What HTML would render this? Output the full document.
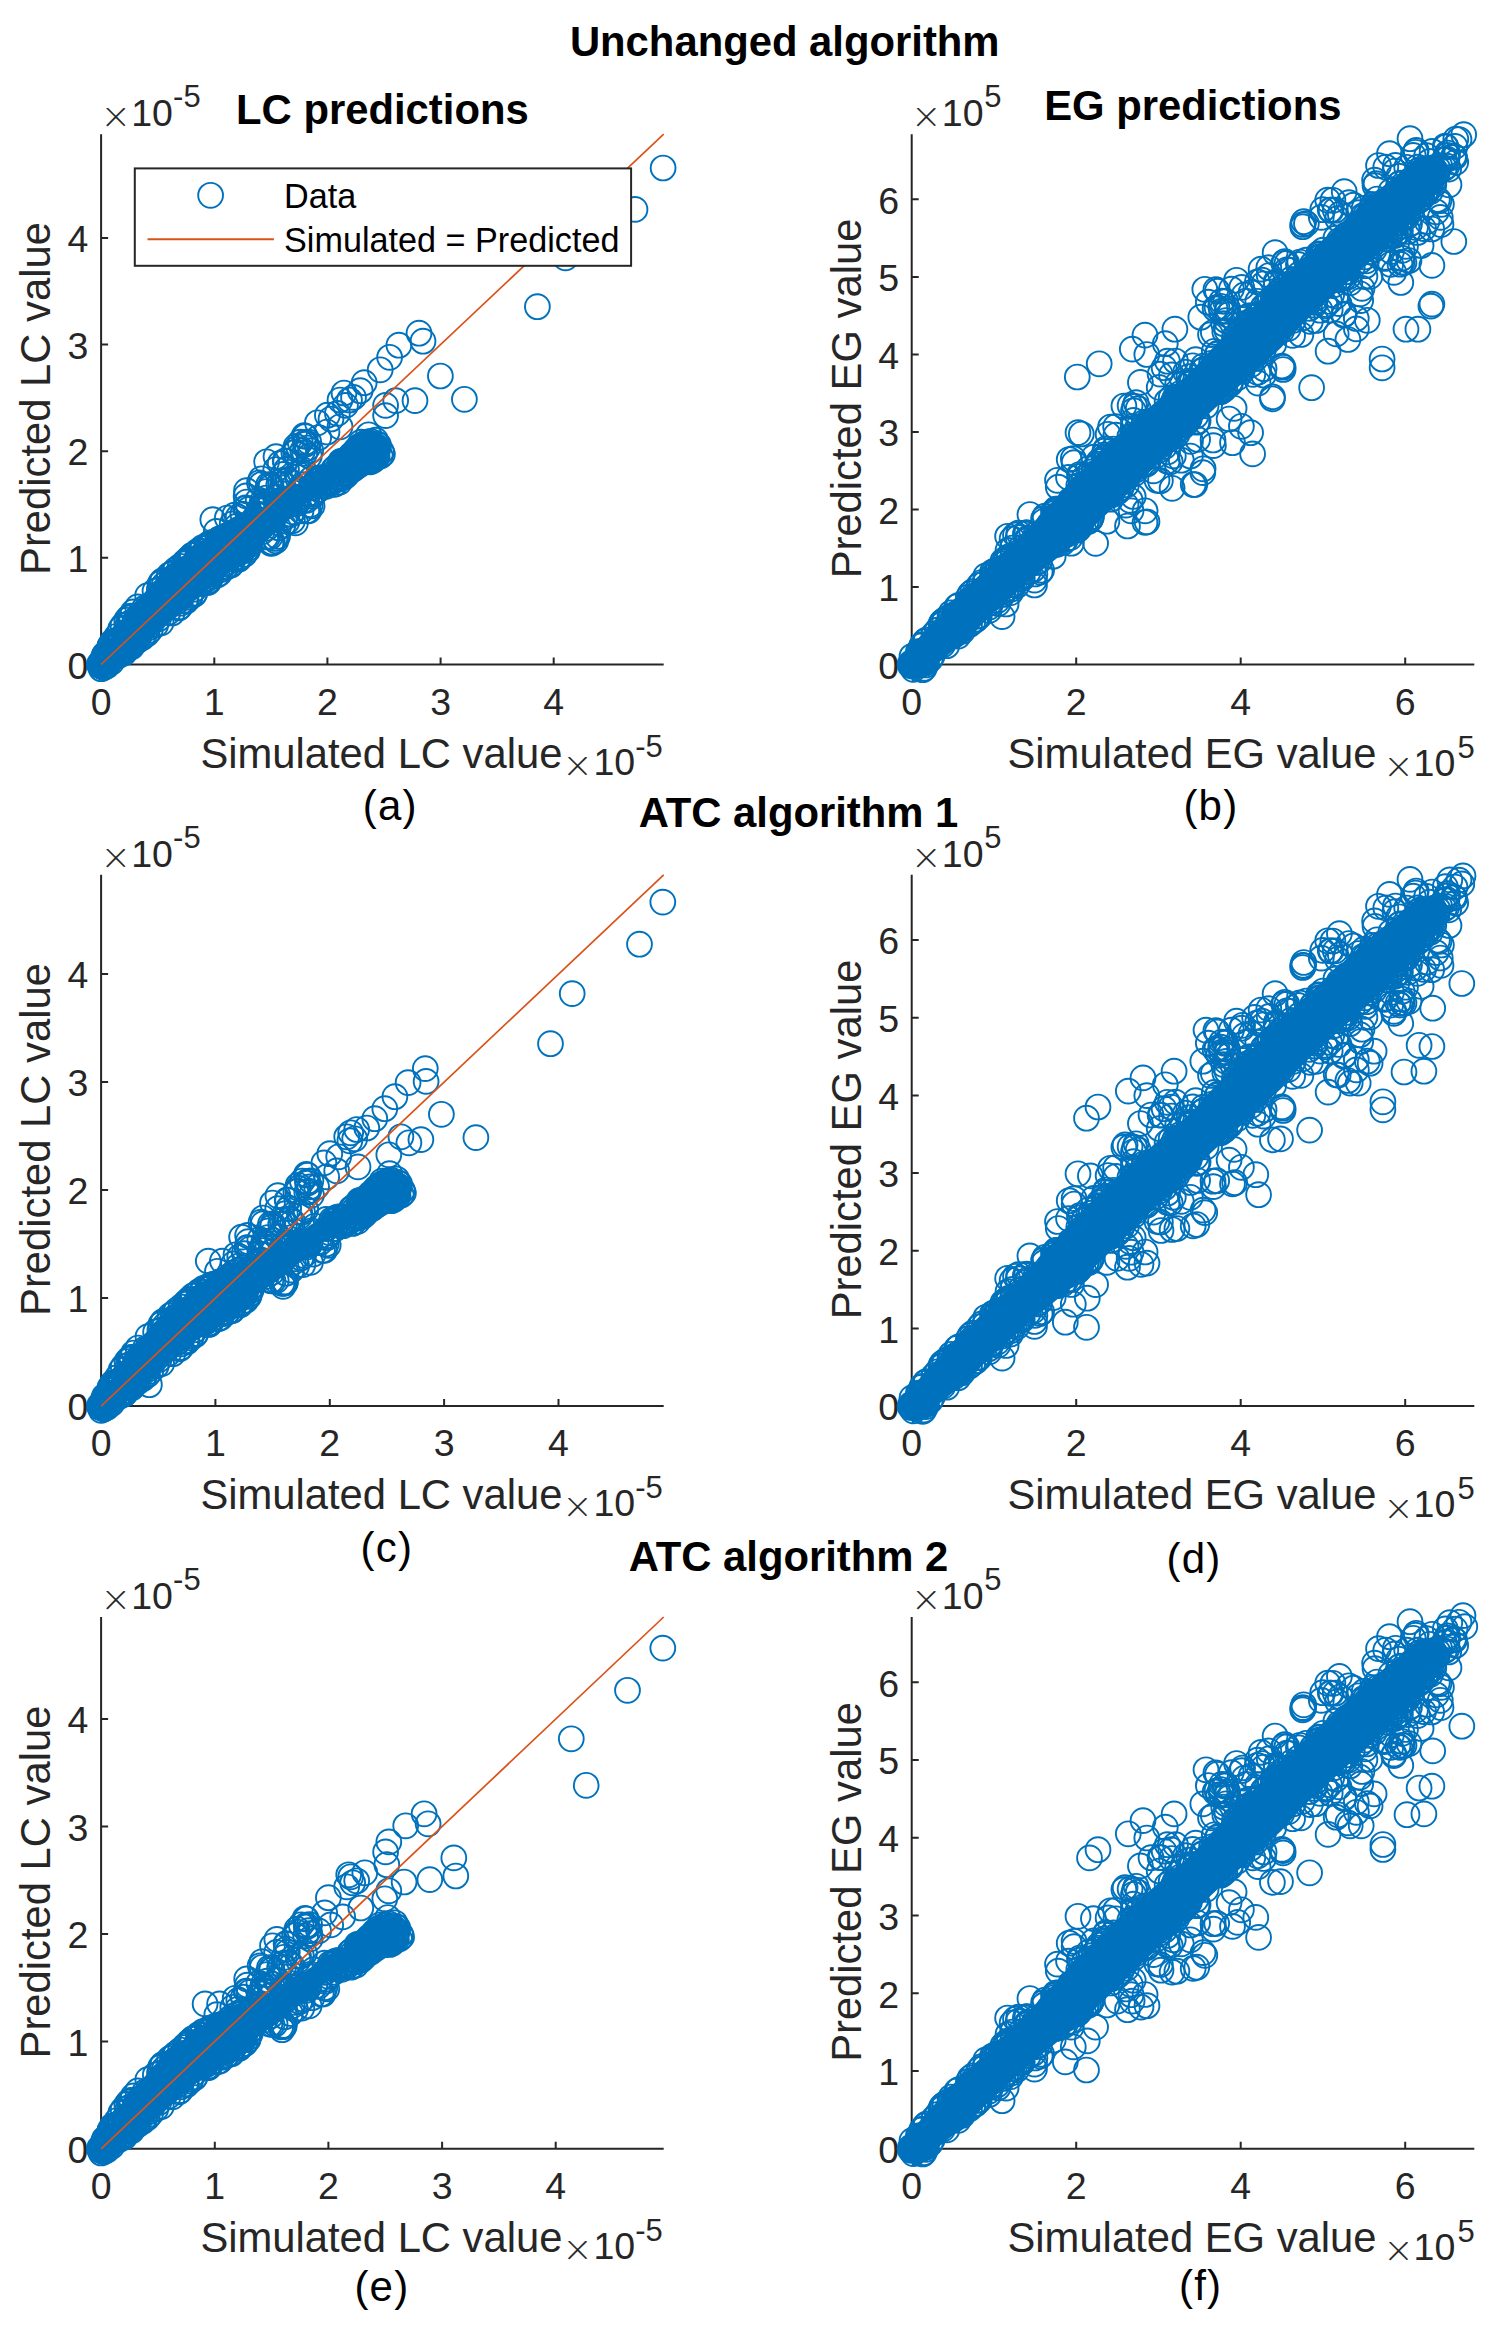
<!DOCTYPE html>
<html><head><meta charset="utf-8"><title>Figure</title>
<style>html,body{margin:0;padding:0;background:#fff}svg{display:block}text{font-family:"Liberation Sans",sans-serif;fill:#262626}.tk{font-size:37.5px}.lb{font-size:41.75px}.sp{font-size:31px}.xx{font-size:48px;stroke:#fff;stroke-width:1.5px}.tt{font-size:41.8px;font-weight:bold;fill:#000}.pl{font-size:42px;fill:#000;letter-spacing:1.2px}.lg{font-size:34.2px;fill:#000}</style></head><body>
<svg width="1496" height="2334" viewBox="0 0 1496 2334">
<rect width="1496" height="2334" fill="#fff"/>
<g><path d="M101.1 134.2V664.5H663.7" fill="none" stroke="#262626" stroke-width="2"/>
<text x="101.1" y="714.6" text-anchor="middle" class="tk">0</text>
<text x="214.3" y="714.6" text-anchor="middle" class="tk">1</text>
<text x="327.4" y="714.6" text-anchor="middle" class="tk">2</text>
<text x="440.6" y="714.6" text-anchor="middle" class="tk">3</text>
<text x="553.7" y="714.6" text-anchor="middle" class="tk">4</text>
<text x="88.4" y="678.7" text-anchor="end" class="tk">0</text>
<text x="88.4" y="572" text-anchor="end" class="tk">1</text>
<text x="88.4" y="465.4" text-anchor="end" class="tk">2</text>
<text x="88.4" y="358.7" text-anchor="end" class="tk">3</text>
<text x="88.4" y="252.1" text-anchor="end" class="tk">4</text>
<path d="M101.1 664.5v-7M214.3 664.5v-7M327.4 664.5v-7M440.6 664.5v-7M553.7 664.5v-7M101.1 664.5h7M101.1 557.8h7M101.1 451.2h7M101.1 344.5h7M101.1 237.9h7" stroke="#262626" stroke-width="2" fill="none"/>
<polygon fill="#0072BD" points="101.1,653.5 107.5,643.1 113.9,632.8 120.3,622.7 126.7,612.8 133.2,605.6 139.6,598.3 146,591 152.4,583.7 158.8,577.2 165.2,571.8 171.6,566.5 178,561.1 184.5,555.7 190.9,549.9 197.3,544.1 203.7,539.9 210.1,536.9 216.5,533.9 222.9,530.9 229.3,527.9 235.8,524.9 242.2,522 248.6,518.9 255,515 255,556 248.6,559.9 242.2,564.2 235.8,568.5 229.3,572.8 222.9,577.2 216.5,582.4 210.1,587.5 203.7,592.6 197.3,598.1 190.9,603.9 184.5,609.7 178,615.1 171.6,620.5 165.2,625.8 158.8,631.2 152.4,636.4 146,641.6 139.6,646.8 133.2,651.9 126.7,657.1 120.3,662.5 113.9,668 107.5,671.9 101.1,675.5"/><polygon fill="#0072BD" points="338.7,464.8 340.3,457.2 341.9,455.7 343.5,454.1 345.1,452.6 346.7,451.2 348.3,449.7 349.9,448.3 351.5,446.9 353.1,445.4 354.8,444 356.4,442.6 358,441.1 359.6,439.7 361.2,438.6 362.8,437.8 364.4,437 366,436.2 367.6,435.4 369.2,434.6 370.8,433.7 372.4,432.9 374,433.1 375.6,433.6 377.2,434 377.2,462 375.6,463.7 374,465.4 372.4,466.9 370.8,467.3 369.2,467.8 367.6,468.2 366,468.6 364.4,469.1 362.8,469.5 361.2,470 359.6,470.9 358,472.3 356.4,473.8 354.8,475.2 353.1,476.6 351.5,478.1 349.9,479.5 348.3,480.9 346.7,482.4 345.1,483.8 343.5,484.8 341.9,485.4 340.3,485.9 338.7,480.4"/><polygon fill="#0072BD" points="248.2,519.7 272.1,503.6 296.2,484.9 320.3,471.6 341,458.4 341,482.4 320.3,493.6 296.2,510.9 272.1,535.6 248.2,559.7"/><circle cx="101.1" cy="664.5" r="15" fill="#0072BD"/>
<g fill="none" stroke="#0072BD" stroke-width="1.9"><circle cx="168.7" cy="586.4" r="12.4"/><circle cx="188.8" cy="558.9" r="12.4"/><circle cx="219.5" cy="573.3" r="12.4"/><circle cx="222" cy="545.1" r="12.4"/><circle cx="245.2" cy="543.6" r="12.4"/><circle cx="180" cy="606.9" r="12.4"/><circle cx="105.6" cy="654.1" r="12.4"/><circle cx="178.6" cy="574.7" r="12.4"/><circle cx="169.4" cy="574.9" r="12.4"/><circle cx="206.8" cy="581.9" r="12.4"/><circle cx="111.6" cy="648.4" r="12.4"/><circle cx="158.8" cy="604.2" r="12.4"/><circle cx="237.1" cy="552" r="12.4"/><circle cx="195.1" cy="582.4" r="12.4"/><circle cx="150.8" cy="614" r="12.4"/><circle cx="116.2" cy="645.5" r="12.4"/><circle cx="167.9" cy="593.9" r="12.4"/><circle cx="118.5" cy="655.5" r="12.4"/><circle cx="246.1" cy="534.9" r="12.4"/><circle cx="132.6" cy="640" r="12.4"/><circle cx="248.9" cy="525.8" r="12.4"/><circle cx="150.2" cy="630.1" r="12.4"/><circle cx="188.1" cy="587" r="12.4"/><circle cx="244.4" cy="554.3" r="12.4"/><circle cx="124.1" cy="641.7" r="12.4"/><circle cx="211.5" cy="557.5" r="12.4"/><circle cx="232.9" cy="558.8" r="12.4"/><circle cx="106.9" cy="657" r="12.4"/><circle cx="139.5" cy="627.8" r="12.4"/><circle cx="208.7" cy="544.1" r="12.4"/><circle cx="228.4" cy="540.3" r="12.4"/><circle cx="131.6" cy="646.7" r="12.4"/><circle cx="110.1" cy="645.7" r="12.4"/><circle cx="120.8" cy="628.8" r="12.4"/><circle cx="204.3" cy="579.5" r="12.4"/><circle cx="103.8" cy="667.3" r="12.4"/><circle cx="196.1" cy="565.6" r="12.4"/><circle cx="112.3" cy="642.9" r="12.4"/><circle cx="206.2" cy="557.8" r="12.4"/><circle cx="235.7" cy="541.9" r="12.4"/><circle cx="230.1" cy="543.8" r="12.4"/><circle cx="192" cy="555.5" r="12.4"/><circle cx="209.9" cy="573.3" r="12.4"/><circle cx="226.3" cy="551.6" r="12.4"/><circle cx="172.9" cy="582.2" r="12.4"/><circle cx="238.6" cy="559.2" r="12.4"/><circle cx="202.4" cy="547.7" r="12.4"/><circle cx="199.7" cy="562.2" r="12.4"/><circle cx="130.7" cy="616.2" r="12.4"/><circle cx="158.5" cy="618.7" r="12.4"/><circle cx="175.3" cy="575.9" r="12.4"/><circle cx="142.4" cy="637.5" r="12.4"/><circle cx="133.1" cy="637.1" r="12.4"/><circle cx="226.4" cy="554.1" r="12.4"/><circle cx="105.8" cy="657.2" r="12.4"/><circle cx="186.3" cy="581.4" r="12.4"/><circle cx="169" cy="600.5" r="12.4"/><circle cx="108.1" cy="651.6" r="12.4"/><circle cx="198.9" cy="583.6" r="12.4"/><circle cx="172.1" cy="613" r="12.4"/><circle cx="207.8" cy="582.3" r="12.4"/><circle cx="205.3" cy="580.1" r="12.4"/><circle cx="219.4" cy="551.8" r="12.4"/><circle cx="209" cy="544.2" r="12.4"/><circle cx="237" cy="532.7" r="12.4"/><circle cx="242.1" cy="540.1" r="12.4"/><circle cx="223.3" cy="550.2" r="12.4"/><circle cx="247.5" cy="538" r="12.4"/><circle cx="149" cy="620.1" r="12.4"/><circle cx="167" cy="607.4" r="12.4"/><circle cx="222" cy="557.6" r="12.4"/><circle cx="218.8" cy="539.6" r="12.4"/><circle cx="209.2" cy="580.7" r="12.4"/><circle cx="242.9" cy="528.2" r="12.4"/><circle cx="144.4" cy="608.1" r="12.4"/><circle cx="184.7" cy="563.8" r="12.4"/><circle cx="235.6" cy="532" r="12.4"/><circle cx="186.7" cy="561" r="12.4"/><circle cx="191.5" cy="586.9" r="12.4"/><circle cx="220.7" cy="543.2" r="12.4"/><circle cx="110.9" cy="646.6" r="12.4"/><circle cx="239" cy="558.8" r="12.4"/><circle cx="165.9" cy="608.1" r="12.4"/><circle cx="129.7" cy="630" r="12.4"/><circle cx="104.5" cy="654.7" r="12.4"/><circle cx="149.2" cy="611.1" r="12.4"/><circle cx="119.4" cy="653.7" r="12.4"/><circle cx="180.3" cy="603.2" r="12.4"/><circle cx="180.2" cy="566.3" r="12.4"/><circle cx="196.5" cy="559.3" r="12.4"/><circle cx="135.9" cy="641.6" r="12.4"/><circle cx="148.1" cy="609.7" r="12.4"/><circle cx="233.7" cy="532.6" r="12.4"/><circle cx="139.9" cy="614.7" r="12.4"/><circle cx="119.9" cy="643.3" r="12.4"/><circle cx="203" cy="564.4" r="12.4"/><circle cx="214.3" cy="562.9" r="12.4"/><circle cx="117" cy="640.4" r="12.4"/><circle cx="123" cy="625.4" r="12.4"/><circle cx="249" cy="542.3" r="12.4"/><circle cx="243.2" cy="547.2" r="12.4"/><circle cx="178.1" cy="587.8" r="12.4"/><circle cx="227.2" cy="535.9" r="12.4"/><circle cx="161.6" cy="582" r="12.4"/><circle cx="103.4" cy="658" r="12.4"/><circle cx="195.1" cy="562.7" r="12.4"/><circle cx="221.3" cy="542.4" r="12.4"/><circle cx="222.8" cy="539.4" r="12.4"/><circle cx="215.7" cy="550.2" r="12.4"/><circle cx="111.6" cy="662.1" r="12.4"/><circle cx="154.2" cy="603.6" r="12.4"/><circle cx="200.6" cy="556.6" r="12.4"/><circle cx="159.3" cy="589.4" r="12.4"/><circle cx="247.5" cy="550.4" r="12.4"/><circle cx="161.1" cy="622.8" r="12.4"/><circle cx="115.8" cy="641.6" r="12.4"/><circle cx="245.6" cy="532" r="12.4"/><circle cx="112.5" cy="651.7" r="12.4"/><circle cx="125" cy="649" r="12.4"/><circle cx="192.4" cy="566.9" r="12.4"/><circle cx="190.4" cy="559.3" r="12.4"/><circle cx="184.8" cy="588.5" r="12.4"/><circle cx="137.7" cy="606.9" r="12.4"/><circle cx="159.3" cy="602.7" r="12.4"/><circle cx="242.2" cy="549.3" r="12.4"/><circle cx="246.5" cy="527.2" r="12.4"/><circle cx="209.1" cy="547.3" r="12.4"/><circle cx="118.3" cy="653.3" r="12.4"/><circle cx="108.9" cy="662.5" r="12.4"/><circle cx="200.9" cy="551.5" r="12.4"/><circle cx="163.8" cy="590.7" r="12.4"/><circle cx="243.4" cy="549.8" r="12.4"/><circle cx="234.4" cy="553" r="12.4"/><circle cx="203.4" cy="553.8" r="12.4"/><circle cx="129.5" cy="617.6" r="12.4"/><circle cx="107" cy="665.7" r="12.4"/><circle cx="194.2" cy="594.2" r="12.4"/><circle cx="114" cy="657.3" r="12.4"/><circle cx="172.6" cy="573" r="12.4"/><circle cx="226.3" cy="535.9" r="12.4"/><circle cx="194.3" cy="583.4" r="12.4"/><circle cx="139.6" cy="615.2" r="12.4"/><circle cx="248.8" cy="526.6" r="12.4"/><circle cx="238.6" cy="557.6" r="12.4"/><circle cx="231.8" cy="533.3" r="12.4"/><circle cx="173.5" cy="580.1" r="12.4"/><circle cx="112.5" cy="653" r="12.4"/><circle cx="209.4" cy="573.4" r="12.4"/><circle cx="154.5" cy="618.6" r="12.4"/><circle cx="207" cy="546" r="12.4"/><circle cx="166.5" cy="606.3" r="12.4"/><circle cx="160.8" cy="607.6" r="12.4"/><circle cx="155.7" cy="624.9" r="12.4"/><circle cx="130.2" cy="622.8" r="12.4"/><circle cx="185.2" cy="600.2" r="12.4"/><circle cx="104.4" cy="656.1" r="12.4"/><circle cx="245.4" cy="540.3" r="12.4"/><circle cx="218.8" cy="539.4" r="12.4"/><circle cx="235.4" cy="544.7" r="12.4"/><circle cx="198" cy="551" r="12.4"/><circle cx="179" cy="597" r="12.4"/><circle cx="245.7" cy="532.6" r="12.4"/><circle cx="208.8" cy="555.2" r="12.4"/><circle cx="200.7" cy="551.2" r="12.4"/><circle cx="244.2" cy="532.8" r="12.4"/><circle cx="220.9" cy="569.6" r="12.4"/><circle cx="211.8" cy="563.3" r="12.4"/><circle cx="131.6" cy="616.5" r="12.4"/><circle cx="109.9" cy="646.5" r="12.4"/><circle cx="217" cy="575" r="12.4"/><circle cx="188.3" cy="584.5" r="12.4"/><circle cx="128.7" cy="617.8" r="12.4"/><circle cx="189.9" cy="597.3" r="12.4"/><circle cx="126.9" cy="627.3" r="12.4"/><circle cx="223.1" cy="540.7" r="12.4"/><circle cx="237.7" cy="532.1" r="12.4"/><circle cx="173.2" cy="572.6" r="12.4"/><circle cx="220.8" cy="540.6" r="12.4"/><circle cx="142.1" cy="624.4" r="12.4"/><circle cx="171.7" cy="578.8" r="12.4"/><circle cx="124.6" cy="652.1" r="12.4"/><circle cx="230.9" cy="565.1" r="12.4"/><circle cx="180.9" cy="585.7" r="12.4"/><circle cx="227.5" cy="557.7" r="12.4"/><circle cx="208.1" cy="582.4" r="12.4"/><circle cx="243.8" cy="537.7" r="12.4"/><circle cx="163.4" cy="595.4" r="12.4"/><circle cx="132.2" cy="641.8" r="12.4"/><circle cx="225.4" cy="567.5" r="12.4"/><circle cx="146.8" cy="608.7" r="12.4"/><circle cx="116.9" cy="636.3" r="12.4"/><circle cx="225" cy="562.9" r="12.4"/><circle cx="207.1" cy="572.9" r="12.4"/><circle cx="249.2" cy="533.1" r="12.4"/><circle cx="144.5" cy="634" r="12.4"/><circle cx="151.5" cy="616" r="12.4"/><circle cx="210.4" cy="551.5" r="12.4"/><circle cx="150.6" cy="619.3" r="12.4"/><circle cx="115.2" cy="650.9" r="12.4"/><circle cx="226.1" cy="563.3" r="12.4"/><circle cx="124.6" cy="652.2" r="12.4"/><circle cx="238.6" cy="532.6" r="12.4"/><circle cx="215.6" cy="565.7" r="12.4"/><circle cx="162.7" cy="580.5" r="12.4"/><circle cx="247.8" cy="548.4" r="12.4"/><circle cx="150.5" cy="614" r="12.4"/><circle cx="177.2" cy="601.4" r="12.4"/><circle cx="215.6" cy="563.5" r="12.4"/><circle cx="175.8" cy="569.7" r="12.4"/><circle cx="208" cy="556.4" r="12.4"/><circle cx="194.8" cy="593.1" r="12.4"/><circle cx="187.2" cy="568.7" r="12.4"/><circle cx="155" cy="591.1" r="12.4"/><circle cx="121.4" cy="637.7" r="12.4"/><circle cx="184.8" cy="562.1" r="12.4"/><circle cx="190.9" cy="570.9" r="12.4"/><circle cx="137.1" cy="621.7" r="12.4"/><circle cx="112.5" cy="641.6" r="12.4"/><circle cx="241.4" cy="534.5" r="12.4"/><circle cx="211.3" cy="576.4" r="12.4"/><circle cx="130.9" cy="644" r="12.4"/><circle cx="186.2" cy="601.1" r="12.4"/><circle cx="185.9" cy="580.6" r="12.4"/><circle cx="122.7" cy="646.4" r="12.4"/><circle cx="194.3" cy="589.2" r="12.4"/><circle cx="249.7" cy="544.5" r="12.4"/><circle cx="185.6" cy="576.3" r="12.4"/><circle cx="165.7" cy="603.9" r="12.4"/><circle cx="209.5" cy="551.3" r="12.4"/><circle cx="146.6" cy="628.6" r="12.4"/><circle cx="167.9" cy="612.5" r="12.4"/><circle cx="204.9" cy="580.3" r="12.4"/><circle cx="160.2" cy="583.6" r="12.4"/><circle cx="245.5" cy="535.2" r="12.4"/><circle cx="134.2" cy="642.9" r="12.4"/><circle cx="219.4" cy="539.2" r="12.4"/><circle cx="101.2" cy="668.7" r="12.4"/><circle cx="110.5" cy="658.1" r="12.4"/><circle cx="188.6" cy="558.6" r="12.4"/><circle cx="147.1" cy="633.8" r="12.4"/><circle cx="131.9" cy="644.7" r="12.4"/><circle cx="226.3" cy="566.5" r="12.4"/><circle cx="232.5" cy="546.9" r="12.4"/><circle cx="129.7" cy="637" r="12.4"/><circle cx="209.5" cy="546.1" r="12.4"/><circle cx="121.2" cy="647.6" r="12.4"/><circle cx="134.4" cy="630.8" r="12.4"/><circle cx="136.3" cy="619.3" r="12.4"/><circle cx="233.2" cy="558.8" r="12.4"/><circle cx="239.5" cy="535.6" r="12.4"/><circle cx="114.5" cy="648.2" r="12.4"/><circle cx="180.4" cy="592" r="12.4"/><circle cx="221.1" cy="538.3" r="12.4"/><circle cx="137.8" cy="640.4" r="12.4"/><circle cx="235.1" cy="548.9" r="12.4"/><circle cx="213.2" cy="569.4" r="12.4"/><circle cx="184.1" cy="570.2" r="12.4"/><circle cx="218.1" cy="543.8" r="12.4"/><circle cx="203.3" cy="563" r="12.4"/><circle cx="125.8" cy="646.3" r="12.4"/><circle cx="216.6" cy="562.3" r="12.4"/><circle cx="134.1" cy="639.5" r="12.4"/><circle cx="190.2" cy="595.4" r="12.4"/><circle cx="123.8" cy="653.1" r="12.4"/><circle cx="167.1" cy="595.8" r="12.4"/><circle cx="186.1" cy="586.1" r="12.4"/><circle cx="147.6" cy="595.7" r="12.4"/><circle cx="179.6" cy="585" r="12.4"/><circle cx="126.7" cy="620.3" r="12.4"/><circle cx="225.2" cy="559.9" r="12.4"/><circle cx="155.5" cy="607.9" r="12.4"/><circle cx="214.8" cy="561.4" r="12.4"/><circle cx="212.4" cy="542.3" r="12.4"/><circle cx="122.2" cy="652.4" r="12.4"/><circle cx="112.5" cy="644.1" r="12.4"/><circle cx="135.4" cy="630.7" r="12.4"/><circle cx="240.4" cy="531" r="12.4"/><circle cx="192.3" cy="555.1" r="12.4"/><circle cx="109.8" cy="647.1" r="12.4"/><circle cx="233.5" cy="535.5" r="12.4"/><circle cx="158" cy="614.1" r="12.4"/><circle cx="128.5" cy="644.8" r="12.4"/><circle cx="133.1" cy="642.2" r="12.4"/><circle cx="249.5" cy="541.7" r="12.4"/><circle cx="112" cy="658.6" r="12.4"/><circle cx="103.9" cy="667.3" r="12.4"/><circle cx="239" cy="552.9" r="12.4"/><circle cx="124" cy="635" r="12.4"/><circle cx="209.2" cy="567.7" r="12.4"/><circle cx="158.5" cy="597.8" r="12.4"/><circle cx="178.7" cy="608" r="12.4"/><circle cx="107.2" cy="658.1" r="12.4"/><circle cx="164.4" cy="584.4" r="12.4"/><circle cx="140" cy="624.7" r="12.4"/><circle cx="143" cy="629.2" r="12.4"/><circle cx="230.4" cy="564.8" r="12.4"/><circle cx="133.3" cy="611.9" r="12.4"/><circle cx="185.6" cy="575.6" r="12.4"/><circle cx="238.4" cy="535.2" r="12.4"/><circle cx="230.8" cy="550.9" r="12.4"/><circle cx="278.4" cy="501.7" r="12.4"/><circle cx="277.7" cy="512.9" r="12.4"/><circle cx="286.4" cy="503.3" r="12.4"/><circle cx="260.4" cy="528.2" r="12.4"/><circle cx="284.8" cy="500.5" r="12.4"/><circle cx="299.4" cy="490.7" r="12.4"/><circle cx="255.4" cy="528.7" r="12.4"/><circle cx="280.7" cy="503.3" r="12.4"/><circle cx="293" cy="511.9" r="12.4"/><circle cx="290.8" cy="514.2" r="12.4"/><circle cx="250" cy="534" r="12.4"/><circle cx="276.2" cy="503.5" r="12.4"/><circle cx="279.3" cy="500.7" r="12.4"/><circle cx="286.3" cy="514.6" r="12.4"/><circle cx="284.3" cy="506.9" r="12.4"/><circle cx="267.7" cy="507.8" r="12.4"/><circle cx="274.9" cy="538.5" r="12.4"/><circle cx="291.7" cy="498" r="12.4"/><circle cx="299.6" cy="488.9" r="12.4"/><circle cx="284.3" cy="517.7" r="12.4"/><circle cx="321.7" cy="479.1" r="12.4"/><circle cx="292.5" cy="520.7" r="12.4"/><circle cx="307.6" cy="493.8" r="12.4"/><circle cx="296" cy="499.2" r="12.4"/><circle cx="280.2" cy="508.7" r="12.4"/><circle cx="312" cy="494.5" r="12.4"/><circle cx="277.6" cy="536.3" r="12.4"/><circle cx="251.1" cy="522.6" r="12.4"/><circle cx="287.2" cy="503.6" r="12.4"/><circle cx="275.9" cy="540.8" r="12.4"/><circle cx="259.7" cy="519.8" r="12.4"/><circle cx="265.8" cy="536.6" r="12.4"/><circle cx="266.2" cy="507.8" r="12.4"/><circle cx="290" cy="504.1" r="12.4"/><circle cx="266.6" cy="528.2" r="12.4"/><circle cx="298.2" cy="501.4" r="12.4"/><circle cx="296.2" cy="503.9" r="12.4"/><circle cx="312.1" cy="496.3" r="12.4"/><circle cx="273.9" cy="517.1" r="12.4"/><circle cx="316.4" cy="480.1" r="12.4"/><circle cx="303.3" cy="500.3" r="12.4"/><circle cx="301" cy="510.9" r="12.4"/><circle cx="311.6" cy="478.8" r="12.4"/><circle cx="296" cy="501.8" r="12.4"/><circle cx="291.6" cy="501.9" r="12.4"/><circle cx="270.2" cy="536.8" r="12.4"/><circle cx="289.3" cy="499.2" r="12.4"/><circle cx="267.4" cy="520.7" r="12.4"/><circle cx="261.9" cy="531.9" r="12.4"/><circle cx="257.9" cy="515.4" r="12.4"/><circle cx="253.5" cy="519.7" r="12.4"/><circle cx="302.4" cy="484.6" r="12.4"/><circle cx="282.9" cy="525" r="12.4"/><circle cx="285.2" cy="500" r="12.4"/><circle cx="314.9" cy="492.9" r="12.4"/><circle cx="252.3" cy="526.8" r="12.4"/><circle cx="287.2" cy="521.3" r="12.4"/><circle cx="278.4" cy="527.7" r="12.4"/><circle cx="267.6" cy="537" r="12.4"/><circle cx="273.3" cy="517.1" r="12.4"/><circle cx="306.6" cy="500.3" r="12.4"/><circle cx="312" cy="487.6" r="12.4"/><circle cx="326.6" cy="483" r="12.4"/><circle cx="331.6" cy="482.6" r="12.4"/><circle cx="336" cy="467.2" r="12.4"/><circle cx="325.5" cy="482.9" r="12.4"/><circle cx="321.8" cy="477.6" r="12.4"/><circle cx="316.4" cy="485.4" r="12.4"/><circle cx="339.5" cy="482.1" r="12.4"/><circle cx="319.4" cy="485.6" r="12.4"/><circle cx="326.5" cy="482" r="12.4"/><circle cx="326" cy="486.4" r="12.4"/><circle cx="340.7" cy="461.4" r="12.4"/><circle cx="333.8" cy="469.1" r="12.4"/><circle cx="317.1" cy="480.9" r="12.4"/><circle cx="334.3" cy="484.3" r="12.4"/><circle cx="319.1" cy="480.7" r="12.4"/><circle cx="316.8" cy="484.6" r="12.4"/><circle cx="328.1" cy="477.7" r="12.4"/><circle cx="323.8" cy="485.4" r="12.4"/><circle cx="337" cy="469.5" r="12.4"/><circle cx="325.8" cy="482" r="12.4"/><circle cx="335.1" cy="483.8" r="12.4"/><circle cx="325.8" cy="483.1" r="12.4"/><circle cx="329.7" cy="483" r="12.4"/><circle cx="319.7" cy="478.3" r="12.4"/><circle cx="318.8" cy="489.3" r="12.4"/><circle cx="322.3" cy="481.6" r="12.4"/><circle cx="319.1" cy="480.6" r="12.4"/><circle cx="316.6" cy="485" r="12.4"/><circle cx="319.7" cy="484.6" r="12.4"/><circle cx="322.9" cy="477.8" r="12.4"/><circle cx="357.3" cy="465.3" r="12.4"/><circle cx="341.2" cy="473.3" r="12.4"/><circle cx="345.7" cy="465.8" r="12.4"/><circle cx="357.4" cy="460.9" r="12.4"/><circle cx="359.9" cy="452.5" r="12.4"/><circle cx="372" cy="448.9" r="12.4"/><circle cx="366.6" cy="461.7" r="12.4"/><circle cx="343.3" cy="460.9" r="12.4"/><circle cx="350.6" cy="470.2" r="12.4"/><circle cx="375.6" cy="440.1" r="12.4"/><circle cx="369.2" cy="446" r="12.4"/><circle cx="370.6" cy="449.6" r="12.4"/><circle cx="354.2" cy="455.1" r="12.4"/><circle cx="339.6" cy="477.4" r="12.4"/><circle cx="352.9" cy="457.9" r="12.4"/><circle cx="352.3" cy="464.7" r="12.4"/><circle cx="351.6" cy="457.8" r="12.4"/><circle cx="359.7" cy="460.4" r="12.4"/><circle cx="344.2" cy="477.1" r="12.4"/><circle cx="358.1" cy="448.9" r="12.4"/><circle cx="375.4" cy="445.9" r="12.4"/><circle cx="342.9" cy="468.8" r="12.4"/><circle cx="347.2" cy="468" r="12.4"/><circle cx="364.8" cy="454.7" r="12.4"/><circle cx="352.5" cy="460.6" r="12.4"/><circle cx="353.3" cy="455.2" r="12.4"/><circle cx="372.9" cy="444.5" r="12.4"/><circle cx="343.1" cy="465.8" r="12.4"/><circle cx="354.9" cy="451.6" r="12.4"/><circle cx="360.8" cy="447.5" r="12.4"/><circle cx="355.9" cy="467" r="12.4"/><circle cx="356.8" cy="455" r="12.4"/><circle cx="376.8" cy="447.2" r="12.4"/><circle cx="357.6" cy="451.1" r="12.4"/><circle cx="370.6" cy="446.2" r="12.4"/><circle cx="341.2" cy="468.9" r="12.4"/><circle cx="356.2" cy="460.1" r="12.4"/><circle cx="363.5" cy="460.8" r="12.4"/><circle cx="348" cy="458.6" r="12.4"/><circle cx="373.6" cy="453.7" r="12.4"/><circle cx="342.6" cy="461.5" r="12.4"/><circle cx="370.8" cy="460.7" r="12.4"/><circle cx="371.4" cy="449.6" r="12.4"/><circle cx="346.7" cy="473.5" r="12.4"/><circle cx="364.4" cy="461" r="12.4"/><circle cx="350.9" cy="457.2" r="12.4"/><circle cx="365.5" cy="443.2" r="12.4"/><circle cx="356.7" cy="448.9" r="12.4"/><circle cx="362.2" cy="445.6" r="12.4"/><circle cx="365.3" cy="457.6" r="12.4"/><circle cx="354.4" cy="456" r="12.4"/><circle cx="354.5" cy="452.5" r="12.4"/><circle cx="352" cy="457" r="12.4"/><circle cx="349.7" cy="461.3" r="12.4"/><circle cx="364.8" cy="449.2" r="12.4"/><circle cx="361.9" cy="461.6" r="12.4"/><circle cx="349.5" cy="461.6" r="12.4"/><circle cx="364.6" cy="462" r="12.4"/><circle cx="373.2" cy="459.2" r="12.4"/><circle cx="370.3" cy="456.3" r="12.4"/><circle cx="373.2" cy="459.6" r="12.4"/><circle cx="366.5" cy="446.3" r="12.4"/><circle cx="375.3" cy="452.9" r="12.4"/><circle cx="356.6" cy="452.4" r="12.4"/><circle cx="376.3" cy="447.4" r="12.4"/><circle cx="363.7" cy="453.9" r="12.4"/><circle cx="354.2" cy="454.6" r="12.4"/><circle cx="346.8" cy="474.7" r="12.4"/><circle cx="367.3" cy="442.1" r="12.4"/><circle cx="362.7" cy="449" r="12.4"/><circle cx="366.8" cy="456.6" r="12.4"/><circle cx="339.3" cy="479" r="12.4"/><circle cx="352.2" cy="468.6" r="12.4"/><circle cx="369.1" cy="460.5" r="12.4"/><circle cx="360.6" cy="445.5" r="12.4"/><circle cx="350" cy="468" r="12.4"/><circle cx="340.8" cy="463.6" r="12.4"/><circle cx="356.4" cy="455" r="12.4"/><circle cx="344.7" cy="470" r="12.4"/><circle cx="362.3" cy="457.7" r="12.4"/><circle cx="344.6" cy="475.1" r="12.4"/><circle cx="359.2" cy="464.7" r="12.4"/><circle cx="375.9" cy="448.9" r="12.4"/><circle cx="341.7" cy="462.9" r="12.4"/><circle cx="351.4" cy="454.6" r="12.4"/><circle cx="360.6" cy="458.1" r="12.4"/><circle cx="367.2" cy="461.2" r="12.4"/><circle cx="357.1" cy="465.6" r="12.4"/><circle cx="340.6" cy="468.4" r="12.4"/><circle cx="359.8" cy="462.9" r="12.4"/><circle cx="353" cy="469.4" r="12.4"/><circle cx="367.6" cy="459.6" r="12.4"/><circle cx="375.9" cy="456.5" r="12.4"/><circle cx="361.7" cy="445.9" r="12.4"/><circle cx="361.4" cy="445.8" r="12.4"/><circle cx="367.7" cy="461.6" r="12.4"/><circle cx="349.1" cy="460.7" r="12.4"/><circle cx="354.2" cy="459.3" r="12.4"/><circle cx="370.7" cy="441.3" r="12.4"/><circle cx="369.1" cy="444.9" r="12.4"/><circle cx="340.6" cy="464.1" r="12.4"/><circle cx="339.6" cy="476.5" r="12.4"/><circle cx="367.1" cy="442.3" r="12.4"/><circle cx="341.6" cy="467" r="12.4"/><circle cx="353.3" cy="468.4" r="12.4"/><circle cx="351" cy="467.6" r="12.4"/><circle cx="370.8" cy="456.7" r="12.4"/><circle cx="343.3" cy="464.7" r="12.4"/><circle cx="346.8" cy="459" r="12.4"/><circle cx="343.5" cy="472.3" r="12.4"/><circle cx="369.4" cy="451.9" r="12.4"/><circle cx="368.6" cy="434.8" r="12.4"/><circle cx="366.2" cy="449.5" r="12.4"/><circle cx="367.2" cy="456.9" r="12.4"/><circle cx="380.3" cy="456.1" r="12.4"/><circle cx="377.1" cy="457.1" r="12.4"/><circle cx="375.2" cy="455.2" r="12.4"/><circle cx="376.2" cy="454.6" r="12.4"/><circle cx="368.7" cy="444.4" r="12.4"/><circle cx="368.8" cy="454.9" r="12.4"/><circle cx="376.4" cy="443.5" r="12.4"/><circle cx="368.9" cy="445" r="12.4"/><circle cx="378.2" cy="448.3" r="12.4"/><circle cx="372.6" cy="444.2" r="12.4"/><circle cx="373.2" cy="460.4" r="12.4"/><circle cx="370.4" cy="446.6" r="12.4"/><circle cx="382.4" cy="454.2" r="12.4"/><circle cx="368.1" cy="456.8" r="12.4"/><circle cx="367.5" cy="453" r="12.4"/><circle cx="361.1" cy="442.1" r="12.4"/><circle cx="378.5" cy="444.9" r="12.4"/><circle cx="370.2" cy="449.5" r="12.4"/><circle cx="373.8" cy="445.8" r="12.4"/><circle cx="370.4" cy="461.8" r="12.4"/><circle cx="381.4" cy="451.4" r="12.4"/><circle cx="266.4" cy="491.5" r="12.4"/><circle cx="242.5" cy="527.6" r="12.4"/><circle cx="305.4" cy="442.4" r="12.4"/><circle cx="290.7" cy="482.3" r="12.4"/><circle cx="288.4" cy="480.2" r="12.4"/><circle cx="228.9" cy="535.6" r="12.4"/><circle cx="270.7" cy="500.8" r="12.4"/><circle cx="286.5" cy="469.4" r="12.4"/><circle cx="300.2" cy="442.2" r="12.4"/><circle cx="278.8" cy="484.8" r="12.4"/><circle cx="305.4" cy="444.2" r="12.4"/><circle cx="238.2" cy="517" r="12.4"/><circle cx="282.6" cy="484.3" r="12.4"/><circle cx="234" cy="538.9" r="12.4"/><circle cx="263.3" cy="503.9" r="12.4"/><circle cx="238.4" cy="529.6" r="12.4"/><circle cx="222" cy="544.6" r="12.4"/><circle cx="236.4" cy="531.3" r="12.4"/><circle cx="236.9" cy="526.1" r="12.4"/><circle cx="297.6" cy="473.4" r="12.4"/><circle cx="296.1" cy="449.2" r="12.4"/><circle cx="270.7" cy="487.3" r="12.4"/><circle cx="283.3" cy="474.4" r="12.4"/><circle cx="275.8" cy="469.5" r="12.4"/><circle cx="287.5" cy="479.6" r="12.4"/><circle cx="214.1" cy="550" r="12.4"/><circle cx="245.5" cy="507.9" r="12.4"/><circle cx="232.4" cy="532.7" r="12.4"/><circle cx="246.3" cy="508.3" r="12.4"/><circle cx="304.7" cy="453.2" r="12.4"/><circle cx="266.2" cy="498" r="12.4"/><circle cx="232.2" cy="524" r="12.4"/><circle cx="219.8" cy="542.1" r="12.4"/><circle cx="275.5" cy="497.7" r="12.4"/><circle cx="300.4" cy="472.8" r="12.4"/><circle cx="266.2" cy="505.2" r="12.4"/><circle cx="309.3" cy="456.1" r="12.4"/><circle cx="297.4" cy="477.2" r="12.4"/><circle cx="276.5" cy="497" r="12.4"/><circle cx="211.6" cy="556.1" r="12.4"/><circle cx="308.7" cy="442" r="12.4"/><circle cx="295.7" cy="452.3" r="12.4"/><circle cx="261.7" cy="510.8" r="12.4"/><circle cx="262.3" cy="507" r="12.4"/><circle cx="262.2" cy="501.9" r="12.4"/><circle cx="259.4" cy="509.4" r="12.4"/><circle cx="280.4" cy="481.4" r="12.4"/><circle cx="258.1" cy="514.2" r="12.4"/><circle cx="258.2" cy="499.9" r="12.4"/><circle cx="307.6" cy="448" r="12.4"/><circle cx="222.3" cy="546.5" r="12.4"/><circle cx="242.8" cy="514" r="12.4"/><circle cx="304.2" cy="435.7" r="12.4"/><circle cx="305.3" cy="436.4" r="12.4"/><circle cx="296" cy="446.4" r="12.4"/><circle cx="210.7" cy="557.8" r="12.4"/><circle cx="268.7" cy="484.8" r="12.4"/><circle cx="271" cy="484.7" r="12.4"/><circle cx="303.6" cy="470.3" r="12.4"/><circle cx="261.5" cy="484.3" r="12.4"/><circle cx="272.3" cy="543" r="12.4"/><circle cx="312.1" cy="505.9" r="12.4"/><circle cx="272" cy="542.2" r="12.4"/><circle cx="310.3" cy="504.7" r="12.4"/><circle cx="295.5" cy="522.8" r="12.4"/><circle cx="306.8" cy="510.9" r="12.4"/><circle cx="270.9" cy="543.4" r="12.4"/><circle cx="308.6" cy="510.9" r="12.4"/><circle cx="327.4" cy="415.2" r="12.4"/><circle cx="261.3" cy="478.8" r="12.4"/><circle cx="216.3" cy="531.4" r="12.4"/><circle cx="293.8" cy="452.5" r="12.4"/><circle cx="285.7" cy="461.3" r="12.4"/><circle cx="276" cy="456.6" r="12.4"/><circle cx="246.1" cy="495.9" r="12.4"/><circle cx="234.6" cy="515.1" r="12.4"/><circle cx="248.7" cy="509.4" r="12.4"/><circle cx="259.5" cy="482.8" r="12.4"/><circle cx="246.6" cy="502" r="12.4"/><circle cx="285.2" cy="460.9" r="12.4"/><circle cx="663.1" cy="168" r="12.4"/><circle cx="635" cy="209.4" r="12.4"/><circle cx="565.5" cy="257.8" r="12.4"/><circle cx="537.4" cy="306.7" r="12.4"/><circle cx="419" cy="333.2" r="12.4"/><circle cx="423" cy="341.2" r="12.4"/><circle cx="398.9" cy="345.2" r="12.4"/><circle cx="389.6" cy="357.3" r="12.4"/><circle cx="380.2" cy="369.8" r="12.4"/><circle cx="364.2" cy="382.7" r="12.4"/><circle cx="360.2" cy="390.7" r="12.4"/><circle cx="440.4" cy="376" r="12.4"/><circle cx="464.4" cy="399.3" r="12.4"/><circle cx="415" cy="400.6" r="12.4"/><circle cx="395.7" cy="400.6" r="12.4"/><circle cx="385.6" cy="405.4" r="12.4"/><circle cx="385.6" cy="415.6" r="12.4"/><circle cx="344" cy="393" r="12.4"/><circle cx="349.5" cy="400" r="12.4"/><circle cx="340" cy="400" r="12.4"/><circle cx="353.5" cy="397.4" r="12.4"/><circle cx="345.5" cy="405.4" r="12.4"/><circle cx="317.4" cy="422.8" r="12.4"/><circle cx="337.4" cy="413.4" r="12.4"/><circle cx="340" cy="426.8" r="12.4"/><circle cx="318.7" cy="437.5" r="12.4"/><circle cx="331" cy="419" r="12.4"/><circle cx="327" cy="432" r="12.4"/><circle cx="212.8" cy="519.6" r="12.4"/><circle cx="227.3" cy="518" r="12.4"/><circle cx="246.5" cy="490.7" r="12.4"/><circle cx="266.6" cy="461.8" r="12.4"/><circle cx="280.2" cy="463.4" r="12.4"/><circle cx="302.7" cy="450.6" r="12.4"/><circle cx="310.7" cy="450.6" r="12.4"/></g>
<line x1="101.1" y1="664.5" x2="663.7" y2="134.2" stroke="#D95319" stroke-width="1.7"/>
<text x="381.4" y="767.5" text-anchor="middle" class="lb">Simulated LC value</text>
<text transform="translate(50.1 398.5) rotate(-90)" text-anchor="middle" class="lb">Predicted LC value</text>
<text x="101.7" y="132.9" class="xx">×</text>
<text x="131.2" y="126.4" class="tk">10</text>
<text x="173.1" y="107.2" class="sp">-5</text>
<text x="563.6" y="781.8" class="xx">×</text>
<text x="593.4" y="774.5" class="tk">10</text>
<text x="635.3" y="756.5" class="sp">-5</text></g>
<g><path d="M911.7 134.2V664.5H1474.3" fill="none" stroke="#262626" stroke-width="2"/>
<text x="911.7" y="714.6" text-anchor="middle" class="tk">0</text>
<text x="1076.2" y="714.6" text-anchor="middle" class="tk">2</text>
<text x="1240.7" y="714.6" text-anchor="middle" class="tk">4</text>
<text x="1405.2" y="714.6" text-anchor="middle" class="tk">6</text>
<text x="899" y="678.7" text-anchor="end" class="tk">0</text>
<text x="899" y="601.2" text-anchor="end" class="tk">1</text>
<text x="899" y="523.6" text-anchor="end" class="tk">2</text>
<text x="899" y="446.1" text-anchor="end" class="tk">3</text>
<text x="899" y="368.6" text-anchor="end" class="tk">4</text>
<text x="899" y="291.1" text-anchor="end" class="tk">5</text>
<text x="899" y="213.5" text-anchor="end" class="tk">6</text>
<path d="M911.7 664.5v-7M1076.2 664.5v-7M1240.7 664.5v-7M1405.2 664.5v-7M911.7 664.5h7M911.7 587h7M911.7 509.4h7M911.7 431.9h7M911.7 354.4h7M911.7 276.9h7M911.7 199.3h7" stroke="#262626" stroke-width="2" fill="none"/>
<polygon fill="#0072BD" points="911.7,646 920.5,636 929.3,626 938.1,616.3 946.9,606.7 955.7,597.5 964.5,589.2 973.3,580.9 982.1,572.6 990.9,564.3 999.7,555.8 1008.5,547 1017.3,538.3 1026.1,529.6 1034.9,520.9 1043.7,511.3 1052.5,501.7 1061.3,492.1 1070.1,482.6 1078.9,473.2 1087.7,464.1 1096.5,455.1 1105.3,446.7 1114.1,438.6 1122.9,430.6 1131.7,422.5 1140.5,414.9 1149.3,407.4 1158.1,399.9 1166.9,392.3 1175.7,384.8 1184.5,377.3 1193.3,369.1 1202.1,359.4 1210.9,349.7 1219.7,340.4 1228.5,331.6 1237.3,322.8 1246.1,313.9 1254.9,305.1 1263.7,296.2 1272.5,287.4 1281.3,278.6 1290.1,270.3 1298.9,262 1307.7,253.8 1316.5,245.8 1325.3,237.7 1334.1,229.7 1342.9,221.7 1351.7,213.7 1360.5,205.6 1369.3,197.6 1378.1,190.4 1386.9,183.3 1395.7,176.3 1404.6,169.2 1413.4,162.1 1422.2,158.1 1431,154.4 1439.8,153.3 1439.8,180.3 1431,195.7 1422.2,207.7 1413.4,219.2 1404.6,227.9 1395.7,236.6 1386.9,245.3 1378.1,254 1369.3,262.6 1360.5,270.6 1351.7,278.7 1342.9,286.7 1334.1,294.7 1325.3,302.7 1316.5,310.8 1307.7,318.8 1298.9,327.9 1290.1,337.7 1281.3,347.5 1272.5,355.6 1263.7,363.6 1254.9,371.7 1246.1,379.7 1237.3,387.7 1228.5,395.7 1219.7,403.8 1210.9,411.9 1202.1,420.2 1193.3,428.5 1184.5,437.2 1175.7,445.9 1166.9,454.7 1158.1,463.4 1149.3,472.2 1140.5,481 1131.7,489.7 1122.9,498.2 1114.1,506.8 1105.3,515.3 1096.5,523.8 1087.7,532.1 1078.9,540.4 1070.1,547.8 1061.3,554.8 1052.5,561.8 1043.7,568.8 1034.9,575.9 1026.1,583.7 1017.3,591.6 1008.5,599.5 999.7,607.3 990.9,615.3 982.1,623.6 973.3,631.9 964.5,640.2 955.7,648.5 946.9,656 938.1,663 929.3,669.8 920.5,676.4 911.7,683"/><circle cx="925.7" cy="662.2" r="14" fill="#0072BD"/><circle cx="911.7" cy="664.5" r="15" fill="#0072BD"/>
<g fill="none" stroke="#0072BD" stroke-width="1.9"><circle cx="1400.1" cy="200.9" r="12.4"/><circle cx="1135.5" cy="470.1" r="12.4"/><circle cx="1146.5" cy="464.1" r="12.4"/><circle cx="957" cy="613.3" r="12.4"/><circle cx="1299.4" cy="274.2" r="12.4"/><circle cx="1222.8" cy="390.3" r="12.4"/><circle cx="1312.9" cy="296.5" r="12.4"/><circle cx="957" cy="631" r="12.4"/><circle cx="1250.9" cy="364.6" r="12.4"/><circle cx="1342.5" cy="276.3" r="12.4"/><circle cx="932.3" cy="655.4" r="12.4"/><circle cx="1106.9" cy="457" r="12.4"/><circle cx="1201.6" cy="371.2" r="12.4"/><circle cx="1285.1" cy="299.9" r="12.4"/><circle cx="1396.8" cy="202.1" r="12.4"/><circle cx="941.2" cy="625" r="12.4"/><circle cx="1274.6" cy="296.6" r="12.4"/><circle cx="1433.5" cy="168.4" r="12.4"/><circle cx="1110.8" cy="499.2" r="12.4"/><circle cx="1015.5" cy="570.2" r="12.4"/><circle cx="1191" cy="382.1" r="12.4"/><circle cx="1045.3" cy="547" r="12.4"/><circle cx="1382.9" cy="232.6" r="12.4"/><circle cx="1277.7" cy="322.4" r="12.4"/><circle cx="1128" cy="446.6" r="12.4"/><circle cx="969" cy="600.6" r="12.4"/><circle cx="1352.8" cy="243.4" r="12.4"/><circle cx="1197.8" cy="403.7" r="12.4"/><circle cx="1291" cy="279.4" r="12.4"/><circle cx="986.6" cy="588.9" r="12.4"/><circle cx="1003.1" cy="591.4" r="12.4"/><circle cx="1281.1" cy="300.1" r="12.4"/><circle cx="1189.5" cy="400.9" r="12.4"/><circle cx="1367.7" cy="216.5" r="12.4"/><circle cx="1065.7" cy="539.3" r="12.4"/><circle cx="1418.5" cy="200.8" r="12.4"/><circle cx="1342.9" cy="260" r="12.4"/><circle cx="958.7" cy="605.3" r="12.4"/><circle cx="1177" cy="434.4" r="12.4"/><circle cx="1210.6" cy="375.7" r="12.4"/><circle cx="1042.4" cy="540.5" r="12.4"/><circle cx="1057.3" cy="509" r="12.4"/><circle cx="959.4" cy="611.6" r="12.4"/><circle cx="1066.5" cy="533.1" r="12.4"/><circle cx="1427.2" cy="181.6" r="12.4"/><circle cx="1234.3" cy="347.6" r="12.4"/><circle cx="1212.6" cy="366.4" r="12.4"/><circle cx="1084.3" cy="478" r="12.4"/><circle cx="1020.5" cy="547.9" r="12.4"/><circle cx="1193.3" cy="405.4" r="12.4"/><circle cx="1255.6" cy="330.5" r="12.4"/><circle cx="1430" cy="177.5" r="12.4"/><circle cx="1320.4" cy="283.3" r="12.4"/><circle cx="1294.1" cy="311.2" r="12.4"/><circle cx="1126.5" cy="484.7" r="12.4"/><circle cx="1346.3" cy="266.6" r="12.4"/><circle cx="1078.2" cy="521.5" r="12.4"/><circle cx="1345.6" cy="239.7" r="12.4"/><circle cx="1137.5" cy="427.9" r="12.4"/><circle cx="1138.9" cy="458.5" r="12.4"/><circle cx="941.9" cy="622.2" r="12.4"/><circle cx="1302.8" cy="297.2" r="12.4"/><circle cx="1229.8" cy="351.1" r="12.4"/><circle cx="975.8" cy="619.5" r="12.4"/><circle cx="1250.4" cy="325.4" r="12.4"/><circle cx="1192.4" cy="380.8" r="12.4"/><circle cx="1053.5" cy="512.1" r="12.4"/><circle cx="1329.3" cy="266.2" r="12.4"/><circle cx="1212.5" cy="373.5" r="12.4"/><circle cx="1411.9" cy="180.8" r="12.4"/><circle cx="1423.7" cy="182.6" r="12.4"/><circle cx="1331.7" cy="250.2" r="12.4"/><circle cx="1055.4" cy="515.9" r="12.4"/><circle cx="1016" cy="565" r="12.4"/><circle cx="1004.7" cy="561.5" r="12.4"/><circle cx="986.8" cy="591.5" r="12.4"/><circle cx="1312.6" cy="263.9" r="12.4"/><circle cx="985.3" cy="588.5" r="12.4"/><circle cx="1182.3" cy="404" r="12.4"/><circle cx="954.9" cy="614.3" r="12.4"/><circle cx="1021.5" cy="563.4" r="12.4"/><circle cx="1219.7" cy="362.8" r="12.4"/><circle cx="1339.2" cy="240.6" r="12.4"/><circle cx="1403.9" cy="194" r="12.4"/><circle cx="1346.3" cy="271.7" r="12.4"/><circle cx="1180.1" cy="393.5" r="12.4"/><circle cx="1431.1" cy="179.9" r="12.4"/><circle cx="1106.9" cy="486.7" r="12.4"/><circle cx="1202.2" cy="370.4" r="12.4"/><circle cx="1434.9" cy="170.2" r="12.4"/><circle cx="1248" cy="356" r="12.4"/><circle cx="1401.6" cy="192.1" r="12.4"/><circle cx="1090" cy="519.7" r="12.4"/><circle cx="1330.2" cy="257.3" r="12.4"/><circle cx="1003.7" cy="577.4" r="12.4"/><circle cx="1322.6" cy="260" r="12.4"/><circle cx="1319.2" cy="254.6" r="12.4"/><circle cx="1400.2" cy="183.1" r="12.4"/><circle cx="1187.7" cy="392.1" r="12.4"/><circle cx="1411" cy="204" r="12.4"/><circle cx="1090.7" cy="518.7" r="12.4"/><circle cx="1070.2" cy="537.6" r="12.4"/><circle cx="1400.7" cy="218.7" r="12.4"/><circle cx="973.1" cy="596.3" r="12.4"/><circle cx="1136.1" cy="458.8" r="12.4"/><circle cx="1242.8" cy="337.1" r="12.4"/><circle cx="1425.6" cy="193" r="12.4"/><circle cx="1297.4" cy="288.7" r="12.4"/><circle cx="1222.2" cy="377.3" r="12.4"/><circle cx="1078" cy="518" r="12.4"/><circle cx="972.7" cy="591.7" r="12.4"/><circle cx="1099.2" cy="478.6" r="12.4"/><circle cx="1306.5" cy="273.5" r="12.4"/><circle cx="1314.3" cy="274" r="12.4"/><circle cx="1319.5" cy="256.6" r="12.4"/><circle cx="1197.4" cy="407.3" r="12.4"/><circle cx="1295.5" cy="308.7" r="12.4"/><circle cx="1379.3" cy="234.4" r="12.4"/><circle cx="1375.4" cy="209.2" r="12.4"/><circle cx="1221.8" cy="364.5" r="12.4"/><circle cx="1002.6" cy="568.2" r="12.4"/><circle cx="972.8" cy="621.8" r="12.4"/><circle cx="1126.4" cy="456.9" r="12.4"/><circle cx="1030.6" cy="557.5" r="12.4"/><circle cx="956.9" cy="606.8" r="12.4"/><circle cx="933.9" cy="634.2" r="12.4"/><circle cx="913.3" cy="663.2" r="12.4"/><circle cx="1083.8" cy="500" r="12.4"/><circle cx="1054.3" cy="539.5" r="12.4"/><circle cx="1014" cy="584.5" r="12.4"/><circle cx="957.4" cy="626.8" r="12.4"/><circle cx="1180.1" cy="419.6" r="12.4"/><circle cx="1263.5" cy="306.5" r="12.4"/><circle cx="1360.3" cy="260.9" r="12.4"/><circle cx="1218.1" cy="353" r="12.4"/><circle cx="1263.5" cy="349.6" r="12.4"/><circle cx="958" cy="631.7" r="12.4"/><circle cx="1426.5" cy="170.6" r="12.4"/><circle cx="1030.1" cy="552" r="12.4"/><circle cx="1121.2" cy="487.6" r="12.4"/><circle cx="960.8" cy="630.1" r="12.4"/><circle cx="969.9" cy="610.4" r="12.4"/><circle cx="1116.7" cy="491.9" r="12.4"/><circle cx="1337.8" cy="257.6" r="12.4"/><circle cx="1404.1" cy="217.1" r="12.4"/><circle cx="1365.7" cy="223.2" r="12.4"/><circle cx="1302" cy="288.2" r="12.4"/><circle cx="924.6" cy="663" r="12.4"/><circle cx="1027" cy="540.7" r="12.4"/><circle cx="1218.6" cy="369.1" r="12.4"/><circle cx="1314.5" cy="271.1" r="12.4"/><circle cx="951.2" cy="612.8" r="12.4"/><circle cx="1090.8" cy="471.9" r="12.4"/><circle cx="1085.7" cy="492.6" r="12.4"/><circle cx="1153.6" cy="440.3" r="12.4"/><circle cx="930.7" cy="651.1" r="12.4"/><circle cx="1206.1" cy="405.8" r="12.4"/><circle cx="1080.2" cy="519" r="12.4"/><circle cx="1209.5" cy="386.6" r="12.4"/><circle cx="1055.7" cy="510.1" r="12.4"/><circle cx="1007.4" cy="565.6" r="12.4"/><circle cx="1177.1" cy="400.3" r="12.4"/><circle cx="1124" cy="453.7" r="12.4"/><circle cx="1006.2" cy="559.3" r="12.4"/><circle cx="960.2" cy="626.7" r="12.4"/><circle cx="1240.3" cy="329.8" r="12.4"/><circle cx="1296.1" cy="284.7" r="12.4"/><circle cx="1093.3" cy="474.2" r="12.4"/><circle cx="991.1" cy="602.7" r="12.4"/><circle cx="973.1" cy="614.3" r="12.4"/><circle cx="921.6" cy="654.3" r="12.4"/><circle cx="1437.1" cy="173.2" r="12.4"/><circle cx="1055.9" cy="509.1" r="12.4"/><circle cx="1223.9" cy="373.2" r="12.4"/><circle cx="972.5" cy="599.6" r="12.4"/><circle cx="1370" cy="216" r="12.4"/><circle cx="954" cy="635.2" r="12.4"/><circle cx="1348.5" cy="243.1" r="12.4"/><circle cx="1258" cy="326.9" r="12.4"/><circle cx="1292" cy="297.5" r="12.4"/><circle cx="1083.7" cy="499.6" r="12.4"/><circle cx="1353.1" cy="250.1" r="12.4"/><circle cx="1143.6" cy="457.5" r="12.4"/><circle cx="1254.4" cy="356.6" r="12.4"/><circle cx="1369.4" cy="241.3" r="12.4"/><circle cx="1137.2" cy="464.6" r="12.4"/><circle cx="1028.3" cy="571.8" r="12.4"/><circle cx="1111.2" cy="495.1" r="12.4"/><circle cx="1147.8" cy="462" r="12.4"/><circle cx="1314.9" cy="302.2" r="12.4"/><circle cx="1383.9" cy="203.4" r="12.4"/><circle cx="1270.1" cy="324.7" r="12.4"/><circle cx="1329.3" cy="265" r="12.4"/><circle cx="1239.4" cy="365.3" r="12.4"/><circle cx="1009" cy="580" r="12.4"/><circle cx="958.2" cy="636.1" r="12.4"/><circle cx="1159.5" cy="449.7" r="12.4"/><circle cx="1062.9" cy="542.5" r="12.4"/><circle cx="940.5" cy="634.2" r="12.4"/><circle cx="1220.6" cy="391.7" r="12.4"/><circle cx="1057" cy="544.4" r="12.4"/><circle cx="1431.2" cy="170" r="12.4"/><circle cx="1085.4" cy="492.1" r="12.4"/><circle cx="1150.4" cy="445.8" r="12.4"/><circle cx="1093.7" cy="495.5" r="12.4"/><circle cx="1002.8" cy="594.5" r="12.4"/><circle cx="1071" cy="499.5" r="12.4"/><circle cx="1086.3" cy="521.2" r="12.4"/><circle cx="922.2" cy="654" r="12.4"/><circle cx="1034.2" cy="540.7" r="12.4"/><circle cx="1294.5" cy="280.6" r="12.4"/><circle cx="921.8" cy="645.7" r="12.4"/><circle cx="1106.9" cy="463.8" r="12.4"/><circle cx="1112.3" cy="466.2" r="12.4"/><circle cx="947.7" cy="635.8" r="12.4"/><circle cx="1432.2" cy="168.8" r="12.4"/><circle cx="1166.8" cy="437.8" r="12.4"/><circle cx="1410.5" cy="180.2" r="12.4"/><circle cx="1006.2" cy="582.7" r="12.4"/><circle cx="1078.8" cy="485.6" r="12.4"/><circle cx="1247.7" cy="357.6" r="12.4"/><circle cx="1427.8" cy="168.3" r="12.4"/><circle cx="962.3" cy="631.2" r="12.4"/><circle cx="1149" cy="421.6" r="12.4"/><circle cx="1273.7" cy="344.5" r="12.4"/><circle cx="1087.5" cy="498" r="12.4"/><circle cx="994" cy="571.7" r="12.4"/><circle cx="940.9" cy="624.2" r="12.4"/><circle cx="1423.2" cy="186.4" r="12.4"/><circle cx="1255.8" cy="325.7" r="12.4"/><circle cx="1096.1" cy="496.1" r="12.4"/><circle cx="997.1" cy="569.5" r="12.4"/><circle cx="922.5" cy="663.3" r="12.4"/><circle cx="1299.7" cy="280" r="12.4"/><circle cx="1080.5" cy="526.6" r="12.4"/><circle cx="1182.8" cy="423.7" r="12.4"/><circle cx="924.7" cy="641.6" r="12.4"/><circle cx="1340.3" cy="266.1" r="12.4"/><circle cx="1306.3" cy="298.3" r="12.4"/><circle cx="1272.1" cy="335.2" r="12.4"/><circle cx="1115.3" cy="475.1" r="12.4"/><circle cx="1398.9" cy="184.3" r="12.4"/><circle cx="1241.1" cy="369.6" r="12.4"/><circle cx="1250.2" cy="321.3" r="12.4"/><circle cx="1173.6" cy="435.2" r="12.4"/><circle cx="1238" cy="366.7" r="12.4"/><circle cx="1120.3" cy="463.1" r="12.4"/><circle cx="1162.3" cy="431" r="12.4"/><circle cx="1089.9" cy="510.6" r="12.4"/><circle cx="1287.3" cy="289" r="12.4"/><circle cx="978.7" cy="615.7" r="12.4"/><circle cx="1316.1" cy="282.7" r="12.4"/><circle cx="1280.7" cy="324.9" r="12.4"/><circle cx="1017.7" cy="552.9" r="12.4"/><circle cx="921.3" cy="651.4" r="12.4"/><circle cx="1004.3" cy="563.6" r="12.4"/><circle cx="1327.2" cy="275.9" r="12.4"/><circle cx="1002.1" cy="587.2" r="12.4"/><circle cx="1161.6" cy="416.2" r="12.4"/><circle cx="1172.7" cy="412" r="12.4"/><circle cx="1333.4" cy="277" r="12.4"/><circle cx="990.1" cy="602.4" r="12.4"/><circle cx="1347.1" cy="267.5" r="12.4"/><circle cx="1394.4" cy="226.9" r="12.4"/><circle cx="1269.6" cy="300.6" r="12.4"/><circle cx="919" cy="652.6" r="12.4"/><circle cx="1365.4" cy="215.6" r="12.4"/><circle cx="1049.7" cy="523.7" r="12.4"/><circle cx="1195.9" cy="416" r="12.4"/><circle cx="1421.5" cy="189.5" r="12.4"/><circle cx="1423" cy="171" r="12.4"/><circle cx="1000.8" cy="569.3" r="12.4"/><circle cx="970.3" cy="617.1" r="12.4"/><circle cx="1122.3" cy="472" r="12.4"/><circle cx="1165.3" cy="415" r="12.4"/><circle cx="1098" cy="493.2" r="12.4"/><circle cx="1169.1" cy="435.3" r="12.4"/><circle cx="1333.8" cy="268.2" r="12.4"/><circle cx="1027.1" cy="538.9" r="12.4"/><circle cx="1278.6" cy="296.1" r="12.4"/><circle cx="1347.3" cy="261.4" r="12.4"/><circle cx="1067.2" cy="534.1" r="12.4"/><circle cx="1090.2" cy="519.1" r="12.4"/><circle cx="1280.7" cy="301.4" r="12.4"/><circle cx="1219.6" cy="380.7" r="12.4"/><circle cx="1239.4" cy="361.4" r="12.4"/><circle cx="1180.9" cy="428.2" r="12.4"/><circle cx="946.8" cy="645.7" r="12.4"/><circle cx="1423.4" cy="172" r="12.4"/><circle cx="1255.8" cy="339.4" r="12.4"/><circle cx="1419.3" cy="170.1" r="12.4"/><circle cx="1188.9" cy="416.8" r="12.4"/><circle cx="1335.9" cy="238.1" r="12.4"/><circle cx="1380.2" cy="230.2" r="12.4"/><circle cx="1164.4" cy="442.1" r="12.4"/><circle cx="1164.7" cy="424.2" r="12.4"/><circle cx="943" cy="621.4" r="12.4"/><circle cx="1433.6" cy="168.8" r="12.4"/><circle cx="1200.4" cy="391.3" r="12.4"/><circle cx="1291.6" cy="311.8" r="12.4"/><circle cx="1036" cy="534.2" r="12.4"/><circle cx="1082.4" cy="514.6" r="12.4"/><circle cx="1076.7" cy="508.9" r="12.4"/><circle cx="1264.6" cy="326.5" r="12.4"/><circle cx="1203" cy="383.6" r="12.4"/><circle cx="1004.5" cy="576.6" r="12.4"/><circle cx="1031.4" cy="547.3" r="12.4"/><circle cx="1090.5" cy="509" r="12.4"/><circle cx="1052.6" cy="524" r="12.4"/><circle cx="1405.4" cy="201.9" r="12.4"/><circle cx="1072.6" cy="517.9" r="12.4"/><circle cx="986.1" cy="589.9" r="12.4"/><circle cx="970.2" cy="593.9" r="12.4"/><circle cx="1075.6" cy="525.5" r="12.4"/><circle cx="1376.1" cy="216.1" r="12.4"/><circle cx="1217.1" cy="391.4" r="12.4"/><circle cx="1049.5" cy="542.5" r="12.4"/><circle cx="1016.7" cy="569" r="12.4"/><circle cx="950" cy="616.7" r="12.4"/><circle cx="1430.9" cy="182.3" r="12.4"/><circle cx="1318.6" cy="253.9" r="12.4"/><circle cx="1185" cy="423.5" r="12.4"/><circle cx="1005.2" cy="568.3" r="12.4"/><circle cx="1319.4" cy="258" r="12.4"/><circle cx="1189.4" cy="418.4" r="12.4"/><circle cx="1214.7" cy="384.3" r="12.4"/><circle cx="1108.8" cy="495.4" r="12.4"/><circle cx="1184.5" cy="425" r="12.4"/><circle cx="1229.8" cy="359.8" r="12.4"/><circle cx="1145.9" cy="428.6" r="12.4"/><circle cx="1189.3" cy="384.3" r="12.4"/><circle cx="918.5" cy="664.9" r="12.4"/><circle cx="1421.9" cy="197.7" r="12.4"/><circle cx="1104.8" cy="457.2" r="12.4"/><circle cx="1410.5" cy="211.3" r="12.4"/><circle cx="993.4" cy="575.5" r="12.4"/><circle cx="1352.1" cy="239" r="12.4"/><circle cx="1177.8" cy="396.8" r="12.4"/><circle cx="992.1" cy="597.7" r="12.4"/><circle cx="1363.2" cy="215.5" r="12.4"/><circle cx="1164.6" cy="446.6" r="12.4"/><circle cx="1062.9" cy="510.6" r="12.4"/><circle cx="1234.5" cy="337" r="12.4"/><circle cx="1242.3" cy="347.5" r="12.4"/><circle cx="1224.8" cy="388.6" r="12.4"/><circle cx="1199" cy="404.2" r="12.4"/><circle cx="1020.9" cy="576.5" r="12.4"/><circle cx="1091.6" cy="516.6" r="12.4"/><circle cx="1148" cy="421.7" r="12.4"/><circle cx="1348.4" cy="262.9" r="12.4"/><circle cx="1273" cy="297.4" r="12.4"/><circle cx="1009.2" cy="556.6" r="12.4"/><circle cx="1019.2" cy="566.3" r="12.4"/><circle cx="1369.5" cy="244" r="12.4"/><circle cx="1036.4" cy="562.6" r="12.4"/><circle cx="1235.6" cy="345.4" r="12.4"/><circle cx="1039.4" cy="560.8" r="12.4"/><circle cx="1370.6" cy="239.9" r="12.4"/><circle cx="1237.1" cy="377.9" r="12.4"/><circle cx="1166.9" cy="437.3" r="12.4"/><circle cx="1188" cy="420.7" r="12.4"/><circle cx="1338.9" cy="279.7" r="12.4"/><circle cx="1393.9" cy="224.2" r="12.4"/><circle cx="1073.9" cy="520.7" r="12.4"/><circle cx="1293.3" cy="320.4" r="12.4"/><circle cx="1279.3" cy="291.4" r="12.4"/><circle cx="1293.9" cy="290.6" r="12.4"/><circle cx="1130.7" cy="449.2" r="12.4"/><circle cx="1432.7" cy="178.1" r="12.4"/><circle cx="953.8" cy="622" r="12.4"/><circle cx="1312.6" cy="285.9" r="12.4"/><circle cx="1134.2" cy="473.9" r="12.4"/><circle cx="1140.9" cy="435.6" r="12.4"/><circle cx="1430.4" cy="175" r="12.4"/><circle cx="1414.7" cy="181.3" r="12.4"/><circle cx="913.3" cy="669.3" r="12.4"/><circle cx="1054.4" cy="513.5" r="12.4"/><circle cx="998.2" cy="570.9" r="12.4"/><circle cx="1267" cy="331.5" r="12.4"/><circle cx="1010.1" cy="577.4" r="12.4"/><circle cx="1345.3" cy="242.8" r="12.4"/><circle cx="912" cy="656.3" r="12.4"/><circle cx="1259.7" cy="314.3" r="12.4"/><circle cx="1324.4" cy="276.9" r="12.4"/><circle cx="1144.3" cy="422.3" r="12.4"/><circle cx="1230.4" cy="383.8" r="12.4"/><circle cx="1239.1" cy="337.7" r="12.4"/><circle cx="1276.2" cy="331.9" r="12.4"/><circle cx="1204.1" cy="369.3" r="12.4"/><circle cx="1228.9" cy="357.7" r="12.4"/><circle cx="1113.7" cy="449" r="12.4"/><circle cx="1370.9" cy="209.3" r="12.4"/><circle cx="937.4" cy="630.2" r="12.4"/><circle cx="1312.9" cy="271.4" r="12.4"/><circle cx="1183.3" cy="404.1" r="12.4"/><circle cx="1343.6" cy="263.8" r="12.4"/><circle cx="1161.4" cy="443.3" r="12.4"/><circle cx="1316.6" cy="269.4" r="12.4"/><circle cx="1108" cy="471.4" r="12.4"/><circle cx="1281.9" cy="330.3" r="12.4"/><circle cx="1349" cy="242.5" r="12.4"/><circle cx="1419.7" cy="169.5" r="12.4"/><circle cx="1256.7" cy="345.3" r="12.4"/><circle cx="1076.8" cy="530.2" r="12.4"/><circle cx="1356" cy="227.5" r="12.4"/><circle cx="1147.7" cy="462.4" r="12.4"/><circle cx="1422" cy="192.1" r="12.4"/><circle cx="1187.4" cy="413" r="12.4"/><circle cx="1409.3" cy="208.6" r="12.4"/><circle cx="1081" cy="523.2" r="12.4"/><circle cx="1260.6" cy="318.7" r="12.4"/><circle cx="988.8" cy="607.3" r="12.4"/><circle cx="1346" cy="234.9" r="12.4"/><circle cx="1423.4" cy="170.2" r="12.4"/><circle cx="1137.5" cy="437.3" r="12.4"/><circle cx="945" cy="619.6" r="12.4"/><circle cx="1124.2" cy="481.6" r="12.4"/><circle cx="1352.3" cy="267.6" r="12.4"/><circle cx="1278.1" cy="295.5" r="12.4"/><circle cx="1077" cy="497.9" r="12.4"/><circle cx="926.7" cy="648.8" r="12.4"/><circle cx="1003.6" cy="569.6" r="12.4"/><circle cx="971.9" cy="602.7" r="12.4"/><circle cx="1057.1" cy="516" r="12.4"/><circle cx="1243.9" cy="356.9" r="12.4"/><circle cx="1059.6" cy="535.7" r="12.4"/><circle cx="1257" cy="345.8" r="12.4"/><circle cx="1372.8" cy="204.7" r="12.4"/><circle cx="1260.1" cy="314" r="12.4"/><circle cx="1386.2" cy="234.7" r="12.4"/><circle cx="968.4" cy="597.2" r="12.4"/><circle cx="985.7" cy="596.6" r="12.4"/><circle cx="1098.7" cy="492.3" r="12.4"/><circle cx="1230.2" cy="382" r="12.4"/><circle cx="1088.2" cy="521.6" r="12.4"/><circle cx="1142.1" cy="443.8" r="12.4"/><circle cx="1285.5" cy="311.7" r="12.4"/><circle cx="1259.3" cy="324.2" r="12.4"/><circle cx="1078.2" cy="491.9" r="12.4"/><circle cx="1331.9" cy="262.1" r="12.4"/><circle cx="1037.7" cy="548.8" r="12.4"/><circle cx="1382.1" cy="220.5" r="12.4"/><circle cx="1297.2" cy="310.4" r="12.4"/><circle cx="1186.9" cy="393.9" r="12.4"/><circle cx="1313" cy="264" r="12.4"/><circle cx="1079.5" cy="510.6" r="12.4"/><circle cx="1328.1" cy="279.4" r="12.4"/><circle cx="1238.7" cy="364.7" r="12.4"/><circle cx="1315.5" cy="298.3" r="12.4"/><circle cx="1044" cy="521.2" r="12.4"/><circle cx="970.5" cy="606.3" r="12.4"/><circle cx="922.4" cy="644.7" r="12.4"/><circle cx="1168.2" cy="411.9" r="12.4"/><circle cx="942.7" cy="644.8" r="12.4"/><circle cx="1390.9" cy="191.2" r="12.4"/><circle cx="918.4" cy="651.6" r="12.4"/><circle cx="1347.1" cy="265.7" r="12.4"/><circle cx="1011.6" cy="584.5" r="12.4"/><circle cx="1371" cy="213.8" r="12.4"/><circle cx="1060.3" cy="526.9" r="12.4"/><circle cx="942.4" cy="631.7" r="12.4"/><circle cx="1371.2" cy="246.1" r="12.4"/><circle cx="968.1" cy="611.2" r="12.4"/><circle cx="1395.1" cy="222.8" r="12.4"/><circle cx="1010.4" cy="577.4" r="12.4"/><circle cx="920.4" cy="654.5" r="12.4"/><circle cx="1097" cy="465.9" r="12.4"/><circle cx="1314.7" cy="272.3" r="12.4"/><circle cx="1082.7" cy="507.1" r="12.4"/><circle cx="1424.7" cy="194.3" r="12.4"/><circle cx="1004.3" cy="579.2" r="12.4"/><circle cx="1081.4" cy="487.5" r="12.4"/><circle cx="1159.2" cy="433.6" r="12.4"/><circle cx="1082.6" cy="506.5" r="12.4"/><circle cx="1327.3" cy="269.3" r="12.4"/><circle cx="979.3" cy="585.3" r="12.4"/><circle cx="1127.6" cy="471.8" r="12.4"/><circle cx="1431.4" cy="175.3" r="12.4"/><circle cx="1145.5" cy="440.5" r="12.4"/><circle cx="1019" cy="579.1" r="12.4"/><circle cx="1220.7" cy="389" r="12.4"/><circle cx="1075.3" cy="528.3" r="12.4"/><circle cx="1255.9" cy="316.8" r="12.4"/><circle cx="1291.9" cy="304.7" r="12.4"/><circle cx="1254.5" cy="349.4" r="12.4"/><circle cx="1438" cy="168.9" r="12.4"/><circle cx="1239.2" cy="360.6" r="12.4"/><circle cx="1292.6" cy="293.6" r="12.4"/><circle cx="1086" cy="521.5" r="12.4"/><circle cx="1330.3" cy="253.4" r="12.4"/><circle cx="1333.8" cy="284.8" r="12.4"/><circle cx="1430.3" cy="172.3" r="12.4"/><circle cx="1323.1" cy="250.1" r="12.4"/><circle cx="1091.8" cy="507.7" r="12.4"/><circle cx="1242.2" cy="371.2" r="12.4"/><circle cx="1114.9" cy="452.9" r="12.4"/><circle cx="1253.2" cy="321" r="12.4"/><circle cx="1246.6" cy="327.1" r="12.4"/><circle cx="1256.1" cy="358" r="12.4"/><circle cx="927" cy="656.6" r="12.4"/><circle cx="1098.4" cy="464.2" r="12.4"/><circle cx="1363.1" cy="230.1" r="12.4"/><circle cx="1066.1" cy="518.5" r="12.4"/><circle cx="1079.4" cy="525.2" r="12.4"/><circle cx="1421" cy="171.6" r="12.4"/><circle cx="1377.2" cy="205.1" r="12.4"/><circle cx="1158" cy="447.3" r="12.4"/><circle cx="1420.5" cy="199.1" r="12.4"/><circle cx="969.5" cy="624.5" r="12.4"/><circle cx="1397.4" cy="191.7" r="12.4"/><circle cx="1156.2" cy="455.3" r="12.4"/><circle cx="979.3" cy="616.2" r="12.4"/><circle cx="1263.1" cy="307.6" r="12.4"/><circle cx="967.5" cy="620.6" r="12.4"/><circle cx="1321.2" cy="280.6" r="12.4"/><circle cx="1211.6" cy="363.3" r="12.4"/><circle cx="1006.1" cy="589.6" r="12.4"/><circle cx="1165.3" cy="439.4" r="12.4"/><circle cx="926.3" cy="640" r="12.4"/><circle cx="1288.4" cy="328.3" r="12.4"/><circle cx="1374.2" cy="242.9" r="12.4"/><circle cx="1206.6" cy="383.1" r="12.4"/><circle cx="1129.8" cy="436.7" r="12.4"/><circle cx="1237.2" cy="335.7" r="12.4"/><circle cx="1078.7" cy="528.8" r="12.4"/><circle cx="1173.5" cy="401.5" r="12.4"/><circle cx="1175" cy="397.9" r="12.4"/><circle cx="1118.1" cy="491.6" r="12.4"/><circle cx="1268.4" cy="328.8" r="12.4"/><circle cx="937" cy="646.1" r="12.4"/><circle cx="1277.4" cy="293.8" r="12.4"/><circle cx="1062.4" cy="516.1" r="12.4"/><circle cx="1262.1" cy="338.6" r="12.4"/><circle cx="1151.4" cy="446.3" r="12.4"/><circle cx="1384.6" cy="201.2" r="12.4"/><circle cx="1130.4" cy="441.8" r="12.4"/><circle cx="1038.2" cy="541" r="12.4"/><circle cx="1142.3" cy="439.5" r="12.4"/><circle cx="1012.7" cy="557.1" r="12.4"/><circle cx="984.7" cy="583.3" r="12.4"/><circle cx="1224.3" cy="357.8" r="12.4"/><circle cx="1174.1" cy="432.2" r="12.4"/><circle cx="976.1" cy="619.3" r="12.4"/><circle cx="965.3" cy="616.4" r="12.4"/><circle cx="1296.9" cy="308" r="12.4"/><circle cx="962.7" cy="624.4" r="12.4"/><circle cx="948.3" cy="637.9" r="12.4"/><circle cx="1133.2" cy="436" r="12.4"/><circle cx="1055.7" cy="544.3" r="12.4"/><circle cx="1398.8" cy="194.3" r="12.4"/><circle cx="1028.6" cy="537.9" r="12.4"/><circle cx="1178.7" cy="421.4" r="12.4"/><circle cx="1107.6" cy="472.3" r="12.4"/><circle cx="1294.9" cy="307.8" r="12.4"/><circle cx="1410.3" cy="194" r="12.4"/><circle cx="1170" cy="437.2" r="12.4"/><circle cx="1217.4" cy="354.3" r="12.4"/><circle cx="1343.7" cy="261.3" r="12.4"/><circle cx="954.1" cy="629.1" r="12.4"/><circle cx="1433.8" cy="180.4" r="12.4"/><circle cx="930.2" cy="659.3" r="12.4"/><circle cx="920.8" cy="664.4" r="12.4"/><circle cx="923.3" cy="663.6" r="12.4"/><circle cx="924" cy="668.4" r="12.4"/><circle cx="925.7" cy="665" r="12.4"/><circle cx="913.3" cy="663" r="12.4"/><circle cx="920.2" cy="662.5" r="12.4"/><circle cx="918" cy="660.1" r="12.4"/><circle cx="912.3" cy="662.6" r="12.4"/><circle cx="916.6" cy="665.9" r="12.4"/><circle cx="926" cy="661.8" r="12.4"/><circle cx="920.5" cy="662" r="12.4"/><circle cx="916.3" cy="663.9" r="12.4"/><circle cx="914.6" cy="665.5" r="12.4"/><circle cx="915.1" cy="660.7" r="12.4"/><circle cx="922.7" cy="669.7" r="12.4"/><circle cx="1160.1" cy="374.1" r="12.4"/><circle cx="1177.7" cy="383.6" r="12.4"/><circle cx="1140.4" cy="382.4" r="12.4"/><circle cx="1164.1" cy="367.7" r="12.4"/><circle cx="1165.3" cy="343.7" r="12.4"/><circle cx="1185.6" cy="372.1" r="12.4"/><circle cx="1146.8" cy="354.5" r="12.4"/><circle cx="1167.4" cy="361.2" r="12.4"/><circle cx="1130.1" cy="405.4" r="12.4"/><circle cx="1138.2" cy="408.7" r="12.4"/><circle cx="1134.6" cy="406.4" r="12.4"/><circle cx="1123.9" cy="406" r="12.4"/><circle cx="1136.1" cy="402.7" r="12.4"/><circle cx="1078" cy="432.6" r="12.4"/><circle cx="1069.2" cy="459.5" r="12.4"/><circle cx="1093.8" cy="457.2" r="12.4"/><circle cx="1079.6" cy="474.5" r="12.4"/><circle cx="1068.5" cy="477.4" r="12.4"/><circle cx="1058.3" cy="487.2" r="12.4"/><circle cx="1057.5" cy="480.3" r="12.4"/><circle cx="1250.1" cy="328.1" r="12.4"/><circle cx="1221.6" cy="311.2" r="12.4"/><circle cx="1244.8" cy="318" r="12.4"/><circle cx="1210.5" cy="334.6" r="12.4"/><circle cx="1217" cy="307.4" r="12.4"/><circle cx="1227.7" cy="308.6" r="12.4"/><circle cx="1245.9" cy="301.1" r="12.4"/><circle cx="1215.1" cy="308.7" r="12.4"/><circle cx="1228.3" cy="315" r="12.4"/><circle cx="1227" cy="330.7" r="12.4"/><circle cx="1223.7" cy="323.7" r="12.4"/><circle cx="1241.1" cy="323.9" r="12.4"/><circle cx="1115.9" cy="435.2" r="12.4"/><circle cx="1115.6" cy="426.7" r="12.4"/><circle cx="1108.1" cy="434.3" r="12.4"/><circle cx="1229.1" cy="419" r="12.4"/><circle cx="1234.1" cy="408.3" r="12.4"/><circle cx="1232.5" cy="442.7" r="12.4"/><circle cx="1213" cy="440" r="12.4"/><circle cx="1197.6" cy="439.4" r="12.4"/><circle cx="1203.1" cy="468.8" r="12.4"/><circle cx="1193.2" cy="484.6" r="12.4"/><circle cx="1172.1" cy="488.3" r="12.4"/><circle cx="1160.4" cy="480.7" r="12.4"/><circle cx="1167.2" cy="461.1" r="12.4"/><circle cx="1173.3" cy="455.9" r="12.4"/><circle cx="1190.4" cy="456" r="12.4"/><circle cx="1181.3" cy="460.2" r="12.4"/><circle cx="1147" cy="521.8" r="12.4"/><circle cx="1131.1" cy="510.8" r="12.4"/><circle cx="1130.2" cy="500.3" r="12.4"/><circle cx="1126" cy="505.1" r="12.4"/><circle cx="1226.1" cy="320.5" r="12.4"/><circle cx="1220.7" cy="306.3" r="12.4"/><circle cx="1215.9" cy="289.6" r="12.4"/><circle cx="1217.4" cy="291.1" r="12.4"/><circle cx="1224.8" cy="331.8" r="12.4"/><circle cx="1208.3" cy="302.2" r="12.4"/><circle cx="1221.7" cy="301.1" r="12.4"/><circle cx="1227.1" cy="311.4" r="12.4"/><circle cx="1225.7" cy="301.4" r="12.4"/><circle cx="1269.2" cy="275.5" r="12.4"/><circle cx="1241.7" cy="287.4" r="12.4"/><circle cx="1268.8" cy="267.7" r="12.4"/><circle cx="1276.1" cy="281.8" r="12.4"/><circle cx="1244.3" cy="294.9" r="12.4"/><circle cx="1236.5" cy="280.3" r="12.4"/><circle cx="1289.3" cy="270.2" r="12.4"/><circle cx="1284.8" cy="261.5" r="12.4"/><circle cx="1283.7" cy="263.3" r="12.4"/><circle cx="1302.7" cy="226.7" r="12.4"/><circle cx="1303.7" cy="221.7" r="12.4"/><circle cx="1302.8" cy="224.5" r="12.4"/><circle cx="1321.3" cy="217.3" r="12.4"/><circle cx="1337.6" cy="218.7" r="12.4"/><circle cx="1327.7" cy="200.1" r="12.4"/><circle cx="1330.3" cy="210.1" r="12.4"/><circle cx="1332.9" cy="200.3" r="12.4"/><circle cx="1331.1" cy="210.2" r="12.4"/><circle cx="1335.3" cy="210.2" r="12.4"/><circle cx="1322.7" cy="209.7" r="12.4"/><circle cx="1374.6" cy="180.2" r="12.4"/><circle cx="1375" cy="185.7" r="12.4"/><circle cx="1395" cy="171" r="12.4"/><circle cx="1395.4" cy="165.4" r="12.4"/><circle cx="1416.2" cy="150.4" r="12.4"/><circle cx="1413.2" cy="155.4" r="12.4"/><circle cx="1400" cy="264.2" r="12.4"/><circle cx="1385.7" cy="257.4" r="12.4"/><circle cx="1402.1" cy="262.2" r="12.4"/><circle cx="1393.8" cy="272.4" r="12.4"/><circle cx="1384.4" cy="258.5" r="12.4"/><circle cx="1405.5" cy="246.3" r="12.4"/><circle cx="1391.5" cy="251.5" r="12.4"/><circle cx="1401.8" cy="258.2" r="12.4"/><circle cx="1390.7" cy="264.3" r="12.4"/><circle cx="1364.9" cy="276.3" r="12.4"/><circle cx="1423.6" cy="228.6" r="12.4"/><circle cx="1407.9" cy="231.5" r="12.4"/><circle cx="1397.9" cy="232.6" r="12.4"/><circle cx="1409" cy="260.5" r="12.4"/><circle cx="1431.7" cy="229" r="12.4"/><circle cx="1417.5" cy="232.5" r="12.4"/><circle cx="1441" cy="224.6" r="12.4"/><circle cx="1409.5" cy="224.1" r="12.4"/><circle cx="1436.2" cy="211.9" r="12.4"/><circle cx="1441.4" cy="204.3" r="12.4"/><circle cx="1439" cy="200.7" r="12.4"/><circle cx="1449" cy="184.8" r="12.4"/><circle cx="1430.4" cy="191.5" r="12.4"/><circle cx="1437.4" cy="199.5" r="12.4"/><circle cx="1343.7" cy="315" r="12.4"/><circle cx="1344.2" cy="314.2" r="12.4"/><circle cx="1336.2" cy="333.9" r="12.4"/><circle cx="1347.9" cy="339.5" r="12.4"/><circle cx="1356.4" cy="328.9" r="12.4"/><circle cx="1356.3" cy="318.5" r="12.4"/><circle cx="1367.3" cy="320.3" r="12.4"/><circle cx="1360.7" cy="300.6" r="12.4"/><circle cx="1360" cy="293.8" r="12.4"/><circle cx="1272.4" cy="398.8" r="12.4"/><circle cx="1283.1" cy="369.5" r="12.4"/><circle cx="1283" cy="367.2" r="12.4"/><circle cx="1258.1" cy="383.1" r="12.4"/><circle cx="1263.5" cy="375" r="12.4"/><circle cx="1018.2" cy="537.4" r="12.4"/><circle cx="1018.8" cy="533.1" r="12.4"/><circle cx="1008" cy="550.4" r="12.4"/><circle cx="985.8" cy="575.9" r="12.4"/><circle cx="992.4" cy="572.2" r="12.4"/><circle cx="1034.5" cy="585" r="12.4"/><circle cx="1041.6" cy="570.2" r="12.4"/><circle cx="1034.5" cy="580.1" r="12.4"/><circle cx="998" cy="603.6" r="12.4"/><circle cx="1006.1" cy="604" r="12.4"/><circle cx="1331.7" cy="294.6" r="12.4"/><circle cx="1426.7" cy="155.7" r="12.4"/><circle cx="1088.5" cy="468.6" r="12.4"/><circle cx="1252.8" cy="374.4" r="12.4"/><circle cx="1388.9" cy="236.2" r="12.4"/><circle cx="1395.4" cy="234.3" r="12.4"/><circle cx="1344.3" cy="277.7" r="12.4"/><circle cx="1257.4" cy="281.9" r="12.4"/><circle cx="1340.3" cy="213.9" r="12.4"/><circle cx="1171.2" cy="397.7" r="12.4"/><circle cx="1026.9" cy="532.8" r="12.4"/><circle cx="1214.3" cy="351.3" r="12.4"/><circle cx="1011.6" cy="589" r="12.4"/><circle cx="1195.7" cy="359.6" r="12.4"/><circle cx="1104.9" cy="450.9" r="12.4"/><circle cx="1105.9" cy="448.8" r="12.4"/><circle cx="1261.1" cy="269.1" r="12.4"/><circle cx="1421.1" cy="245.6" r="12.4"/><circle cx="1404" cy="262.5" r="12.4"/><circle cx="1133.5" cy="410.6" r="12.4"/><circle cx="1429.6" cy="161.4" r="12.4"/><circle cx="1196.9" cy="422.2" r="12.4"/><circle cx="1348.4" cy="276.9" r="12.4"/><circle cx="1358.6" cy="212.7" r="12.4"/><circle cx="1198.1" cy="421.1" r="12.4"/><circle cx="1286.9" cy="263.3" r="12.4"/><circle cx="1309.5" cy="308.4" r="12.4"/><circle cx="1006" cy="558.7" r="12.4"/><circle cx="1298.4" cy="264.4" r="12.4"/><circle cx="1012.5" cy="548" r="12.4"/><circle cx="1410" cy="138.7" r="12.4"/><circle cx="1385.2" cy="238.9" r="12.4"/><circle cx="1103.9" cy="455.1" r="12.4"/><circle cx="1002.1" cy="616.6" r="12.4"/><circle cx="1241.4" cy="426.3" r="12.4"/><circle cx="1263.7" cy="283.8" r="12.4"/><circle cx="1370" cy="276.3" r="12.4"/><circle cx="1079.7" cy="476.4" r="12.4"/><circle cx="1394.8" cy="235.5" r="12.4"/><circle cx="1389.5" cy="153.7" r="12.4"/><circle cx="1349.8" cy="282.9" r="12.4"/><circle cx="1306.2" cy="260.1" r="12.4"/><circle cx="1133.2" cy="496.5" r="12.4"/><circle cx="1415.5" cy="152.3" r="12.4"/><circle cx="1231.4" cy="289.1" r="12.4"/><circle cx="1364.2" cy="208.3" r="12.4"/><circle cx="1385.8" cy="167.1" r="12.4"/><circle cx="1330.2" cy="310.1" r="12.4"/><circle cx="1190.5" cy="441.4" r="12.4"/><circle cx="1249.4" cy="315.9" r="12.4"/><circle cx="1133.5" cy="420.4" r="12.4"/><circle cx="1026" cy="532.9" r="12.4"/><circle cx="1281.9" cy="366" r="12.4"/><circle cx="1003" cy="561" r="12.4"/><circle cx="1264.1" cy="368.7" r="12.4"/><circle cx="1033.2" cy="569.5" r="12.4"/><circle cx="1029.9" cy="514.5" r="12.4"/><circle cx="1015.5" cy="534.9" r="12.4"/><circle cx="1292.6" cy="335.4" r="12.4"/><circle cx="1366.3" cy="260.9" r="12.4"/><circle cx="1099" cy="461.4" r="12.4"/><circle cx="1012.1" cy="538.9" r="12.4"/><circle cx="1203.4" cy="366" r="12.4"/><circle cx="1299.8" cy="262" r="12.4"/><circle cx="1213.4" cy="445.6" r="12.4"/><circle cx="1157" cy="480.2" r="12.4"/><circle cx="1053.2" cy="556.2" r="12.4"/><circle cx="1167.6" cy="451.8" r="12.4"/><circle cx="1353.5" cy="205.1" r="12.4"/><circle cx="1275.1" cy="252.7" r="12.4"/><circle cx="997.3" cy="600.6" r="12.4"/><circle cx="1365.4" cy="265.7" r="12.4"/><circle cx="1045" cy="516.1" r="12.4"/><circle cx="1406.7" cy="167.3" r="12.4"/><circle cx="1127.5" cy="526" r="12.4"/><circle cx="1040.2" cy="572.1" r="12.4"/><circle cx="1406.7" cy="217" r="12.4"/><circle cx="1022.1" cy="578.2" r="12.4"/><circle cx="1377" cy="199" r="12.4"/><circle cx="1325.4" cy="306.1" r="12.4"/><circle cx="1145.1" cy="510.8" r="12.4"/><circle cx="1171.5" cy="374.9" r="12.4"/><circle cx="981.6" cy="582.5" r="12.4"/><circle cx="1159.2" cy="387.4" r="12.4"/><circle cx="1426.9" cy="191.8" r="12.4"/><circle cx="1339" cy="303.6" r="12.4"/><circle cx="1325.4" cy="304.5" r="12.4"/><circle cx="1170.2" cy="461.8" r="12.4"/><circle cx="1110.5" cy="427" r="12.4"/><circle cx="1440.3" cy="217.4" r="12.4"/><circle cx="1034.9" cy="574" r="12.4"/><circle cx="1175.5" cy="361" r="12.4"/><circle cx="1074.1" cy="462.7" r="12.4"/><circle cx="1329.5" cy="301.5" r="12.4"/><circle cx="1257.8" cy="301.3" r="12.4"/><circle cx="1192.7" cy="365.8" r="12.4"/><circle cx="1189" cy="383.1" r="12.4"/><circle cx="1374.4" cy="249.2" r="12.4"/><circle cx="1310.3" cy="321.4" r="12.4"/><circle cx="1025.4" cy="534" r="12.4"/><circle cx="1188.9" cy="376.6" r="12.4"/><circle cx="1286.8" cy="269.8" r="12.4"/><circle cx="1300.9" cy="334.5" r="12.4"/><circle cx="1071.3" cy="543.2" r="12.4"/><circle cx="989.1" cy="610.4" r="12.4"/><circle cx="1362" cy="288.4" r="12.4"/><circle cx="1335.9" cy="296.1" r="12.4"/><circle cx="1315.9" cy="320.5" r="12.4"/><circle cx="1415.5" cy="227.3" r="12.4"/><circle cx="1417.5" cy="167.2" r="12.4"/><circle cx="1314.3" cy="305.1" r="12.4"/><circle cx="1400.4" cy="231.1" r="12.4"/><circle cx="1153.4" cy="470.9" r="12.4"/><circle cx="1395.5" cy="229.6" r="12.4"/><circle cx="1248.8" cy="316.2" r="12.4"/><circle cx="1251.1" cy="292.6" r="12.4"/><circle cx="1328.1" cy="351.2" r="12.4"/><circle cx="1262" cy="280.1" r="12.4"/><circle cx="1378.5" cy="165.5" r="12.4"/><circle cx="1095.6" cy="543.3" r="12.4"/><circle cx="1016.8" cy="585.5" r="12.4"/><circle cx="1427" cy="221.3" r="12.4"/><circle cx="1276.4" cy="283.4" r="12.4"/><circle cx="1302.2" cy="318" r="12.4"/><circle cx="1043.6" cy="518.7" r="12.4"/><circle cx="1400.8" cy="282.5" r="12.4"/><circle cx="1106.9" cy="521.2" r="12.4"/><circle cx="1010.5" cy="592.8" r="12.4"/><circle cx="1320.1" cy="310.2" r="12.4"/><circle cx="1022" cy="578.5" r="12.4"/><circle cx="1133.3" cy="426.5" r="12.4"/><circle cx="1257.8" cy="372.4" r="12.4"/><circle cx="1348.9" cy="202.7" r="12.4"/><circle cx="1365" cy="257" r="12.4"/><circle cx="1167.1" cy="401.3" r="12.4"/><circle cx="1213.3" cy="332.3" r="12.4"/><circle cx="1398.7" cy="176.1" r="12.4"/><circle cx="1402.1" cy="250.4" r="12.4"/><circle cx="1454.6" cy="157.2" r="12.4"/><circle cx="1439.6" cy="165.6" r="12.4"/><circle cx="1447.3" cy="155.3" r="12.4"/><circle cx="1447.5" cy="153" r="12.4"/><circle cx="1447" cy="159" r="12.4"/><circle cx="1444.3" cy="168.2" r="12.4"/><circle cx="1432.1" cy="151.4" r="12.4"/><circle cx="1459" cy="139.5" r="12.4"/><circle cx="1453.6" cy="156.2" r="12.4"/><circle cx="1426.6" cy="178.9" r="12.4"/><circle cx="1455.7" cy="162.3" r="12.4"/><circle cx="1448.7" cy="169.1" r="12.4"/><circle cx="1446.9" cy="166.1" r="12.4"/><circle cx="1433.8" cy="185.1" r="12.4"/><circle cx="1429.2" cy="187.9" r="12.4"/><circle cx="1426.9" cy="175.6" r="12.4"/><circle cx="1455" cy="146.4" r="12.4"/><circle cx="1429.2" cy="182.5" r="12.4"/><circle cx="1445.3" cy="146" r="12.4"/><circle cx="1444.3" cy="159.4" r="12.4"/><circle cx="1077.3" cy="377" r="12.4"/><circle cx="1099.2" cy="363.8" r="12.4"/><circle cx="1132.3" cy="349.1" r="12.4"/><circle cx="1145" cy="335.1" r="12.4"/><circle cx="1174.9" cy="329.2" r="12.4"/><circle cx="1204.8" cy="289.3" r="12.4"/><circle cx="1200.8" cy="317.2" r="12.4"/><circle cx="1081.3" cy="434" r="12.4"/><circle cx="1073.3" cy="458.6" r="12.4"/><circle cx="1007.6" cy="536.3" r="12.4"/><circle cx="1306.4" cy="223.6" r="12.4"/><circle cx="1344.2" cy="191.7" r="12.4"/><circle cx="1376.1" cy="183.7" r="12.4"/><circle cx="1453.8" cy="241.5" r="12.4"/><circle cx="1431.9" cy="265.4" r="12.4"/><circle cx="1431.9" cy="304.1" r="12.4"/><circle cx="1430.9" cy="306.1" r="12.4"/><circle cx="1417.9" cy="329.2" r="12.4"/><circle cx="1406" cy="329.2" r="12.4"/><circle cx="1382.1" cy="359" r="12.4"/><circle cx="1382.1" cy="367.8" r="12.4"/><circle cx="1311.6" cy="387.7" r="12.4"/><circle cx="1272.5" cy="396.9" r="12.4"/><circle cx="1252.6" cy="453.9" r="12.4"/><circle cx="1250.6" cy="432.7" r="12.4"/><circle cx="1202.8" cy="472.6" r="12.4"/><circle cx="1194.8" cy="484.5" r="12.4"/><circle cx="1145" cy="522.4" r="12.4"/><circle cx="1463.7" cy="134.7" r="12.4"/><circle cx="1455.8" cy="139.1" r="12.4"/><circle cx="1446" cy="147" r="12.4"/></g>
<text x="1192" y="767.5" text-anchor="middle" class="lb">Simulated EG value</text>
<text transform="translate(860.7 398.5) rotate(-90)" text-anchor="middle" class="lb">Predicted EG value</text>
<text x="912.3" y="132.9" class="xx">×</text>
<text x="941.8" y="126.4" class="tk">10</text>
<text x="984.2" y="107.2" class="sp">5</text>
<text x="1384.6" y="783" class="xx">×</text>
<text x="1413.6" y="775.7" class="tk">10</text>
<text x="1457.6" y="757.7" class="sp">5</text></g>
<g><path d="M101.1 874.8V1406.1H663.7" fill="none" stroke="#262626" stroke-width="2"/>
<text x="101.1" y="1456.2" text-anchor="middle" class="tk">0</text>
<text x="215.4" y="1456.2" text-anchor="middle" class="tk">1</text>
<text x="329.8" y="1456.2" text-anchor="middle" class="tk">2</text>
<text x="444.1" y="1456.2" text-anchor="middle" class="tk">3</text>
<text x="558.5" y="1456.2" text-anchor="middle" class="tk">4</text>
<text x="88.4" y="1420.3" text-anchor="end" class="tk">0</text>
<text x="88.4" y="1312.3" text-anchor="end" class="tk">1</text>
<text x="88.4" y="1204.3" text-anchor="end" class="tk">2</text>
<text x="88.4" y="1096.3" text-anchor="end" class="tk">3</text>
<text x="88.4" y="988.3" text-anchor="end" class="tk">4</text>
<path d="M101.1 1406.1v-7M215.4 1406.1v-7M329.8 1406.1v-7M444.1 1406.1v-7M558.5 1406.1v-7M101.1 1406.1h7M101.1 1298.1h7M101.1 1190.1h7M101.1 1082.1h7M101.1 974.1h7" stroke="#262626" stroke-width="2" fill="none"/>
<polygon fill="#0072BD" points="101.1,1395.1 107.6,1384.7 114.1,1374.3 120.5,1364 127,1354.1 133.5,1346.7 140,1339.3 146.5,1332 152.9,1324.6 159.4,1318 165.9,1312.6 172.4,1307.2 178.9,1301.8 185.3,1296.3 191.8,1290.4 198.3,1284.5 204.8,1280.7 211.3,1278.4 217.7,1276.1 224.2,1273.8 230.7,1271.5 237.2,1268.9 243.7,1266.1 250.1,1263.3 256.6,1260.4 256.6,1301.9 250.1,1306 243.7,1310.1 237.2,1314.2 230.7,1318.2 224.2,1322.1 217.7,1326 211.3,1329.9 204.8,1333.8 198.3,1338.5 191.8,1344.4 185.3,1350.3 178.9,1355.8 172.4,1361.2 165.9,1366.6 159.4,1372 152.9,1377.4 146.5,1382.6 140,1387.8 133.5,1393.1 127,1398.3 120.5,1403.8 114.1,1409.4 107.6,1413.5 101.1,1417.1"/><polygon fill="#0072BD" points="356.8,1204 358.6,1196.4 360.3,1194.8 362,1193.3 363.7,1191.8 365.5,1190.3 367.2,1188.9 368.9,1187.4 370.6,1186 372.4,1184.5 374.1,1183 375.8,1181.6 377.5,1180.1 379.3,1178.7 381,1177.6 382.7,1176.7 384.4,1175.9 386.2,1175.1 387.9,1174.3 389.6,1173.5 391.3,1172.7 393.1,1171.9 394.8,1172.1 396.5,1172.5 398.2,1172.9 398.2,1200.9 396.5,1202.6 394.8,1204.3 393.1,1205.8 391.3,1206.2 389.6,1206.7 387.9,1207.1 386.2,1207.6 384.4,1208 382.7,1208.5 381,1208.9 379.3,1209.9 377.5,1211.3 375.8,1212.8 374.1,1214.2 372.4,1215.7 370.6,1217.2 368.9,1218.6 367.2,1220.1 365.5,1221.5 363.7,1223 362,1224 360.3,1224.6 358.6,1225.1 356.8,1219.7"/><polygon fill="#0072BD" points="249.8,1259.8 285.1,1243.3 311.1,1224.4 337,1211 359.3,1197.6 359.3,1221.6 337,1233 311.1,1250.4 285.1,1275.3 249.8,1299.8"/><circle cx="101.1" cy="1406.1" r="15" fill="#0072BD"/>
<g fill="none" stroke="#0072BD" stroke-width="1.9"><circle cx="169.4" cy="1327.1" r="12.4"/><circle cx="189.8" cy="1299.4" r="12.4"/><circle cx="220.8" cy="1317.5" r="12.4"/><circle cx="223.3" cy="1288.3" r="12.4"/><circle cx="246.7" cy="1288.8" r="12.4"/><circle cx="180.9" cy="1347.5" r="12.4"/><circle cx="105.6" cy="1395.6" r="12.4"/><circle cx="179.5" cy="1315.3" r="12.4"/><circle cx="170.1" cy="1315.7" r="12.4"/><circle cx="207.9" cy="1323.6" r="12.4"/><circle cx="111.7" cy="1389.8" r="12.4"/><circle cx="159.4" cy="1345" r="12.4"/><circle cx="238.5" cy="1297.2" r="12.4"/><circle cx="196.1" cy="1322.8" r="12.4"/><circle cx="151.3" cy="1354.9" r="12.4"/><circle cx="116.4" cy="1386.9" r="12.4"/><circle cx="168.6" cy="1334.6" r="12.4"/><circle cx="118.7" cy="1396.9" r="12.4"/><circle cx="247.7" cy="1279.6" r="12.4"/><circle cx="132.9" cy="1381.1" r="12.4"/><circle cx="250.4" cy="1270.2" r="12.4"/><circle cx="150.8" cy="1371.1" r="12.4"/><circle cx="189.1" cy="1327.5" r="12.4"/><circle cx="245.9" cy="1300.2" r="12.4"/><circle cx="124.4" cy="1382.9" r="12.4"/><circle cx="212.7" cy="1299.6" r="12.4"/><circle cx="234.3" cy="1304.1" r="12.4"/><circle cx="106.9" cy="1398.5" r="12.4"/><circle cx="139.9" cy="1368.9" r="12.4"/><circle cx="209.8" cy="1285.5" r="12.4"/><circle cx="229.8" cy="1284.1" r="12.4"/><circle cx="131.9" cy="1387.9" r="12.4"/><circle cx="110.2" cy="1387.2" r="12.4"/><circle cx="121" cy="1370.1" r="12.4"/><circle cx="205.4" cy="1320.7" r="12.4"/><circle cx="103.8" cy="1408.9" r="12.4"/><circle cx="197.1" cy="1306" r="12.4"/><circle cx="112.5" cy="1384.3" r="12.4"/><circle cx="207.3" cy="1299.1" r="12.4"/><circle cx="237.1" cy="1286.5" r="12.4"/><circle cx="231.4" cy="1288.1" r="12.4"/><circle cx="193" cy="1296" r="12.4"/><circle cx="211" cy="1315.4" r="12.4"/><circle cx="227.6" cy="1295.8" r="12.4"/><circle cx="173.7" cy="1322.9" r="12.4"/><circle cx="240" cy="1304.9" r="12.4"/><circle cx="203.5" cy="1288.4" r="12.4"/><circle cx="200.7" cy="1302.6" r="12.4"/><circle cx="131.1" cy="1357.4" r="12.4"/><circle cx="159.1" cy="1359.5" r="12.4"/><circle cx="176" cy="1316.5" r="12.4"/><circle cx="142.9" cy="1378.5" r="12.4"/><circle cx="133.4" cy="1378.2" r="12.4"/><circle cx="227.8" cy="1298.5" r="12.4"/><circle cx="105.9" cy="1398.7" r="12.4"/><circle cx="187.2" cy="1322" r="12.4"/><circle cx="169.8" cy="1341.3" r="12.4"/><circle cx="108.2" cy="1393.1" r="12.4"/><circle cx="200" cy="1324" r="12.4"/><circle cx="172.8" cy="1353.7" r="12.4"/><circle cx="208.9" cy="1324.2" r="12.4"/><circle cx="206.4" cy="1321.5" r="12.4"/><circle cx="220.6" cy="1294.9" r="12.4"/><circle cx="210.1" cy="1285.6" r="12.4"/><circle cx="238.5" cy="1276.8" r="12.4"/><circle cx="243.6" cy="1284.9" r="12.4"/><circle cx="224.6" cy="1294" r="12.4"/><circle cx="249.1" cy="1283.1" r="12.4"/><circle cx="149.5" cy="1361.1" r="12.4"/><circle cx="167.7" cy="1348.1" r="12.4"/><circle cx="223.2" cy="1301.5" r="12.4"/><circle cx="220" cy="1282.1" r="12.4"/><circle cx="210.3" cy="1322.9" r="12.4"/><circle cx="244.4" cy="1272.4" r="12.4"/><circle cx="144.9" cy="1349.1" r="12.4"/><circle cx="185.6" cy="1304.3" r="12.4"/><circle cx="237" cy="1276" r="12.4"/><circle cx="187.6" cy="1301.5" r="12.4"/><circle cx="192.5" cy="1327.4" r="12.4"/><circle cx="222" cy="1286.2" r="12.4"/><circle cx="111" cy="1388.1" r="12.4"/><circle cx="240.5" cy="1304.6" r="12.4"/><circle cx="166.6" cy="1348.8" r="12.4"/><circle cx="130" cy="1371.2" r="12.4"/><circle cx="104.5" cy="1396.3" r="12.4"/><circle cx="149.7" cy="1352.1" r="12.4"/><circle cx="119.6" cy="1395" r="12.4"/><circle cx="181.2" cy="1343.8" r="12.4"/><circle cx="181" cy="1306.9" r="12.4"/><circle cx="197.5" cy="1299.7" r="12.4"/><circle cx="136.2" cy="1382.7" r="12.4"/><circle cx="148.6" cy="1350.7" r="12.4"/><circle cx="235.1" cy="1276.6" r="12.4"/><circle cx="140.3" cy="1355.8" r="12.4"/><circle cx="120.1" cy="1384.7" r="12.4"/><circle cx="204.1" cy="1305.2" r="12.4"/><circle cx="215.5" cy="1305.6" r="12.4"/><circle cx="117.1" cy="1381.8" r="12.4"/><circle cx="123.2" cy="1366.7" r="12.4"/><circle cx="250.6" cy="1287.8" r="12.4"/><circle cx="244.7" cy="1292.6" r="12.4"/><circle cx="178.9" cy="1328.5" r="12.4"/><circle cx="228.5" cy="1279.3" r="12.4"/><circle cx="162.3" cy="1322.9" r="12.4"/><circle cx="103.4" cy="1399.5" r="12.4"/><circle cx="196.1" cy="1303.2" r="12.4"/><circle cx="222.6" cy="1285.4" r="12.4"/><circle cx="224.1" cy="1282.5" r="12.4"/><circle cx="216.9" cy="1292.7" r="12.4"/><circle cx="111.7" cy="1403.6" r="12.4"/><circle cx="154.8" cy="1344.5" r="12.4"/><circle cx="201.6" cy="1297.1" r="12.4"/><circle cx="159.9" cy="1330.3" r="12.4"/><circle cx="249" cy="1296.3" r="12.4"/><circle cx="161.7" cy="1363.6" r="12.4"/><circle cx="116" cy="1383" r="12.4"/><circle cx="247.1" cy="1276.6" r="12.4"/><circle cx="112.6" cy="1393.1" r="12.4"/><circle cx="125.2" cy="1390.3" r="12.4"/><circle cx="193.4" cy="1307.4" r="12.4"/><circle cx="191.3" cy="1299.8" r="12.4"/><circle cx="185.7" cy="1329" r="12.4"/><circle cx="138.1" cy="1348" r="12.4"/><circle cx="160" cy="1343.6" r="12.4"/><circle cx="243.7" cy="1294.7" r="12.4"/><circle cx="248" cy="1271.5" r="12.4"/><circle cx="210.2" cy="1288.8" r="12.4"/><circle cx="118.5" cy="1394.7" r="12.4"/><circle cx="109" cy="1404" r="12.4"/><circle cx="201.9" cy="1292" r="12.4"/><circle cx="164.4" cy="1331.5" r="12.4"/><circle cx="244.9" cy="1295.4" r="12.4"/><circle cx="235.8" cy="1298.1" r="12.4"/><circle cx="204.5" cy="1294.7" r="12.4"/><circle cx="129.8" cy="1358.8" r="12.4"/><circle cx="107.1" cy="1407.2" r="12.4"/><circle cx="195.2" cy="1334.7" r="12.4"/><circle cx="114.1" cy="1398.7" r="12.4"/><circle cx="173.3" cy="1313.7" r="12.4"/><circle cx="227.7" cy="1279.2" r="12.4"/><circle cx="195.2" cy="1323.9" r="12.4"/><circle cx="140.1" cy="1356.2" r="12.4"/><circle cx="250.4" cy="1271" r="12.4"/><circle cx="240.1" cy="1303.2" r="12.4"/><circle cx="233.2" cy="1277.2" r="12.4"/><circle cx="174.3" cy="1320.8" r="12.4"/><circle cx="112.6" cy="1394.5" r="12.4"/><circle cx="210.5" cy="1315.4" r="12.4"/><circle cx="155.1" cy="1359.5" r="12.4"/><circle cx="208.2" cy="1287.2" r="12.4"/><circle cx="167.2" cy="1347.1" r="12.4"/><circle cx="161.4" cy="1348.5" r="12.4"/><circle cx="156.3" cy="1365.7" r="12.4"/><circle cx="130.5" cy="1364" r="12.4"/><circle cx="186" cy="1340.7" r="12.4"/><circle cx="104.5" cy="1397.7" r="12.4"/><circle cx="247" cy="1285.3" r="12.4"/><circle cx="220.1" cy="1281.9" r="12.4"/><circle cx="236.8" cy="1289.4" r="12.4"/><circle cx="199.1" cy="1291.4" r="12.4"/><circle cx="179.8" cy="1337.7" r="12.4"/><circle cx="247.3" cy="1277.2" r="12.4"/><circle cx="209.9" cy="1296.8" r="12.4"/><circle cx="201.7" cy="1291.7" r="12.4"/><circle cx="245.7" cy="1277.4" r="12.4"/><circle cx="222.2" cy="1313.9" r="12.4"/><circle cx="213" cy="1305.5" r="12.4"/><circle cx="131.9" cy="1357.6" r="12.4"/><circle cx="110" cy="1388" r="12.4"/><circle cx="218.2" cy="1318.7" r="12.4"/><circle cx="189.3" cy="1325" r="12.4"/><circle cx="129" cy="1359.1" r="12.4"/><circle cx="190.9" cy="1337.8" r="12.4"/><circle cx="127.1" cy="1368.5" r="12.4"/><circle cx="224.4" cy="1283.9" r="12.4"/><circle cx="239.1" cy="1276.2" r="12.4"/><circle cx="173.9" cy="1313.3" r="12.4"/><circle cx="222.1" cy="1283.5" r="12.4"/><circle cx="142.5" cy="1365.4" r="12.4"/><circle cx="172.4" cy="1319.5" r="12.4"/><circle cx="124.8" cy="1393.3" r="12.4"/><circle cx="232.3" cy="1310.6" r="12.4"/><circle cx="181.8" cy="1326.3" r="12.4"/><circle cx="228.8" cy="1302.4" r="12.4"/><circle cx="209.3" cy="1324.4" r="12.4"/><circle cx="245.3" cy="1282.5" r="12.4"/><circle cx="164" cy="1336.2" r="12.4"/><circle cx="132.6" cy="1383" r="12.4"/><circle cx="226.7" cy="1312.6" r="12.4"/><circle cx="147.2" cy="1349.7" r="12.4"/><circle cx="117.1" cy="1377.7" r="12.4"/><circle cx="226.3" cy="1307.6" r="12.4"/><circle cx="208.3" cy="1314.5" r="12.4"/><circle cx="250.8" cy="1278" r="12.4"/><circle cx="144.9" cy="1375" r="12.4"/><circle cx="152" cy="1356.9" r="12.4"/><circle cx="211.5" cy="1293.2" r="12.4"/><circle cx="151.2" cy="1360.3" r="12.4"/><circle cx="115.3" cy="1392.3" r="12.4"/><circle cx="227.4" cy="1308.2" r="12.4"/><circle cx="124.8" cy="1393.5" r="12.4"/><circle cx="240.1" cy="1276.8" r="12.4"/><circle cx="216.9" cy="1308.8" r="12.4"/><circle cx="163.3" cy="1321.3" r="12.4"/><circle cx="249.3" cy="1294.2" r="12.4"/><circle cx="151.1" cy="1354.9" r="12.4"/><circle cx="178" cy="1342" r="12.4"/><circle cx="216.8" cy="1306.4" r="12.4"/><circle cx="176.6" cy="1310.4" r="12.4"/><circle cx="209.1" cy="1297.9" r="12.4"/><circle cx="195.8" cy="1333.6" r="12.4"/><circle cx="188.1" cy="1309.3" r="12.4"/><circle cx="155.6" cy="1332" r="12.4"/><circle cx="121.6" cy="1379" r="12.4"/><circle cx="185.7" cy="1302.7" r="12.4"/><circle cx="191.9" cy="1311.4" r="12.4"/><circle cx="137.5" cy="1362.8" r="12.4"/><circle cx="112.6" cy="1383.1" r="12.4"/><circle cx="242.9" cy="1279" r="12.4"/><circle cx="212.4" cy="1318.9" r="12.4"/><circle cx="131.2" cy="1385.2" r="12.4"/><circle cx="187.1" cy="1341.7" r="12.4"/><circle cx="186.8" cy="1321.2" r="12.4"/><circle cx="122.9" cy="1387.7" r="12.4"/><circle cx="195.3" cy="1329.7" r="12.4"/><circle cx="251.2" cy="1290.1" r="12.4"/><circle cx="186.5" cy="1316.9" r="12.4"/><circle cx="166.3" cy="1344.7" r="12.4"/><circle cx="210.6" cy="1292.9" r="12.4"/><circle cx="147.1" cy="1369.6" r="12.4"/><circle cx="168.6" cy="1353.2" r="12.4"/><circle cx="206" cy="1321.6" r="12.4"/><circle cx="160.8" cy="1324.4" r="12.4"/><circle cx="247" cy="1279.9" r="12.4"/><circle cx="134.6" cy="1384.1" r="12.4"/><circle cx="220.7" cy="1281.8" r="12.4"/><circle cx="101.2" cy="1410.3" r="12.4"/><circle cx="110.6" cy="1399.6" r="12.4"/><circle cx="189.5" cy="1299.1" r="12.4"/><circle cx="147.6" cy="1374.8" r="12.4"/><circle cx="132.3" cy="1385.9" r="12.4"/><circle cx="227.6" cy="1311.6" r="12.4"/><circle cx="233.9" cy="1291.5" r="12.4"/><circle cx="130" cy="1378.2" r="12.4"/><circle cx="210.6" cy="1287.6" r="12.4"/><circle cx="121.5" cy="1388.9" r="12.4"/><circle cx="134.8" cy="1372" r="12.4"/><circle cx="136.6" cy="1360.4" r="12.4"/><circle cx="234.6" cy="1304.2" r="12.4"/><circle cx="241" cy="1280.1" r="12.4"/><circle cx="114.7" cy="1389.6" r="12.4"/><circle cx="181.2" cy="1332.6" r="12.4"/><circle cx="222.3" cy="1281.1" r="12.4"/><circle cx="138.2" cy="1381.5" r="12.4"/><circle cx="236.5" cy="1293.9" r="12.4"/><circle cx="214.4" cy="1312.1" r="12.4"/><circle cx="185" cy="1310.8" r="12.4"/><circle cx="219.3" cy="1286.4" r="12.4"/><circle cx="204.4" cy="1303.9" r="12.4"/><circle cx="126" cy="1387.5" r="12.4"/><circle cx="217.8" cy="1305.4" r="12.4"/><circle cx="134.5" cy="1380.7" r="12.4"/><circle cx="191.2" cy="1335.9" r="12.4"/><circle cx="124" cy="1394.4" r="12.4"/><circle cx="167.8" cy="1336.6" r="12.4"/><circle cx="187" cy="1326.7" r="12.4"/><circle cx="148" cy="1336.7" r="12.4"/><circle cx="180.4" cy="1325.6" r="12.4"/><circle cx="127" cy="1361.5" r="12.4"/><circle cx="226.5" cy="1304.5" r="12.4"/><circle cx="156.1" cy="1348.8" r="12.4"/><circle cx="216" cy="1304.2" r="12.4"/><circle cx="213.5" cy="1284.1" r="12.4"/><circle cx="122.5" cy="1393.7" r="12.4"/><circle cx="112.6" cy="1385.5" r="12.4"/><circle cx="135.8" cy="1371.8" r="12.4"/><circle cx="241.8" cy="1275.2" r="12.4"/><circle cx="193.3" cy="1295.6" r="12.4"/><circle cx="109.9" cy="1388.6" r="12.4"/><circle cx="234.9" cy="1279.6" r="12.4"/><circle cx="158.6" cy="1354.9" r="12.4"/><circle cx="128.8" cy="1386" r="12.4"/><circle cx="133.5" cy="1383.3" r="12.4"/><circle cx="251" cy="1287.2" r="12.4"/><circle cx="112.1" cy="1400" r="12.4"/><circle cx="103.9" cy="1408.8" r="12.4"/><circle cx="240.5" cy="1298.3" r="12.4"/><circle cx="124.3" cy="1376.3" r="12.4"/><circle cx="210.3" cy="1309.6" r="12.4"/><circle cx="159.1" cy="1338.6" r="12.4"/><circle cx="179.5" cy="1348.7" r="12.4"/><circle cx="107.3" cy="1399.7" r="12.4"/><circle cx="165.1" cy="1325.2" r="12.4"/><circle cx="140.4" cy="1365.8" r="12.4"/><circle cx="143.4" cy="1370.2" r="12.4"/><circle cx="231.8" cy="1310.2" r="12.4"/><circle cx="133.7" cy="1353" r="12.4"/><circle cx="186.5" cy="1316.1" r="12.4"/><circle cx="239.8" cy="1279.5" r="12.4"/><circle cx="232.2" cy="1295.6" r="12.4"/><circle cx="286" cy="1245.9" r="12.4"/><circle cx="285.2" cy="1257.8" r="12.4"/><circle cx="295.7" cy="1247" r="12.4"/><circle cx="264.4" cy="1272.7" r="12.4"/><circle cx="293.7" cy="1244.3" r="12.4"/><circle cx="311.3" cy="1232.8" r="12.4"/><circle cx="258.4" cy="1273.6" r="12.4"/><circle cx="288.8" cy="1247.5" r="12.4"/><circle cx="303.6" cy="1255.4" r="12.4"/><circle cx="300.9" cy="1258" r="12.4"/><circle cx="251.9" cy="1279" r="12.4"/><circle cx="283.4" cy="1247.7" r="12.4"/><circle cx="287.1" cy="1244.8" r="12.4"/><circle cx="295.6" cy="1258.9" r="12.4"/><circle cx="293.1" cy="1251" r="12.4"/><circle cx="273.2" cy="1251.8" r="12.4"/><circle cx="281.9" cy="1283.4" r="12.4"/><circle cx="302.1" cy="1241.1" r="12.4"/><circle cx="311.5" cy="1230.8" r="12.4"/><circle cx="293.1" cy="1262.3" r="12.4"/><circle cx="338" cy="1218.5" r="12.4"/><circle cx="303" cy="1264.6" r="12.4"/><circle cx="321.1" cy="1235.4" r="12.4"/><circle cx="307.2" cy="1242" r="12.4"/><circle cx="288.2" cy="1253.1" r="12.4"/><circle cx="326.5" cy="1235.8" r="12.4"/><circle cx="285.1" cy="1282.3" r="12.4"/><circle cx="253.3" cy="1267.2" r="12.4"/><circle cx="296.6" cy="1247.3" r="12.4"/><circle cx="283.1" cy="1286.3" r="12.4"/><circle cx="263.6" cy="1264.4" r="12.4"/><circle cx="270.9" cy="1280.7" r="12.4"/><circle cx="271.4" cy="1251.9" r="12.4"/><circle cx="300" cy="1247.6" r="12.4"/><circle cx="271.9" cy="1272.3" r="12.4"/><circle cx="309.9" cy="1244.2" r="12.4"/><circle cx="307.5" cy="1246.8" r="12.4"/><circle cx="326.6" cy="1237.7" r="12.4"/><circle cx="280.6" cy="1261.2" r="12.4"/><circle cx="331.7" cy="1219.8" r="12.4"/><circle cx="316" cy="1242.7" r="12.4"/><circle cx="313.2" cy="1254.1" r="12.4"/><circle cx="326" cy="1219.4" r="12.4"/><circle cx="307.2" cy="1244.7" r="12.4"/><circle cx="301.9" cy="1245.1" r="12.4"/><circle cx="276.2" cy="1280.6" r="12.4"/><circle cx="299.1" cy="1242.6" r="12.4"/><circle cx="272.8" cy="1264.7" r="12.4"/><circle cx="266.2" cy="1276.4" r="12.4"/><circle cx="261.4" cy="1260.2" r="12.4"/><circle cx="256.1" cy="1264.5" r="12.4"/><circle cx="314.9" cy="1226" r="12.4"/><circle cx="291.5" cy="1270.1" r="12.4"/><circle cx="294.2" cy="1243.7" r="12.4"/><circle cx="329.9" cy="1232.8" r="12.4"/><circle cx="254.7" cy="1271.7" r="12.4"/><circle cx="296.7" cy="1265.8" r="12.4"/><circle cx="286" cy="1273.2" r="12.4"/><circle cx="273" cy="1281" r="12.4"/><circle cx="280" cy="1261" r="12.4"/><circle cx="320" cy="1242.5" r="12.4"/><circle cx="326.4" cy="1228.6" r="12.4"/><circle cx="343.8" cy="1222.3" r="12.4"/><circle cx="349.2" cy="1221.8" r="12.4"/><circle cx="354" cy="1206.5" r="12.4"/><circle cx="342.6" cy="1222.2" r="12.4"/><circle cx="338.7" cy="1216.9" r="12.4"/><circle cx="332.9" cy="1224.7" r="12.4"/><circle cx="357.7" cy="1221.3" r="12.4"/><circle cx="336.1" cy="1224.9" r="12.4"/><circle cx="343.7" cy="1221.3" r="12.4"/><circle cx="343.1" cy="1225.7" r="12.4"/><circle cx="359" cy="1200.6" r="12.4"/><circle cx="351.6" cy="1208.3" r="12.4"/><circle cx="333.6" cy="1220.2" r="12.4"/><circle cx="352.1" cy="1223.5" r="12.4"/><circle cx="335.7" cy="1220.1" r="12.4"/><circle cx="333.2" cy="1224" r="12.4"/><circle cx="345.4" cy="1217" r="12.4"/><circle cx="340.8" cy="1224.7" r="12.4"/><circle cx="355" cy="1208.7" r="12.4"/><circle cx="343" cy="1221.3" r="12.4"/><circle cx="353" cy="1223" r="12.4"/><circle cx="342.9" cy="1222.4" r="12.4"/><circle cx="347.1" cy="1222.2" r="12.4"/><circle cx="336.4" cy="1217.6" r="12.4"/><circle cx="335.4" cy="1228.6" r="12.4"/><circle cx="339.2" cy="1221" r="12.4"/><circle cx="335.7" cy="1220" r="12.4"/><circle cx="333" cy="1224.4" r="12.4"/><circle cx="336.3" cy="1224" r="12.4"/><circle cx="339.8" cy="1217.1" r="12.4"/><circle cx="376.8" cy="1204.4" r="12.4"/><circle cx="359.5" cy="1212.5" r="12.4"/><circle cx="364.4" cy="1205" r="12.4"/><circle cx="376.9" cy="1199.9" r="12.4"/><circle cx="379.6" cy="1191.4" r="12.4"/><circle cx="392.6" cy="1187.8" r="12.4"/><circle cx="386.9" cy="1200.6" r="12.4"/><circle cx="361.8" cy="1200.1" r="12.4"/><circle cx="369.7" cy="1209.3" r="12.4"/><circle cx="396.6" cy="1179" r="12.4"/><circle cx="389.6" cy="1184.9" r="12.4"/><circle cx="391.1" cy="1188.5" r="12.4"/><circle cx="373.5" cy="1194.1" r="12.4"/><circle cx="357.8" cy="1216.6" r="12.4"/><circle cx="372.1" cy="1197" r="12.4"/><circle cx="371.5" cy="1203.8" r="12.4"/><circle cx="370.7" cy="1196.9" r="12.4"/><circle cx="379.5" cy="1199.4" r="12.4"/><circle cx="362.8" cy="1216.3" r="12.4"/><circle cx="377.7" cy="1187.9" r="12.4"/><circle cx="396.3" cy="1184.8" r="12.4"/><circle cx="361.3" cy="1208" r="12.4"/><circle cx="365.9" cy="1207.1" r="12.4"/><circle cx="384.9" cy="1193.7" r="12.4"/><circle cx="371.6" cy="1199.6" r="12.4"/><circle cx="372.5" cy="1194.3" r="12.4"/><circle cx="393.6" cy="1183.4" r="12.4"/><circle cx="361.6" cy="1205" r="12.4"/><circle cx="374.2" cy="1190.7" r="12.4"/><circle cx="380.6" cy="1186.5" r="12.4"/><circle cx="375.3" cy="1206.1" r="12.4"/><circle cx="376.2" cy="1194" r="12.4"/><circle cx="397.8" cy="1186.1" r="12.4"/><circle cx="377.2" cy="1190.1" r="12.4"/><circle cx="391.2" cy="1185.1" r="12.4"/><circle cx="359.5" cy="1208.1" r="12.4"/><circle cx="375.6" cy="1199.1" r="12.4"/><circle cx="383.5" cy="1199.8" r="12.4"/><circle cx="366.9" cy="1197.7" r="12.4"/><circle cx="394.3" cy="1192.6" r="12.4"/><circle cx="361" cy="1200.7" r="12.4"/><circle cx="391.4" cy="1199.6" r="12.4"/><circle cx="392" cy="1188.5" r="12.4"/><circle cx="365.4" cy="1212.6" r="12.4"/><circle cx="384.5" cy="1199.9" r="12.4"/><circle cx="369.9" cy="1196.3" r="12.4"/><circle cx="385.6" cy="1182.2" r="12.4"/><circle cx="376.2" cy="1187.9" r="12.4"/><circle cx="382.1" cy="1184.6" r="12.4"/><circle cx="385.5" cy="1196.6" r="12.4"/><circle cx="373.7" cy="1195.1" r="12.4"/><circle cx="373.8" cy="1191.5" r="12.4"/><circle cx="371.2" cy="1196.1" r="12.4"/><circle cx="368.6" cy="1200.4" r="12.4"/><circle cx="384.9" cy="1188.1" r="12.4"/><circle cx="381.7" cy="1200.6" r="12.4"/><circle cx="368.5" cy="1200.7" r="12.4"/><circle cx="384.7" cy="1201" r="12.4"/><circle cx="393.9" cy="1198.1" r="12.4"/><circle cx="390.8" cy="1195.2" r="12.4"/><circle cx="394" cy="1198.6" r="12.4"/><circle cx="386.8" cy="1185.3" r="12.4"/><circle cx="396.2" cy="1191.8" r="12.4"/><circle cx="376.1" cy="1191.5" r="12.4"/><circle cx="397.3" cy="1186.3" r="12.4"/><circle cx="383.8" cy="1192.9" r="12.4"/><circle cx="373.5" cy="1193.6" r="12.4"/><circle cx="365.5" cy="1213.9" r="12.4"/><circle cx="387.6" cy="1181" r="12.4"/><circle cx="382.6" cy="1187.9" r="12.4"/><circle cx="387.1" cy="1195.5" r="12.4"/><circle cx="357.5" cy="1218.2" r="12.4"/><circle cx="371.4" cy="1207.7" r="12.4"/><circle cx="389.5" cy="1199.4" r="12.4"/><circle cx="380.4" cy="1184.5" r="12.4"/><circle cx="369" cy="1207.1" r="12.4"/><circle cx="359.1" cy="1202.8" r="12.4"/><circle cx="375.9" cy="1194" r="12.4"/><circle cx="363.3" cy="1209.2" r="12.4"/><circle cx="382.2" cy="1196.7" r="12.4"/><circle cx="363.2" cy="1214.3" r="12.4"/><circle cx="378.8" cy="1203.7" r="12.4"/><circle cx="396.8" cy="1187.8" r="12.4"/><circle cx="360.1" cy="1202" r="12.4"/><circle cx="370.5" cy="1193.6" r="12.4"/><circle cx="380.4" cy="1197.1" r="12.4"/><circle cx="387.5" cy="1200.2" r="12.4"/><circle cx="376.6" cy="1204.6" r="12.4"/><circle cx="358.9" cy="1207.6" r="12.4"/><circle cx="379.5" cy="1201.9" r="12.4"/><circle cx="372.2" cy="1208.5" r="12.4"/><circle cx="387.9" cy="1198.5" r="12.4"/><circle cx="396.9" cy="1195.4" r="12.4"/><circle cx="381.6" cy="1184.9" r="12.4"/><circle cx="381.2" cy="1184.8" r="12.4"/><circle cx="388.1" cy="1200.6" r="12.4"/><circle cx="368" cy="1199.8" r="12.4"/><circle cx="373.5" cy="1198.4" r="12.4"/><circle cx="391.3" cy="1180.2" r="12.4"/><circle cx="389.5" cy="1183.8" r="12.4"/><circle cx="358.8" cy="1203.2" r="12.4"/><circle cx="357.8" cy="1215.7" r="12.4"/><circle cx="387.4" cy="1181.2" r="12.4"/><circle cx="359.9" cy="1206.2" r="12.4"/><circle cx="372.5" cy="1207.5" r="12.4"/><circle cx="370.1" cy="1206.7" r="12.4"/><circle cx="391.4" cy="1195.6" r="12.4"/><circle cx="361.7" cy="1203.9" r="12.4"/><circle cx="365.6" cy="1198.1" r="12.4"/><circle cx="362" cy="1211.5" r="12.4"/><circle cx="390.4" cy="1190.8" r="12.4"/><circle cx="389.6" cy="1173.7" r="12.4"/><circle cx="387.2" cy="1188.4" r="12.4"/><circle cx="388.2" cy="1195.8" r="12.4"/><circle cx="401.3" cy="1195" r="12.4"/><circle cx="398.1" cy="1196" r="12.4"/><circle cx="396.2" cy="1194.1" r="12.4"/><circle cx="397.2" cy="1193.5" r="12.4"/><circle cx="389.7" cy="1183.4" r="12.4"/><circle cx="389.8" cy="1193.9" r="12.4"/><circle cx="397.4" cy="1182.4" r="12.4"/><circle cx="389.9" cy="1183.9" r="12.4"/><circle cx="399.2" cy="1187.2" r="12.4"/><circle cx="393.6" cy="1183.1" r="12.4"/><circle cx="394.2" cy="1199.3" r="12.4"/><circle cx="391.4" cy="1185.5" r="12.4"/><circle cx="403.4" cy="1193.1" r="12.4"/><circle cx="389.1" cy="1195.7" r="12.4"/><circle cx="388.5" cy="1191.9" r="12.4"/><circle cx="382.1" cy="1181" r="12.4"/><circle cx="399.5" cy="1183.8" r="12.4"/><circle cx="391.2" cy="1188.4" r="12.4"/><circle cx="394.9" cy="1184.7" r="12.4"/><circle cx="391.4" cy="1200.7" r="12.4"/><circle cx="402.4" cy="1190.3" r="12.4"/><circle cx="268.2" cy="1230.9" r="12.4"/><circle cx="244" cy="1267.5" r="12.4"/><circle cx="307.6" cy="1181.3" r="12.4"/><circle cx="292.7" cy="1221.7" r="12.4"/><circle cx="290.4" cy="1219.5" r="12.4"/><circle cx="230.2" cy="1275.6" r="12.4"/><circle cx="272.5" cy="1240.3" r="12.4"/><circle cx="288.5" cy="1208.6" r="12.4"/><circle cx="302.3" cy="1181" r="12.4"/><circle cx="280.7" cy="1224.2" r="12.4"/><circle cx="307.6" cy="1183.1" r="12.4"/><circle cx="239.7" cy="1256.8" r="12.4"/><circle cx="284.5" cy="1223.7" r="12.4"/><circle cx="235.4" cy="1278.9" r="12.4"/><circle cx="265" cy="1243.5" r="12.4"/><circle cx="239.9" cy="1269.5" r="12.4"/><circle cx="223.3" cy="1284.7" r="12.4"/><circle cx="237.8" cy="1271.2" r="12.4"/><circle cx="238.3" cy="1266" r="12.4"/><circle cx="299.7" cy="1212.6" r="12.4"/><circle cx="298.2" cy="1188.1" r="12.4"/><circle cx="272.4" cy="1226.7" r="12.4"/><circle cx="285.3" cy="1213.6" r="12.4"/><circle cx="277.7" cy="1208.7" r="12.4"/><circle cx="289.5" cy="1218.9" r="12.4"/><circle cx="215.3" cy="1290.2" r="12.4"/><circle cx="247.1" cy="1247.6" r="12.4"/><circle cx="233.8" cy="1272.7" r="12.4"/><circle cx="247.9" cy="1248" r="12.4"/><circle cx="306.8" cy="1192.2" r="12.4"/><circle cx="268" cy="1237.5" r="12.4"/><circle cx="233.6" cy="1263.9" r="12.4"/><circle cx="221.1" cy="1282.2" r="12.4"/><circle cx="277.4" cy="1237.3" r="12.4"/><circle cx="302.5" cy="1212" r="12.4"/><circle cx="267.9" cy="1244.8" r="12.4"/><circle cx="311.5" cy="1195.1" r="12.4"/><circle cx="299.5" cy="1216.4" r="12.4"/><circle cx="278.3" cy="1236.5" r="12.4"/><circle cx="212.8" cy="1296.4" r="12.4"/><circle cx="310.9" cy="1180.8" r="12.4"/><circle cx="297.8" cy="1191.2" r="12.4"/><circle cx="263.4" cy="1250.5" r="12.4"/><circle cx="264" cy="1246.6" r="12.4"/><circle cx="263.9" cy="1241.4" r="12.4"/><circle cx="261.1" cy="1249" r="12.4"/><circle cx="282.3" cy="1220.7" r="12.4"/><circle cx="259.7" cy="1253.9" r="12.4"/><circle cx="259.8" cy="1239.5" r="12.4"/><circle cx="309.8" cy="1186.9" r="12.4"/><circle cx="223.6" cy="1286.6" r="12.4"/><circle cx="244.3" cy="1253.7" r="12.4"/><circle cx="306.4" cy="1174.4" r="12.4"/><circle cx="307.5" cy="1175.1" r="12.4"/><circle cx="298.1" cy="1185.3" r="12.4"/><circle cx="211.8" cy="1298.1" r="12.4"/><circle cx="270.5" cy="1224.2" r="12.4"/><circle cx="272.8" cy="1224.1" r="12.4"/><circle cx="305.8" cy="1209.5" r="12.4"/><circle cx="263.2" cy="1223.7" r="12.4"/><circle cx="285.4" cy="1282.8" r="12.4"/><circle cx="328.2" cy="1245.3" r="12.4"/><circle cx="285" cy="1282.1" r="12.4"/><circle cx="326.2" cy="1244" r="12.4"/><circle cx="310.4" cy="1262.4" r="12.4"/><circle cx="322.5" cy="1250.4" r="12.4"/><circle cx="283.8" cy="1283.3" r="12.4"/><circle cx="324.4" cy="1250.4" r="12.4"/><circle cx="329.8" cy="1153.7" r="12.4"/><circle cx="263" cy="1218" r="12.4"/><circle cx="217.5" cy="1271.3" r="12.4"/><circle cx="295.8" cy="1191.4" r="12.4"/><circle cx="287.6" cy="1200.4" r="12.4"/><circle cx="277.9" cy="1195.6" r="12.4"/><circle cx="247.6" cy="1235.4" r="12.4"/><circle cx="236" cy="1254.8" r="12.4"/><circle cx="250.2" cy="1249" r="12.4"/><circle cx="261.1" cy="1222.1" r="12.4"/><circle cx="248.1" cy="1241.6" r="12.4"/><circle cx="287.2" cy="1199.9" r="12.4"/><circle cx="662.8" cy="902.1" r="12.4"/><circle cx="639.5" cy="944.2" r="12.4"/><circle cx="572.2" cy="993.6" r="12.4"/><circle cx="550.5" cy="1043.7" r="12.4"/><circle cx="475.9" cy="1137.6" r="12.4"/><circle cx="441.4" cy="1114.3" r="12.4"/><circle cx="425.3" cy="1068.6" r="12.4"/><circle cx="426.1" cy="1081.4" r="12.4"/><circle cx="408.1" cy="1082.6" r="12.4"/><circle cx="394.9" cy="1096.7" r="12.4"/><circle cx="384.8" cy="1108.7" r="12.4"/><circle cx="374.8" cy="1118.7" r="12.4"/><circle cx="366.8" cy="1128" r="12.4"/><circle cx="350.7" cy="1132.8" r="12.4"/><circle cx="354.7" cy="1138.8" r="12.4"/><circle cx="349.9" cy="1140.8" r="12.4"/><circle cx="356.7" cy="1129.5" r="12.4"/><circle cx="346.7" cy="1136.8" r="12.4"/><circle cx="420.9" cy="1139.6" r="12.4"/><circle cx="408.9" cy="1142.8" r="12.4"/><circle cx="400.9" cy="1136.8" r="12.4"/><circle cx="388.8" cy="1154.8" r="12.4"/><circle cx="358" cy="1166.9" r="12.4"/><circle cx="323.9" cy="1162.9" r="12.4"/><circle cx="338.7" cy="1156.8" r="12.4"/><circle cx="326.7" cy="1176.9" r="12.4"/><circle cx="336.7" cy="1170.9" r="12.4"/><circle cx="308.6" cy="1191" r="12.4"/><circle cx="316.6" cy="1186.9" r="12.4"/><circle cx="272.5" cy="1203" r="12.4"/><circle cx="288.6" cy="1208.2" r="12.4"/><circle cx="241.6" cy="1237.1" r="12.4"/><circle cx="208.3" cy="1261.1" r="12.4"/><circle cx="222.4" cy="1261.1" r="12.4"/><circle cx="149.4" cy="1384.7" r="12.4"/></g>
<line x1="101.1" y1="1406.1" x2="663.7" y2="874.8" stroke="#D95319" stroke-width="1.7"/>
<text x="381.4" y="1509.1" text-anchor="middle" class="lb">Simulated LC value</text>
<text transform="translate(50.1 1139.5) rotate(-90)" text-anchor="middle" class="lb">Predicted LC value</text>
<text x="101.7" y="873.5" class="xx">×</text>
<text x="131.2" y="867" class="tk">10</text>
<text x="173.1" y="847.8" class="sp">-5</text>
<text x="563.6" y="1523.4" class="xx">×</text>
<text x="593.4" y="1516.1" class="tk">10</text>
<text x="635.3" y="1498.1" class="sp">-5</text></g>
<g><path d="M911.7 874.8V1406.1H1474.3" fill="none" stroke="#262626" stroke-width="2"/>
<text x="911.7" y="1456.2" text-anchor="middle" class="tk">0</text>
<text x="1076.2" y="1456.2" text-anchor="middle" class="tk">2</text>
<text x="1240.7" y="1456.2" text-anchor="middle" class="tk">4</text>
<text x="1405.2" y="1456.2" text-anchor="middle" class="tk">6</text>
<text x="899" y="1420.3" text-anchor="end" class="tk">0</text>
<text x="899" y="1342.6" text-anchor="end" class="tk">1</text>
<text x="899" y="1264.9" text-anchor="end" class="tk">2</text>
<text x="899" y="1187.3" text-anchor="end" class="tk">3</text>
<text x="899" y="1109.6" text-anchor="end" class="tk">4</text>
<text x="899" y="1031.9" text-anchor="end" class="tk">5</text>
<text x="899" y="954.2" text-anchor="end" class="tk">6</text>
<path d="M911.7 1406.1v-7M1076.2 1406.1v-7M1240.7 1406.1v-7M1405.2 1406.1v-7M911.7 1406.1h7M911.7 1328.4h7M911.7 1250.7h7M911.7 1173.1h7M911.7 1095.4h7M911.7 1017.7h7M911.7 940h7" stroke="#262626" stroke-width="2" fill="none"/>
<polygon fill="#0072BD" points="911.7,1387.6 920.5,1377.6 929.3,1367.6 938.1,1357.8 946.9,1348.2 955.7,1339 964.5,1330.7 973.3,1322.4 982.1,1314.1 990.9,1305.8 999.7,1297.2 1008.5,1288.5 1017.3,1279.7 1026.1,1271 1034.9,1262.3 1043.7,1252.7 1052.5,1243.1 1061.3,1233.5 1070.1,1223.9 1078.9,1214.5 1087.7,1205.4 1096.5,1196.4 1105.3,1187.9 1114.1,1179.9 1122.9,1171.8 1131.7,1163.8 1140.5,1156.1 1149.3,1148.6 1158.1,1141 1166.9,1133.5 1175.7,1126 1184.5,1118.4 1193.3,1110.2 1202.1,1100.5 1210.9,1090.8 1219.7,1081.5 1228.5,1072.6 1237.3,1063.8 1246.1,1054.9 1254.9,1046.1 1263.7,1037.2 1272.5,1028.4 1281.3,1019.5 1290.1,1011.2 1298.9,1002.9 1307.7,994.7 1316.5,986.7 1325.3,978.6 1334.1,970.6 1342.9,962.5 1351.7,954.5 1360.5,946.4 1369.3,938.4 1378.1,931.2 1386.9,924.1 1395.7,917 1404.6,909.9 1413.4,902.8 1422.2,898.8 1431,895.1 1439.8,893.9 1439.8,920.9 1431,936.4 1422.2,948.4 1413.4,959.9 1404.6,968.6 1395.7,977.3 1386.9,986 1378.1,994.8 1369.3,1003.4 1360.5,1011.4 1351.7,1019.5 1342.9,1027.5 1334.1,1035.6 1325.3,1043.6 1316.5,1051.7 1307.7,1059.7 1298.9,1068.8 1290.1,1078.6 1281.3,1088.5 1272.5,1096.6 1263.7,1104.6 1254.9,1112.7 1246.1,1120.7 1237.3,1128.7 1228.5,1136.8 1219.7,1144.8 1210.9,1153 1202.1,1161.3 1193.3,1169.6 1184.5,1178.3 1175.7,1187 1166.9,1195.8 1158.1,1204.6 1149.3,1213.4 1140.5,1222.2 1131.7,1230.9 1122.9,1239.5 1114.1,1248 1105.3,1256.6 1096.5,1265.1 1087.7,1273.4 1078.9,1281.7 1070.1,1289.1 1061.3,1296.1 1052.5,1303.2 1043.7,1310.2 1034.9,1317.2 1026.1,1325.1 1017.3,1333 1008.5,1340.9 999.7,1348.8 990.9,1356.8 982.1,1365.1 973.3,1373.4 964.5,1381.7 955.7,1390 946.9,1397.5 938.1,1404.5 929.3,1411.4 920.5,1418 911.7,1424.6"/><circle cx="925.7" cy="1403.8" r="14" fill="#0072BD"/><circle cx="911.7" cy="1406.1" r="15" fill="#0072BD"/>
<g fill="none" stroke="#0072BD" stroke-width="1.9"><circle cx="1400.1" cy="941.6" r="12.4"/><circle cx="1135.5" cy="1211.3" r="12.4"/><circle cx="1146.5" cy="1205.2" r="12.4"/><circle cx="957" cy="1354.9" r="12.4"/><circle cx="1299.4" cy="1015.1" r="12.4"/><circle cx="1222.8" cy="1131.4" r="12.4"/><circle cx="1312.9" cy="1037.3" r="12.4"/><circle cx="957" cy="1372.5" r="12.4"/><circle cx="1250.9" cy="1105.6" r="12.4"/><circle cx="1342.5" cy="1017.1" r="12.4"/><circle cx="932.3" cy="1396.9" r="12.4"/><circle cx="1106.9" cy="1198.3" r="12.4"/><circle cx="1201.6" cy="1112.3" r="12.4"/><circle cx="1285.1" cy="1040.9" r="12.4"/><circle cx="1396.8" cy="942.8" r="12.4"/><circle cx="941.2" cy="1366.6" r="12.4"/><circle cx="1274.6" cy="1037.5" r="12.4"/><circle cx="1433.5" cy="909.1" r="12.4"/><circle cx="1110.8" cy="1240.5" r="12.4"/><circle cx="1015.5" cy="1311.6" r="12.4"/><circle cx="1191" cy="1123.2" r="12.4"/><circle cx="1045.3" cy="1288.4" r="12.4"/><circle cx="1382.9" cy="973.4" r="12.4"/><circle cx="1277.7" cy="1063.4" r="12.4"/><circle cx="1128" cy="1187.8" r="12.4"/><circle cx="969" cy="1342.1" r="12.4"/><circle cx="1352.8" cy="984.2" r="12.4"/><circle cx="1197.8" cy="1144.8" r="12.4"/><circle cx="1291" cy="1020.4" r="12.4"/><circle cx="986.6" cy="1330.4" r="12.4"/><circle cx="1003.1" cy="1332.8" r="12.4"/><circle cx="1281.1" cy="1041" r="12.4"/><circle cx="1189.5" cy="1142" r="12.4"/><circle cx="1367.7" cy="957.3" r="12.4"/><circle cx="1065.7" cy="1280.6" r="12.4"/><circle cx="1418.5" cy="941.5" r="12.4"/><circle cx="1342.9" cy="1000.8" r="12.4"/><circle cx="958.7" cy="1346.8" r="12.4"/><circle cx="1177" cy="1175.5" r="12.4"/><circle cx="1210.6" cy="1116.8" r="12.4"/><circle cx="1042.4" cy="1281.8" r="12.4"/><circle cx="1057.3" cy="1250.4" r="12.4"/><circle cx="959.4" cy="1353.1" r="12.4"/><circle cx="1066.5" cy="1274.4" r="12.4"/><circle cx="1427.2" cy="922.3" r="12.4"/><circle cx="1234.3" cy="1088.7" r="12.4"/><circle cx="1212.6" cy="1107.4" r="12.4"/><circle cx="1084.3" cy="1219.3" r="12.4"/><circle cx="1020.5" cy="1289.3" r="12.4"/><circle cx="1193.3" cy="1146.5" r="12.4"/><circle cx="1255.6" cy="1071.5" r="12.4"/><circle cx="1430" cy="918.2" r="12.4"/><circle cx="1320.4" cy="1024.1" r="12.4"/><circle cx="1294.1" cy="1052.1" r="12.4"/><circle cx="1126.5" cy="1225.9" r="12.4"/><circle cx="1346.3" cy="1007.5" r="12.4"/><circle cx="1078.2" cy="1262.8" r="12.4"/><circle cx="1345.6" cy="980.5" r="12.4"/><circle cx="1137.5" cy="1169.1" r="12.4"/><circle cx="1138.9" cy="1199.7" r="12.4"/><circle cx="941.9" cy="1363.7" r="12.4"/><circle cx="1302.8" cy="1038.1" r="12.4"/><circle cx="1229.8" cy="1092.1" r="12.4"/><circle cx="975.8" cy="1361" r="12.4"/><circle cx="1250.4" cy="1066.4" r="12.4"/><circle cx="1192.4" cy="1121.9" r="12.4"/><circle cx="1053.5" cy="1253.4" r="12.4"/><circle cx="1329.3" cy="1007" r="12.4"/><circle cx="1212.5" cy="1114.6" r="12.4"/><circle cx="1411.9" cy="921.5" r="12.4"/><circle cx="1423.7" cy="923.3" r="12.4"/><circle cx="1331.7" cy="991.1" r="12.4"/><circle cx="1055.4" cy="1257.2" r="12.4"/><circle cx="1016" cy="1306.5" r="12.4"/><circle cx="1004.7" cy="1303" r="12.4"/><circle cx="986.8" cy="1332.9" r="12.4"/><circle cx="1312.6" cy="1004.8" r="12.4"/><circle cx="985.3" cy="1330" r="12.4"/><circle cx="1182.3" cy="1145.1" r="12.4"/><circle cx="954.9" cy="1355.8" r="12.4"/><circle cx="1021.5" cy="1304.8" r="12.4"/><circle cx="1219.7" cy="1103.9" r="12.4"/><circle cx="1339.2" cy="981.5" r="12.4"/><circle cx="1403.9" cy="934.7" r="12.4"/><circle cx="1346.3" cy="1012.5" r="12.4"/><circle cx="1180.1" cy="1134.6" r="12.4"/><circle cx="1431.1" cy="920.5" r="12.4"/><circle cx="1106.9" cy="1227.9" r="12.4"/><circle cx="1202.2" cy="1111.5" r="12.4"/><circle cx="1434.9" cy="910.8" r="12.4"/><circle cx="1248" cy="1097" r="12.4"/><circle cx="1401.6" cy="932.8" r="12.4"/><circle cx="1090" cy="1261" r="12.4"/><circle cx="1330.2" cy="998.2" r="12.4"/><circle cx="1003.7" cy="1318.8" r="12.4"/><circle cx="1322.6" cy="1000.9" r="12.4"/><circle cx="1319.2" cy="995.4" r="12.4"/><circle cx="1400.2" cy="923.8" r="12.4"/><circle cx="1187.7" cy="1133.2" r="12.4"/><circle cx="1411" cy="944.7" r="12.4"/><circle cx="1090.7" cy="1260" r="12.4"/><circle cx="1070.2" cy="1278.9" r="12.4"/><circle cx="1400.7" cy="959.4" r="12.4"/><circle cx="973.1" cy="1337.8" r="12.4"/><circle cx="1136.1" cy="1200" r="12.4"/><circle cx="1242.8" cy="1078.1" r="12.4"/><circle cx="1425.6" cy="933.7" r="12.4"/><circle cx="1297.4" cy="1029.6" r="12.4"/><circle cx="1222.2" cy="1118.4" r="12.4"/><circle cx="1078" cy="1259.3" r="12.4"/><circle cx="972.7" cy="1333.2" r="12.4"/><circle cx="1099.2" cy="1219.9" r="12.4"/><circle cx="1306.5" cy="1014.4" r="12.4"/><circle cx="1314.3" cy="1014.9" r="12.4"/><circle cx="1319.5" cy="997.5" r="12.4"/><circle cx="1197.4" cy="1148.4" r="12.4"/><circle cx="1295.5" cy="1049.6" r="12.4"/><circle cx="1379.3" cy="975.2" r="12.4"/><circle cx="1375.4" cy="950" r="12.4"/><circle cx="1221.8" cy="1105.6" r="12.4"/><circle cx="1002.6" cy="1309.7" r="12.4"/><circle cx="972.8" cy="1363.3" r="12.4"/><circle cx="1126.4" cy="1198.1" r="12.4"/><circle cx="1030.6" cy="1298.9" r="12.4"/><circle cx="956.9" cy="1348.3" r="12.4"/><circle cx="933.9" cy="1375.8" r="12.4"/><circle cx="913.3" cy="1404.8" r="12.4"/><circle cx="1083.8" cy="1241.3" r="12.4"/><circle cx="1054.3" cy="1280.8" r="12.4"/><circle cx="1014" cy="1325.9" r="12.4"/><circle cx="957.4" cy="1368.3" r="12.4"/><circle cx="1180.1" cy="1160.7" r="12.4"/><circle cx="1263.5" cy="1047.5" r="12.4"/><circle cx="1360.3" cy="1001.7" r="12.4"/><circle cx="1218.1" cy="1094.1" r="12.4"/><circle cx="1263.5" cy="1090.6" r="12.4"/><circle cx="958" cy="1373.3" r="12.4"/><circle cx="1426.5" cy="911.3" r="12.4"/><circle cx="1030.1" cy="1293.4" r="12.4"/><circle cx="1121.2" cy="1228.8" r="12.4"/><circle cx="960.8" cy="1371.6" r="12.4"/><circle cx="969.9" cy="1351.9" r="12.4"/><circle cx="1116.7" cy="1233.2" r="12.4"/><circle cx="1337.8" cy="998.4" r="12.4"/><circle cx="1404.1" cy="957.9" r="12.4"/><circle cx="1365.7" cy="964" r="12.4"/><circle cx="1302" cy="1029.1" r="12.4"/><circle cx="924.6" cy="1404.5" r="12.4"/><circle cx="1027" cy="1282.1" r="12.4"/><circle cx="1218.6" cy="1110.1" r="12.4"/><circle cx="1314.5" cy="1012" r="12.4"/><circle cx="951.2" cy="1354.3" r="12.4"/><circle cx="1090.8" cy="1213.1" r="12.4"/><circle cx="1085.7" cy="1233.9" r="12.4"/><circle cx="1153.6" cy="1181.5" r="12.4"/><circle cx="930.7" cy="1392.7" r="12.4"/><circle cx="1206.1" cy="1146.9" r="12.4"/><circle cx="1080.2" cy="1260.3" r="12.4"/><circle cx="1209.5" cy="1127.6" r="12.4"/><circle cx="1055.7" cy="1251.5" r="12.4"/><circle cx="1007.4" cy="1307.1" r="12.4"/><circle cx="1177.1" cy="1141.4" r="12.4"/><circle cx="1124" cy="1194.9" r="12.4"/><circle cx="1006.2" cy="1300.7" r="12.4"/><circle cx="960.2" cy="1368.2" r="12.4"/><circle cx="1240.3" cy="1070.8" r="12.4"/><circle cx="1296.1" cy="1025.6" r="12.4"/><circle cx="1093.3" cy="1215.5" r="12.4"/><circle cx="991.1" cy="1344.2" r="12.4"/><circle cx="973.1" cy="1355.8" r="12.4"/><circle cx="921.6" cy="1395.9" r="12.4"/><circle cx="1437.1" cy="913.9" r="12.4"/><circle cx="1055.9" cy="1250.4" r="12.4"/><circle cx="1223.9" cy="1114.3" r="12.4"/><circle cx="972.5" cy="1341.1" r="12.4"/><circle cx="1370" cy="956.8" r="12.4"/><circle cx="954" cy="1376.7" r="12.4"/><circle cx="1348.5" cy="983.9" r="12.4"/><circle cx="1258" cy="1067.9" r="12.4"/><circle cx="1292" cy="1038.4" r="12.4"/><circle cx="1083.7" cy="1240.9" r="12.4"/><circle cx="1353.1" cy="991" r="12.4"/><circle cx="1143.6" cy="1198.7" r="12.4"/><circle cx="1254.4" cy="1097.6" r="12.4"/><circle cx="1369.4" cy="982.1" r="12.4"/><circle cx="1137.2" cy="1205.8" r="12.4"/><circle cx="1028.3" cy="1313.1" r="12.4"/><circle cx="1111.2" cy="1236.3" r="12.4"/><circle cx="1147.8" cy="1203.2" r="12.4"/><circle cx="1314.9" cy="1043" r="12.4"/><circle cx="1383.9" cy="944.2" r="12.4"/><circle cx="1270.1" cy="1065.7" r="12.4"/><circle cx="1329.3" cy="1005.9" r="12.4"/><circle cx="1239.4" cy="1106.4" r="12.4"/><circle cx="1009" cy="1321.4" r="12.4"/><circle cx="958.2" cy="1377.7" r="12.4"/><circle cx="1159.5" cy="1190.9" r="12.4"/><circle cx="1062.9" cy="1283.8" r="12.4"/><circle cx="940.5" cy="1375.7" r="12.4"/><circle cx="1220.6" cy="1132.8" r="12.4"/><circle cx="1057" cy="1285.7" r="12.4"/><circle cx="1431.2" cy="910.6" r="12.4"/><circle cx="1085.4" cy="1233.4" r="12.4"/><circle cx="1150.4" cy="1187" r="12.4"/><circle cx="1093.7" cy="1236.8" r="12.4"/><circle cx="1002.8" cy="1335.9" r="12.4"/><circle cx="1071" cy="1240.8" r="12.4"/><circle cx="1086.3" cy="1262.5" r="12.4"/><circle cx="922.2" cy="1395.6" r="12.4"/><circle cx="1034.2" cy="1282.1" r="12.4"/><circle cx="1294.5" cy="1021.6" r="12.4"/><circle cx="921.8" cy="1387.3" r="12.4"/><circle cx="1106.9" cy="1205" r="12.4"/><circle cx="1112.3" cy="1207.4" r="12.4"/><circle cx="947.7" cy="1377.4" r="12.4"/><circle cx="1432.2" cy="909.5" r="12.4"/><circle cx="1166.8" cy="1179" r="12.4"/><circle cx="1410.5" cy="920.9" r="12.4"/><circle cx="1006.2" cy="1324.1" r="12.4"/><circle cx="1078.8" cy="1226.9" r="12.4"/><circle cx="1247.7" cy="1098.6" r="12.4"/><circle cx="1427.8" cy="909" r="12.4"/><circle cx="962.3" cy="1372.7" r="12.4"/><circle cx="1149" cy="1162.8" r="12.4"/><circle cx="1273.7" cy="1085.5" r="12.4"/><circle cx="1087.5" cy="1239.3" r="12.4"/><circle cx="994" cy="1313.1" r="12.4"/><circle cx="940.9" cy="1365.7" r="12.4"/><circle cx="1423.2" cy="927.1" r="12.4"/><circle cx="1255.8" cy="1066.7" r="12.4"/><circle cx="1096.1" cy="1237.4" r="12.4"/><circle cx="997.1" cy="1311" r="12.4"/><circle cx="922.5" cy="1404.9" r="12.4"/><circle cx="1299.7" cy="1020.9" r="12.4"/><circle cx="1080.5" cy="1267.9" r="12.4"/><circle cx="1182.8" cy="1164.8" r="12.4"/><circle cx="924.7" cy="1383.2" r="12.4"/><circle cx="1340.3" cy="1006.9" r="12.4"/><circle cx="1306.3" cy="1039.2" r="12.4"/><circle cx="1272.1" cy="1076.2" r="12.4"/><circle cx="1115.3" cy="1216.4" r="12.4"/><circle cx="1398.9" cy="925" r="12.4"/><circle cx="1241.1" cy="1110.6" r="12.4"/><circle cx="1250.2" cy="1062.3" r="12.4"/><circle cx="1173.6" cy="1176.3" r="12.4"/><circle cx="1238" cy="1107.7" r="12.4"/><circle cx="1120.3" cy="1204.3" r="12.4"/><circle cx="1162.3" cy="1172.1" r="12.4"/><circle cx="1089.9" cy="1251.9" r="12.4"/><circle cx="1287.3" cy="1030" r="12.4"/><circle cx="978.7" cy="1357.1" r="12.4"/><circle cx="1316.1" cy="1023.6" r="12.4"/><circle cx="1280.7" cy="1065.8" r="12.4"/><circle cx="1017.7" cy="1294.3" r="12.4"/><circle cx="921.3" cy="1393" r="12.4"/><circle cx="1004.3" cy="1305" r="12.4"/><circle cx="1327.2" cy="1016.8" r="12.4"/><circle cx="1002.1" cy="1328.6" r="12.4"/><circle cx="1161.6" cy="1157.4" r="12.4"/><circle cx="1172.7" cy="1153.2" r="12.4"/><circle cx="1333.4" cy="1017.8" r="12.4"/><circle cx="990.1" cy="1343.8" r="12.4"/><circle cx="1347.1" cy="1008.3" r="12.4"/><circle cx="1394.4" cy="967.6" r="12.4"/><circle cx="1269.6" cy="1041.5" r="12.4"/><circle cx="919" cy="1394.2" r="12.4"/><circle cx="1365.4" cy="956.4" r="12.4"/><circle cx="1049.7" cy="1265.1" r="12.4"/><circle cx="1195.9" cy="1157.1" r="12.4"/><circle cx="1421.5" cy="930.2" r="12.4"/><circle cx="1423" cy="911.7" r="12.4"/><circle cx="1000.8" cy="1310.8" r="12.4"/><circle cx="970.3" cy="1358.6" r="12.4"/><circle cx="1122.3" cy="1213.2" r="12.4"/><circle cx="1165.3" cy="1156.1" r="12.4"/><circle cx="1098" cy="1234.5" r="12.4"/><circle cx="1169.1" cy="1176.5" r="12.4"/><circle cx="1333.8" cy="1009.1" r="12.4"/><circle cx="1027.1" cy="1280.3" r="12.4"/><circle cx="1278.6" cy="1037" r="12.4"/><circle cx="1347.3" cy="1002.2" r="12.4"/><circle cx="1067.2" cy="1275.4" r="12.4"/><circle cx="1090.2" cy="1260.4" r="12.4"/><circle cx="1280.7" cy="1042.3" r="12.4"/><circle cx="1219.6" cy="1121.7" r="12.4"/><circle cx="1239.4" cy="1102.4" r="12.4"/><circle cx="1180.9" cy="1169.3" r="12.4"/><circle cx="946.8" cy="1387.2" r="12.4"/><circle cx="1423.4" cy="912.6" r="12.4"/><circle cx="1255.8" cy="1080.4" r="12.4"/><circle cx="1419.3" cy="910.8" r="12.4"/><circle cx="1188.9" cy="1158" r="12.4"/><circle cx="1335.9" cy="978.9" r="12.4"/><circle cx="1380.2" cy="971" r="12.4"/><circle cx="1164.4" cy="1183.2" r="12.4"/><circle cx="1164.7" cy="1165.3" r="12.4"/><circle cx="943" cy="1362.9" r="12.4"/><circle cx="1433.6" cy="909.5" r="12.4"/><circle cx="1200.4" cy="1132.4" r="12.4"/><circle cx="1291.6" cy="1052.7" r="12.4"/><circle cx="1036" cy="1275.6" r="12.4"/><circle cx="1082.4" cy="1255.9" r="12.4"/><circle cx="1076.7" cy="1250.2" r="12.4"/><circle cx="1264.6" cy="1067.4" r="12.4"/><circle cx="1203" cy="1124.7" r="12.4"/><circle cx="1004.5" cy="1318.1" r="12.4"/><circle cx="1031.4" cy="1288.7" r="12.4"/><circle cx="1090.5" cy="1250.3" r="12.4"/><circle cx="1052.6" cy="1265.3" r="12.4"/><circle cx="1405.4" cy="942.6" r="12.4"/><circle cx="1072.6" cy="1259.2" r="12.4"/><circle cx="986.1" cy="1331.3" r="12.4"/><circle cx="970.2" cy="1335.4" r="12.4"/><circle cx="1075.6" cy="1266.8" r="12.4"/><circle cx="1376.1" cy="956.9" r="12.4"/><circle cx="1217.1" cy="1132.4" r="12.4"/><circle cx="1049.5" cy="1283.9" r="12.4"/><circle cx="1016.7" cy="1310.4" r="12.4"/><circle cx="950" cy="1358.2" r="12.4"/><circle cx="1430.9" cy="923" r="12.4"/><circle cx="1318.6" cy="994.8" r="12.4"/><circle cx="1185" cy="1164.6" r="12.4"/><circle cx="1005.2" cy="1309.8" r="12.4"/><circle cx="1319.4" cy="998.8" r="12.4"/><circle cx="1189.4" cy="1159.5" r="12.4"/><circle cx="1214.7" cy="1125.4" r="12.4"/><circle cx="1108.8" cy="1236.6" r="12.4"/><circle cx="1184.5" cy="1166.1" r="12.4"/><circle cx="1229.8" cy="1100.8" r="12.4"/><circle cx="1145.9" cy="1169.8" r="12.4"/><circle cx="1189.3" cy="1125.4" r="12.4"/><circle cx="918.5" cy="1406.5" r="12.4"/><circle cx="1421.9" cy="938.4" r="12.4"/><circle cx="1104.8" cy="1198.5" r="12.4"/><circle cx="1410.5" cy="952" r="12.4"/><circle cx="993.4" cy="1317" r="12.4"/><circle cx="1352.1" cy="979.9" r="12.4"/><circle cx="1177.8" cy="1137.9" r="12.4"/><circle cx="992.1" cy="1339.1" r="12.4"/><circle cx="1363.2" cy="956.3" r="12.4"/><circle cx="1164.6" cy="1187.7" r="12.4"/><circle cx="1062.9" cy="1251.9" r="12.4"/><circle cx="1234.5" cy="1078" r="12.4"/><circle cx="1242.3" cy="1088.5" r="12.4"/><circle cx="1224.8" cy="1129.7" r="12.4"/><circle cx="1199" cy="1145.3" r="12.4"/><circle cx="1020.9" cy="1317.9" r="12.4"/><circle cx="1091.6" cy="1257.9" r="12.4"/><circle cx="1148" cy="1162.9" r="12.4"/><circle cx="1348.4" cy="1003.7" r="12.4"/><circle cx="1273" cy="1038.3" r="12.4"/><circle cx="1009.2" cy="1298" r="12.4"/><circle cx="1019.2" cy="1307.7" r="12.4"/><circle cx="1369.5" cy="984.8" r="12.4"/><circle cx="1036.4" cy="1304" r="12.4"/><circle cx="1235.6" cy="1086.4" r="12.4"/><circle cx="1039.4" cy="1302.2" r="12.4"/><circle cx="1370.6" cy="980.7" r="12.4"/><circle cx="1237.1" cy="1118.9" r="12.4"/><circle cx="1166.9" cy="1178.4" r="12.4"/><circle cx="1188" cy="1161.8" r="12.4"/><circle cx="1338.9" cy="1020.6" r="12.4"/><circle cx="1393.9" cy="965" r="12.4"/><circle cx="1073.9" cy="1262" r="12.4"/><circle cx="1293.3" cy="1061.3" r="12.4"/><circle cx="1279.3" cy="1032.3" r="12.4"/><circle cx="1293.9" cy="1031.5" r="12.4"/><circle cx="1130.7" cy="1190.4" r="12.4"/><circle cx="1432.7" cy="918.8" r="12.4"/><circle cx="953.8" cy="1363.5" r="12.4"/><circle cx="1312.6" cy="1026.8" r="12.4"/><circle cx="1134.2" cy="1215.1" r="12.4"/><circle cx="1140.9" cy="1176.8" r="12.4"/><circle cx="1430.4" cy="915.7" r="12.4"/><circle cx="1414.7" cy="922" r="12.4"/><circle cx="913.3" cy="1410.9" r="12.4"/><circle cx="1054.4" cy="1254.9" r="12.4"/><circle cx="998.2" cy="1312.4" r="12.4"/><circle cx="1267" cy="1072.5" r="12.4"/><circle cx="1010.1" cy="1318.8" r="12.4"/><circle cx="1345.3" cy="983.6" r="12.4"/><circle cx="912" cy="1397.9" r="12.4"/><circle cx="1259.7" cy="1055.3" r="12.4"/><circle cx="1324.4" cy="1017.7" r="12.4"/><circle cx="1144.3" cy="1163.5" r="12.4"/><circle cx="1230.4" cy="1124.8" r="12.4"/><circle cx="1239.1" cy="1078.8" r="12.4"/><circle cx="1276.2" cy="1072.8" r="12.4"/><circle cx="1204.1" cy="1110.4" r="12.4"/><circle cx="1228.9" cy="1098.7" r="12.4"/><circle cx="1113.7" cy="1190.3" r="12.4"/><circle cx="1370.9" cy="950.1" r="12.4"/><circle cx="937.4" cy="1371.8" r="12.4"/><circle cx="1312.9" cy="1012.3" r="12.4"/><circle cx="1183.3" cy="1145.2" r="12.4"/><circle cx="1343.6" cy="1004.6" r="12.4"/><circle cx="1161.4" cy="1184.4" r="12.4"/><circle cx="1316.6" cy="1010.2" r="12.4"/><circle cx="1108" cy="1212.7" r="12.4"/><circle cx="1281.9" cy="1071.2" r="12.4"/><circle cx="1349" cy="983.3" r="12.4"/><circle cx="1419.7" cy="910.2" r="12.4"/><circle cx="1256.7" cy="1086.3" r="12.4"/><circle cx="1076.8" cy="1271.6" r="12.4"/><circle cx="1356" cy="968.3" r="12.4"/><circle cx="1147.7" cy="1203.6" r="12.4"/><circle cx="1422" cy="932.8" r="12.4"/><circle cx="1187.4" cy="1154.2" r="12.4"/><circle cx="1409.3" cy="949.3" r="12.4"/><circle cx="1081" cy="1264.5" r="12.4"/><circle cx="1260.6" cy="1059.7" r="12.4"/><circle cx="988.8" cy="1348.7" r="12.4"/><circle cx="1346" cy="975.7" r="12.4"/><circle cx="1423.4" cy="910.9" r="12.4"/><circle cx="1137.5" cy="1178.5" r="12.4"/><circle cx="945" cy="1361.1" r="12.4"/><circle cx="1124.2" cy="1222.8" r="12.4"/><circle cx="1352.3" cy="1008.4" r="12.4"/><circle cx="1278.1" cy="1036.4" r="12.4"/><circle cx="1077" cy="1239.3" r="12.4"/><circle cx="926.7" cy="1390.4" r="12.4"/><circle cx="1003.6" cy="1311.1" r="12.4"/><circle cx="971.9" cy="1344.2" r="12.4"/><circle cx="1057.1" cy="1257.4" r="12.4"/><circle cx="1243.9" cy="1097.9" r="12.4"/><circle cx="1059.6" cy="1277.1" r="12.4"/><circle cx="1257" cy="1086.8" r="12.4"/><circle cx="1372.8" cy="945.5" r="12.4"/><circle cx="1260.1" cy="1055" r="12.4"/><circle cx="1386.2" cy="975.4" r="12.4"/><circle cx="968.4" cy="1338.7" r="12.4"/><circle cx="985.7" cy="1338" r="12.4"/><circle cx="1098.7" cy="1233.6" r="12.4"/><circle cx="1230.2" cy="1123" r="12.4"/><circle cx="1088.2" cy="1262.9" r="12.4"/><circle cx="1142.1" cy="1185" r="12.4"/><circle cx="1285.5" cy="1052.7" r="12.4"/><circle cx="1259.3" cy="1065.2" r="12.4"/><circle cx="1078.2" cy="1233.2" r="12.4"/><circle cx="1331.9" cy="1003" r="12.4"/><circle cx="1037.7" cy="1290.1" r="12.4"/><circle cx="1382.1" cy="961.3" r="12.4"/><circle cx="1297.2" cy="1051.3" r="12.4"/><circle cx="1186.9" cy="1135" r="12.4"/><circle cx="1313" cy="1004.9" r="12.4"/><circle cx="1079.5" cy="1251.9" r="12.4"/><circle cx="1328.1" cy="1020.2" r="12.4"/><circle cx="1238.7" cy="1105.8" r="12.4"/><circle cx="1315.5" cy="1039.1" r="12.4"/><circle cx="1044" cy="1262.6" r="12.4"/><circle cx="970.5" cy="1347.8" r="12.4"/><circle cx="922.4" cy="1386.3" r="12.4"/><circle cx="1168.2" cy="1153" r="12.4"/><circle cx="942.7" cy="1386.4" r="12.4"/><circle cx="1390.9" cy="932" r="12.4"/><circle cx="918.4" cy="1393.1" r="12.4"/><circle cx="1347.1" cy="1006.5" r="12.4"/><circle cx="1011.6" cy="1325.9" r="12.4"/><circle cx="1371" cy="954.5" r="12.4"/><circle cx="1060.3" cy="1268.2" r="12.4"/><circle cx="942.4" cy="1373.3" r="12.4"/><circle cx="1371.2" cy="986.9" r="12.4"/><circle cx="968.1" cy="1352.7" r="12.4"/><circle cx="1395.1" cy="963.6" r="12.4"/><circle cx="1010.4" cy="1318.8" r="12.4"/><circle cx="920.4" cy="1396.1" r="12.4"/><circle cx="1097" cy="1207.2" r="12.4"/><circle cx="1314.7" cy="1013.2" r="12.4"/><circle cx="1082.7" cy="1248.4" r="12.4"/><circle cx="1424.7" cy="935" r="12.4"/><circle cx="1004.3" cy="1320.6" r="12.4"/><circle cx="1081.4" cy="1228.8" r="12.4"/><circle cx="1159.2" cy="1174.7" r="12.4"/><circle cx="1082.6" cy="1247.8" r="12.4"/><circle cx="1327.3" cy="1010.1" r="12.4"/><circle cx="979.3" cy="1326.8" r="12.4"/><circle cx="1127.6" cy="1213" r="12.4"/><circle cx="1431.4" cy="915.9" r="12.4"/><circle cx="1145.5" cy="1181.6" r="12.4"/><circle cx="1019" cy="1320.5" r="12.4"/><circle cx="1220.7" cy="1130.1" r="12.4"/><circle cx="1075.3" cy="1269.7" r="12.4"/><circle cx="1255.9" cy="1057.8" r="12.4"/><circle cx="1291.9" cy="1045.6" r="12.4"/><circle cx="1254.5" cy="1090.4" r="12.4"/><circle cx="1438" cy="909.5" r="12.4"/><circle cx="1239.2" cy="1101.6" r="12.4"/><circle cx="1292.6" cy="1034.5" r="12.4"/><circle cx="1086" cy="1262.8" r="12.4"/><circle cx="1330.3" cy="994.3" r="12.4"/><circle cx="1333.8" cy="1025.7" r="12.4"/><circle cx="1430.3" cy="912.9" r="12.4"/><circle cx="1323.1" cy="991" r="12.4"/><circle cx="1091.8" cy="1249" r="12.4"/><circle cx="1242.2" cy="1112.2" r="12.4"/><circle cx="1114.9" cy="1194.2" r="12.4"/><circle cx="1253.2" cy="1062" r="12.4"/><circle cx="1246.6" cy="1068.1" r="12.4"/><circle cx="1256.1" cy="1099" r="12.4"/><circle cx="927" cy="1398.2" r="12.4"/><circle cx="1098.4" cy="1205.5" r="12.4"/><circle cx="1363.1" cy="970.9" r="12.4"/><circle cx="1066.1" cy="1259.8" r="12.4"/><circle cx="1079.4" cy="1266.5" r="12.4"/><circle cx="1421" cy="912.3" r="12.4"/><circle cx="1377.2" cy="945.9" r="12.4"/><circle cx="1158" cy="1188.5" r="12.4"/><circle cx="1420.5" cy="939.8" r="12.4"/><circle cx="969.5" cy="1366" r="12.4"/><circle cx="1397.4" cy="932.5" r="12.4"/><circle cx="1156.2" cy="1196.5" r="12.4"/><circle cx="979.3" cy="1357.7" r="12.4"/><circle cx="1263.1" cy="1048.6" r="12.4"/><circle cx="967.5" cy="1362.1" r="12.4"/><circle cx="1321.2" cy="1021.4" r="12.4"/><circle cx="1211.6" cy="1104.4" r="12.4"/><circle cx="1006.1" cy="1331" r="12.4"/><circle cx="1165.3" cy="1180.5" r="12.4"/><circle cx="926.3" cy="1381.5" r="12.4"/><circle cx="1288.4" cy="1069.3" r="12.4"/><circle cx="1374.2" cy="983.6" r="12.4"/><circle cx="1206.6" cy="1124.1" r="12.4"/><circle cx="1129.8" cy="1177.9" r="12.4"/><circle cx="1237.2" cy="1076.7" r="12.4"/><circle cx="1078.7" cy="1270.1" r="12.4"/><circle cx="1173.5" cy="1142.7" r="12.4"/><circle cx="1175" cy="1139.1" r="12.4"/><circle cx="1118.1" cy="1232.8" r="12.4"/><circle cx="1268.4" cy="1069.8" r="12.4"/><circle cx="937" cy="1387.6" r="12.4"/><circle cx="1277.4" cy="1034.8" r="12.4"/><circle cx="1062.4" cy="1257.4" r="12.4"/><circle cx="1262.1" cy="1079.6" r="12.4"/><circle cx="1151.4" cy="1187.4" r="12.4"/><circle cx="1384.6" cy="942" r="12.4"/><circle cx="1130.4" cy="1183" r="12.4"/><circle cx="1038.2" cy="1282.4" r="12.4"/><circle cx="1142.3" cy="1180.7" r="12.4"/><circle cx="1012.7" cy="1298.5" r="12.4"/><circle cx="984.7" cy="1324.8" r="12.4"/><circle cx="1224.3" cy="1098.8" r="12.4"/><circle cx="1174.1" cy="1173.3" r="12.4"/><circle cx="976.1" cy="1360.8" r="12.4"/><circle cx="965.3" cy="1357.9" r="12.4"/><circle cx="1296.9" cy="1048.9" r="12.4"/><circle cx="962.7" cy="1365.9" r="12.4"/><circle cx="948.3" cy="1379.5" r="12.4"/><circle cx="1133.2" cy="1177.2" r="12.4"/><circle cx="1055.7" cy="1285.7" r="12.4"/><circle cx="1398.8" cy="935" r="12.4"/><circle cx="1028.6" cy="1279.3" r="12.4"/><circle cx="1178.7" cy="1162.5" r="12.4"/><circle cx="1107.6" cy="1213.5" r="12.4"/><circle cx="1294.9" cy="1048.7" r="12.4"/><circle cx="1410.3" cy="934.7" r="12.4"/><circle cx="1170" cy="1178.4" r="12.4"/><circle cx="1217.4" cy="1095.4" r="12.4"/><circle cx="1343.7" cy="1002.1" r="12.4"/><circle cx="954.1" cy="1370.6" r="12.4"/><circle cx="1433.8" cy="921.1" r="12.4"/><circle cx="930.2" cy="1400.9" r="12.4"/><circle cx="920.8" cy="1406" r="12.4"/><circle cx="923.3" cy="1405.2" r="12.4"/><circle cx="924" cy="1410" r="12.4"/><circle cx="925.7" cy="1406.6" r="12.4"/><circle cx="913.3" cy="1404.6" r="12.4"/><circle cx="920.2" cy="1404.1" r="12.4"/><circle cx="918" cy="1401.7" r="12.4"/><circle cx="912.3" cy="1404.2" r="12.4"/><circle cx="916.6" cy="1407.5" r="12.4"/><circle cx="926" cy="1403.4" r="12.4"/><circle cx="920.5" cy="1403.6" r="12.4"/><circle cx="916.3" cy="1405.5" r="12.4"/><circle cx="914.6" cy="1407.1" r="12.4"/><circle cx="915.1" cy="1402.3" r="12.4"/><circle cx="922.7" cy="1411.3" r="12.4"/><circle cx="1160.1" cy="1115.1" r="12.4"/><circle cx="1177.7" cy="1124.7" r="12.4"/><circle cx="1140.4" cy="1123.5" r="12.4"/><circle cx="1164.1" cy="1108.7" r="12.4"/><circle cx="1165.3" cy="1084.8" r="12.4"/><circle cx="1185.6" cy="1113.1" r="12.4"/><circle cx="1146.8" cy="1095.6" r="12.4"/><circle cx="1167.4" cy="1102.3" r="12.4"/><circle cx="1130.1" cy="1146.6" r="12.4"/><circle cx="1138.2" cy="1149.9" r="12.4"/><circle cx="1134.6" cy="1147.5" r="12.4"/><circle cx="1123.9" cy="1147.2" r="12.4"/><circle cx="1136.1" cy="1143.8" r="12.4"/><circle cx="1078" cy="1173.8" r="12.4"/><circle cx="1069.2" cy="1200.7" r="12.4"/><circle cx="1093.8" cy="1198.4" r="12.4"/><circle cx="1079.6" cy="1215.7" r="12.4"/><circle cx="1068.5" cy="1218.6" r="12.4"/><circle cx="1058.3" cy="1228.5" r="12.4"/><circle cx="1057.5" cy="1221.5" r="12.4"/><circle cx="1250.1" cy="1069" r="12.4"/><circle cx="1221.6" cy="1052.2" r="12.4"/><circle cx="1244.8" cy="1058.9" r="12.4"/><circle cx="1210.5" cy="1075.5" r="12.4"/><circle cx="1217" cy="1048.3" r="12.4"/><circle cx="1227.7" cy="1049.5" r="12.4"/><circle cx="1245.9" cy="1042.1" r="12.4"/><circle cx="1215.1" cy="1049.6" r="12.4"/><circle cx="1228.3" cy="1056" r="12.4"/><circle cx="1227" cy="1071.6" r="12.4"/><circle cx="1223.7" cy="1064.6" r="12.4"/><circle cx="1241.1" cy="1064.8" r="12.4"/><circle cx="1115.9" cy="1176.4" r="12.4"/><circle cx="1115.6" cy="1167.8" r="12.4"/><circle cx="1108.1" cy="1175.5" r="12.4"/><circle cx="1229.1" cy="1160.1" r="12.4"/><circle cx="1234.1" cy="1149.4" r="12.4"/><circle cx="1232.5" cy="1183.9" r="12.4"/><circle cx="1213" cy="1181.2" r="12.4"/><circle cx="1197.6" cy="1180.5" r="12.4"/><circle cx="1203.1" cy="1210.1" r="12.4"/><circle cx="1193.2" cy="1225.9" r="12.4"/><circle cx="1172.1" cy="1229.5" r="12.4"/><circle cx="1160.4" cy="1222" r="12.4"/><circle cx="1167.2" cy="1202.3" r="12.4"/><circle cx="1173.3" cy="1197.2" r="12.4"/><circle cx="1190.4" cy="1197.3" r="12.4"/><circle cx="1181.3" cy="1201.4" r="12.4"/><circle cx="1147" cy="1263.1" r="12.4"/><circle cx="1131.1" cy="1252.2" r="12.4"/><circle cx="1130.2" cy="1241.6" r="12.4"/><circle cx="1126" cy="1246.4" r="12.4"/><circle cx="1226.1" cy="1061.4" r="12.4"/><circle cx="1220.7" cy="1047.2" r="12.4"/><circle cx="1215.9" cy="1030.5" r="12.4"/><circle cx="1217.4" cy="1032" r="12.4"/><circle cx="1224.8" cy="1072.7" r="12.4"/><circle cx="1208.3" cy="1043.1" r="12.4"/><circle cx="1221.7" cy="1042" r="12.4"/><circle cx="1227.1" cy="1052.4" r="12.4"/><circle cx="1225.7" cy="1042.3" r="12.4"/><circle cx="1269.2" cy="1016.4" r="12.4"/><circle cx="1241.7" cy="1028.2" r="12.4"/><circle cx="1268.8" cy="1008.6" r="12.4"/><circle cx="1276.1" cy="1022.7" r="12.4"/><circle cx="1244.3" cy="1035.7" r="12.4"/><circle cx="1236.5" cy="1021.2" r="12.4"/><circle cx="1289.3" cy="1011.1" r="12.4"/><circle cx="1284.8" cy="1002.3" r="12.4"/><circle cx="1283.7" cy="1004.2" r="12.4"/><circle cx="1302.7" cy="967.5" r="12.4"/><circle cx="1303.7" cy="962.5" r="12.4"/><circle cx="1302.8" cy="965.3" r="12.4"/><circle cx="1321.3" cy="958.1" r="12.4"/><circle cx="1337.6" cy="959.4" r="12.4"/><circle cx="1327.7" cy="940.8" r="12.4"/><circle cx="1330.3" cy="950.8" r="12.4"/><circle cx="1332.9" cy="941" r="12.4"/><circle cx="1331.1" cy="950.9" r="12.4"/><circle cx="1335.3" cy="950.9" r="12.4"/><circle cx="1322.7" cy="950.4" r="12.4"/><circle cx="1374.6" cy="920.9" r="12.4"/><circle cx="1375" cy="926.4" r="12.4"/><circle cx="1395" cy="911.7" r="12.4"/><circle cx="1395.4" cy="906" r="12.4"/><circle cx="1416.2" cy="891" r="12.4"/><circle cx="1413.2" cy="896.1" r="12.4"/><circle cx="1400" cy="1005.1" r="12.4"/><circle cx="1385.7" cy="998.2" r="12.4"/><circle cx="1402.1" cy="1003" r="12.4"/><circle cx="1393.8" cy="1013.3" r="12.4"/><circle cx="1384.4" cy="999.3" r="12.4"/><circle cx="1405.5" cy="987.2" r="12.4"/><circle cx="1391.5" cy="992.3" r="12.4"/><circle cx="1401.8" cy="999" r="12.4"/><circle cx="1390.7" cy="1005.1" r="12.4"/><circle cx="1364.9" cy="1017.1" r="12.4"/><circle cx="1423.6" cy="969.4" r="12.4"/><circle cx="1407.9" cy="972.3" r="12.4"/><circle cx="1397.9" cy="973.3" r="12.4"/><circle cx="1409" cy="1001.3" r="12.4"/><circle cx="1431.7" cy="969.7" r="12.4"/><circle cx="1417.5" cy="973.3" r="12.4"/><circle cx="1441" cy="965.4" r="12.4"/><circle cx="1409.5" cy="964.9" r="12.4"/><circle cx="1436.2" cy="952.6" r="12.4"/><circle cx="1441.4" cy="945" r="12.4"/><circle cx="1439" cy="941.4" r="12.4"/><circle cx="1449" cy="925.5" r="12.4"/><circle cx="1430.4" cy="932.2" r="12.4"/><circle cx="1437.4" cy="940.2" r="12.4"/><circle cx="1343.7" cy="1056" r="12.4"/><circle cx="1344.2" cy="1055.2" r="12.4"/><circle cx="1336.2" cy="1074.8" r="12.4"/><circle cx="1347.9" cy="1080.5" r="12.4"/><circle cx="1356.4" cy="1069.9" r="12.4"/><circle cx="1356.3" cy="1059.5" r="12.4"/><circle cx="1367.3" cy="1061.2" r="12.4"/><circle cx="1360.7" cy="1041.5" r="12.4"/><circle cx="1360" cy="1034.7" r="12.4"/><circle cx="1272.4" cy="1139.9" r="12.4"/><circle cx="1283.1" cy="1110.5" r="12.4"/><circle cx="1283" cy="1108.2" r="12.4"/><circle cx="1258.1" cy="1124.2" r="12.4"/><circle cx="1263.5" cy="1116.1" r="12.4"/><circle cx="1018.2" cy="1278.8" r="12.4"/><circle cx="1018.8" cy="1274.5" r="12.4"/><circle cx="1008" cy="1291.7" r="12.4"/><circle cx="985.8" cy="1317.3" r="12.4"/><circle cx="992.4" cy="1313.6" r="12.4"/><circle cx="1034.5" cy="1326.4" r="12.4"/><circle cx="1041.6" cy="1311.7" r="12.4"/><circle cx="1034.5" cy="1321.5" r="12.4"/><circle cx="998" cy="1345.1" r="12.4"/><circle cx="1006.1" cy="1345.5" r="12.4"/><circle cx="1331.7" cy="1035.5" r="12.4"/><circle cx="1426.7" cy="896.4" r="12.4"/><circle cx="1088.5" cy="1209.9" r="12.4"/><circle cx="1252.8" cy="1115.4" r="12.4"/><circle cx="1388.9" cy="976.9" r="12.4"/><circle cx="1395.4" cy="975.1" r="12.4"/><circle cx="1344.3" cy="1018.5" r="12.4"/><circle cx="1257.4" cy="1022.9" r="12.4"/><circle cx="1340.3" cy="954.7" r="12.4"/><circle cx="1171.2" cy="1138.8" r="12.4"/><circle cx="1026.9" cy="1274.1" r="12.4"/><circle cx="1214.3" cy="1092.4" r="12.4"/><circle cx="1011.6" cy="1330.5" r="12.4"/><circle cx="1195.7" cy="1100.7" r="12.4"/><circle cx="1104.9" cy="1192.2" r="12.4"/><circle cx="1105.9" cy="1190" r="12.4"/><circle cx="1261.1" cy="1010" r="12.4"/><circle cx="1421.1" cy="986.3" r="12.4"/><circle cx="1404" cy="1003.2" r="12.4"/><circle cx="1133.5" cy="1151.8" r="12.4"/><circle cx="1429.6" cy="902.1" r="12.4"/><circle cx="1196.9" cy="1163.3" r="12.4"/><circle cx="1348.4" cy="1017.7" r="12.4"/><circle cx="1358.6" cy="953.5" r="12.4"/><circle cx="1198.1" cy="1162.2" r="12.4"/><circle cx="1286.9" cy="1004.2" r="12.4"/><circle cx="1309.5" cy="1049.3" r="12.4"/><circle cx="1006" cy="1300.1" r="12.4"/><circle cx="1298.4" cy="1005.4" r="12.4"/><circle cx="1012.5" cy="1289.4" r="12.4"/><circle cx="1410" cy="879.4" r="12.4"/><circle cx="1385.2" cy="979.7" r="12.4"/><circle cx="1103.9" cy="1196.4" r="12.4"/><circle cx="1002.1" cy="1358.1" r="12.4"/><circle cx="1241.4" cy="1167.3" r="12.4"/><circle cx="1263.7" cy="1024.8" r="12.4"/><circle cx="1370" cy="1017.1" r="12.4"/><circle cx="1079.7" cy="1217.7" r="12.4"/><circle cx="1394.8" cy="976.2" r="12.4"/><circle cx="1389.5" cy="894.4" r="12.4"/><circle cx="1349.8" cy="1023.7" r="12.4"/><circle cx="1306.2" cy="1001" r="12.4"/><circle cx="1133.2" cy="1237.7" r="12.4"/><circle cx="1415.5" cy="893" r="12.4"/><circle cx="1231.4" cy="1030.2" r="12.4"/><circle cx="1364.2" cy="949.1" r="12.4"/><circle cx="1385.8" cy="907.9" r="12.4"/><circle cx="1330.2" cy="1051" r="12.4"/><circle cx="1190.5" cy="1182.5" r="12.4"/><circle cx="1249.4" cy="1056.9" r="12.4"/><circle cx="1133.5" cy="1161.6" r="12.4"/><circle cx="1026" cy="1274.3" r="12.4"/><circle cx="1281.9" cy="1106.9" r="12.4"/><circle cx="1003" cy="1302.5" r="12.4"/><circle cx="1264.1" cy="1109.7" r="12.4"/><circle cx="1033.2" cy="1310.9" r="12.4"/><circle cx="1029.9" cy="1255.9" r="12.4"/><circle cx="1015.5" cy="1276.3" r="12.4"/><circle cx="1292.6" cy="1076.3" r="12.4"/><circle cx="1366.3" cy="1001.7" r="12.4"/><circle cx="1099" cy="1202.7" r="12.4"/><circle cx="1012.1" cy="1280.4" r="12.4"/><circle cx="1203.4" cy="1107.1" r="12.4"/><circle cx="1299.8" cy="1002.9" r="12.4"/><circle cx="1213.4" cy="1186.6" r="12.4"/><circle cx="1157" cy="1221.4" r="12.4"/><circle cx="1053.2" cy="1297.6" r="12.4"/><circle cx="1167.6" cy="1193" r="12.4"/><circle cx="1353.5" cy="945.9" r="12.4"/><circle cx="1275.1" cy="993.7" r="12.4"/><circle cx="997.3" cy="1342.1" r="12.4"/><circle cx="1365.4" cy="1006.5" r="12.4"/><circle cx="1045" cy="1257.4" r="12.4"/><circle cx="1406.7" cy="908" r="12.4"/><circle cx="1127.5" cy="1267.2" r="12.4"/><circle cx="1040.2" cy="1313.5" r="12.4"/><circle cx="1406.7" cy="957.7" r="12.4"/><circle cx="1022.1" cy="1319.6" r="12.4"/><circle cx="1377" cy="939.8" r="12.4"/><circle cx="1325.4" cy="1047" r="12.4"/><circle cx="1145.1" cy="1252" r="12.4"/><circle cx="1171.5" cy="1116" r="12.4"/><circle cx="981.6" cy="1323.9" r="12.4"/><circle cx="1159.2" cy="1128.5" r="12.4"/><circle cx="1426.9" cy="932.5" r="12.4"/><circle cx="1339" cy="1044.5" r="12.4"/><circle cx="1325.4" cy="1045.4" r="12.4"/><circle cx="1170.2" cy="1203" r="12.4"/><circle cx="1110.5" cy="1168.3" r="12.4"/><circle cx="1440.3" cy="958" r="12.4"/><circle cx="1034.9" cy="1315.4" r="12.4"/><circle cx="1175.5" cy="1102.1" r="12.4"/><circle cx="1074.1" cy="1204" r="12.4"/><circle cx="1329.5" cy="1042.3" r="12.4"/><circle cx="1257.8" cy="1042.2" r="12.4"/><circle cx="1192.7" cy="1106.9" r="12.4"/><circle cx="1189" cy="1124.2" r="12.4"/><circle cx="1374.4" cy="990" r="12.4"/><circle cx="1310.3" cy="1062.3" r="12.4"/><circle cx="1025.4" cy="1275.4" r="12.4"/><circle cx="1188.9" cy="1117.7" r="12.4"/><circle cx="1286.8" cy="1010.8" r="12.4"/><circle cx="1300.9" cy="1075.4" r="12.4"/><circle cx="1071.3" cy="1284.5" r="12.4"/><circle cx="989.1" cy="1351.9" r="12.4"/><circle cx="1362" cy="1029.2" r="12.4"/><circle cx="1335.9" cy="1036.9" r="12.4"/><circle cx="1315.9" cy="1061.4" r="12.4"/><circle cx="1415.5" cy="968" r="12.4"/><circle cx="1417.5" cy="907.9" r="12.4"/><circle cx="1314.3" cy="1046" r="12.4"/><circle cx="1400.4" cy="971.8" r="12.4"/><circle cx="1153.4" cy="1212.1" r="12.4"/><circle cx="1395.5" cy="970.3" r="12.4"/><circle cx="1248.8" cy="1057.2" r="12.4"/><circle cx="1251.1" cy="1033.6" r="12.4"/><circle cx="1328.1" cy="1092.1" r="12.4"/><circle cx="1262" cy="1021.1" r="12.4"/><circle cx="1378.5" cy="906.3" r="12.4"/><circle cx="1095.6" cy="1284.6" r="12.4"/><circle cx="1016.8" cy="1326.9" r="12.4"/><circle cx="1427" cy="962" r="12.4"/><circle cx="1276.4" cy="1024.3" r="12.4"/><circle cx="1302.2" cy="1058.9" r="12.4"/><circle cx="1043.6" cy="1260.1" r="12.4"/><circle cx="1400.8" cy="1023.3" r="12.4"/><circle cx="1106.9" cy="1262.4" r="12.4"/><circle cx="1010.5" cy="1334.2" r="12.4"/><circle cx="1320.1" cy="1051.1" r="12.4"/><circle cx="1022" cy="1319.9" r="12.4"/><circle cx="1133.3" cy="1167.7" r="12.4"/><circle cx="1257.8" cy="1113.4" r="12.4"/><circle cx="1348.9" cy="943.5" r="12.4"/><circle cx="1365" cy="997.8" r="12.4"/><circle cx="1167.1" cy="1142.4" r="12.4"/><circle cx="1213.3" cy="1073.4" r="12.4"/><circle cx="1398.7" cy="916.8" r="12.4"/><circle cx="1402.1" cy="991.2" r="12.4"/><circle cx="1454.6" cy="897.8" r="12.4"/><circle cx="1439.6" cy="906.2" r="12.4"/><circle cx="1447.3" cy="895.9" r="12.4"/><circle cx="1447.5" cy="893.7" r="12.4"/><circle cx="1447" cy="899.7" r="12.4"/><circle cx="1444.3" cy="908.8" r="12.4"/><circle cx="1432.1" cy="892" r="12.4"/><circle cx="1459" cy="880.1" r="12.4"/><circle cx="1453.6" cy="896.9" r="12.4"/><circle cx="1426.6" cy="919.6" r="12.4"/><circle cx="1455.7" cy="903" r="12.4"/><circle cx="1448.7" cy="909.8" r="12.4"/><circle cx="1446.9" cy="906.8" r="12.4"/><circle cx="1433.8" cy="925.8" r="12.4"/><circle cx="1429.2" cy="928.6" r="12.4"/><circle cx="1426.9" cy="916.3" r="12.4"/><circle cx="1455" cy="887" r="12.4"/><circle cx="1429.2" cy="923.2" r="12.4"/><circle cx="1445.3" cy="886.7" r="12.4"/><circle cx="1444.3" cy="900.1" r="12.4"/><circle cx="1086.5" cy="1118.2" r="12.4"/><circle cx="1098" cy="1107" r="12.4"/><circle cx="1128.3" cy="1091.1" r="12.4"/><circle cx="1143" cy="1077.9" r="12.4"/><circle cx="1174.1" cy="1071.2" r="12.4"/><circle cx="1206" cy="1030.1" r="12.4"/><circle cx="1202.8" cy="1061.2" r="12.4"/><circle cx="1090.4" cy="1175.9" r="12.4"/><circle cx="1074.1" cy="1198.6" r="12.4"/><circle cx="1125.1" cy="1144.9" r="12.4"/><circle cx="1007.6" cy="1278.3" r="12.4"/><circle cx="1303.6" cy="965.6" r="12.4"/><circle cx="1339.4" cy="933.7" r="12.4"/><circle cx="1242.6" cy="1025.3" r="12.4"/><circle cx="1254.6" cy="1017.4" r="12.4"/><circle cx="1218.7" cy="1055.2" r="12.4"/><circle cx="1224.7" cy="1043.3" r="12.4"/><circle cx="1151" cy="1115" r="12.4"/><circle cx="1170.9" cy="1107" r="12.4"/><circle cx="1161" cy="1115" r="12.4"/><circle cx="1463" cy="875.9" r="12.4"/><circle cx="1461.8" cy="883.9" r="12.4"/><circle cx="1449.8" cy="879.9" r="12.4"/><circle cx="1461.8" cy="983.5" r="12.4"/><circle cx="1432.7" cy="1008.2" r="12.4"/><circle cx="1431.9" cy="1046.5" r="12.4"/><circle cx="1419.1" cy="1045.3" r="12.4"/><circle cx="1423.9" cy="1071.2" r="12.4"/><circle cx="1404" cy="1072" r="12.4"/><circle cx="1382.9" cy="1101.8" r="12.4"/><circle cx="1382.9" cy="1109.8" r="12.4"/><circle cx="1309.6" cy="1130.1" r="12.4"/><circle cx="1280.5" cy="1138.9" r="12.4"/><circle cx="1258.6" cy="1194.7" r="12.4"/><circle cx="1255.8" cy="1174.7" r="12.4"/><circle cx="1234.7" cy="1182.7" r="12.4"/><circle cx="1216.7" cy="1180.7" r="12.4"/><circle cx="1204.8" cy="1212.6" r="12.4"/><circle cx="1196.8" cy="1224.5" r="12.4"/><circle cx="1176.9" cy="1228.5" r="12.4"/><circle cx="1161" cy="1230.5" r="12.4"/><circle cx="1141" cy="1264.4" r="12.4"/><circle cx="1129.1" cy="1258.4" r="12.4"/><circle cx="1117.1" cy="1258.4" r="12.4"/><circle cx="1086.5" cy="1327.3" r="12.4"/><circle cx="1065.3" cy="1322.2" r="12.4"/><circle cx="1087.3" cy="1298.2" r="12.4"/><circle cx="1073.3" cy="1304.2" r="12.4"/><circle cx="1350.2" cy="1083.1" r="12.4"/><circle cx="1358.2" cy="1083.1" r="12.4"/><circle cx="1338.2" cy="1075.1" r="12.4"/><circle cx="1370.1" cy="1063.2" r="12.4"/><circle cx="1374.1" cy="1051.2" r="12.4"/><circle cx="1394" cy="1011.4" r="12.4"/><circle cx="1398" cy="1003.4" r="12.4"/></g>
<text x="1192" y="1509.1" text-anchor="middle" class="lb">Simulated EG value</text>
<text transform="translate(860.7 1139.5) rotate(-90)" text-anchor="middle" class="lb">Predicted EG value</text>
<text x="912.3" y="873.5" class="xx">×</text>
<text x="941.8" y="867" class="tk">10</text>
<text x="984.2" y="847.8" class="sp">5</text>
<text x="1384.6" y="1524.6" class="xx">×</text>
<text x="1413.6" y="1517.3" class="tk">10</text>
<text x="1457.6" y="1499.3" class="sp">5</text></g>
<g><path d="M101.1 1617V2148.8H663.7" fill="none" stroke="#262626" stroke-width="2"/>
<text x="101.1" y="2198.9" text-anchor="middle" class="tk">0</text>
<text x="214.8" y="2198.9" text-anchor="middle" class="tk">1</text>
<text x="328.4" y="2198.9" text-anchor="middle" class="tk">2</text>
<text x="442.1" y="2198.9" text-anchor="middle" class="tk">3</text>
<text x="555.7" y="2198.9" text-anchor="middle" class="tk">4</text>
<text x="88.4" y="2163" text-anchor="end" class="tk">0</text>
<text x="88.4" y="2055.6" text-anchor="end" class="tk">1</text>
<text x="88.4" y="1948.1" text-anchor="end" class="tk">2</text>
<text x="88.4" y="1840.7" text-anchor="end" class="tk">3</text>
<text x="88.4" y="1733.3" text-anchor="end" class="tk">4</text>
<path d="M101.1 2148.8v-7M214.8 2148.8v-7M328.4 2148.8v-7M442.1 2148.8v-7M555.7 2148.8v-7M101.1 2148.8h7M101.1 2041.4h7M101.1 1933.9h7M101.1 1826.5h7M101.1 1719.1h7" stroke="#262626" stroke-width="2" fill="none"/>
<polygon fill="#0072BD" points="101.1,2137.8 107.5,2127.4 114,2117 120.4,2106.8 126.9,2096.9 133.3,2089.6 139.7,2082.3 146.2,2074.9 152.6,2067.6 159.1,2061.1 165.5,2055.7 171.9,2050.3 178.4,2044.9 184.8,2039.4 191.3,2033.6 197.7,2027.7 204.1,2023.9 210.6,2021.6 217,2019.3 223.5,2017.1 229.9,2014.8 236.4,2012.2 242.8,2009.4 249.2,2006.6 255.7,2003.8 255.7,2045.3 249.2,2049.3 242.8,2053.4 236.4,2057.5 229.9,2061.4 223.5,2065.3 217,2069.2 210.6,2073.1 204.1,2077 197.7,2081.7 191.3,2087.6 184.8,2093.4 178.4,2098.9 171.9,2104.3 165.5,2109.7 159.1,2115.1 152.6,2120.3 146.2,2125.6 139.7,2130.8 133.3,2136 126.9,2141.2 120.4,2146.6 114,2152.2 107.5,2156.2 101.1,2159.8"/><polygon fill="#0072BD" points="355.3,1947.7 357,1940.1 358.7,1938.5 360.4,1937 362.2,1935.5 363.9,1934 365.6,1932.6 367.3,1931.1 369,1929.7 370.7,1928.3 372.4,1926.8 374.2,1925.4 375.9,1923.9 377.6,1922.5 379.3,1921.3 381,1920.5 382.7,1919.7 384.4,1918.9 386.2,1918.1 387.9,1917.3 389.6,1916.5 391.3,1915.7 393,1915.9 394.7,1916.3 396.4,1916.7 396.4,1944.7 394.7,1946.4 393,1948.1 391.3,1949.6 389.6,1950.1 387.9,1950.5 386.2,1951 384.4,1951.4 382.7,1951.8 381,1952.3 379.3,1952.7 377.6,1953.7 375.9,1955.1 374.2,1956.6 372.4,1958 370.7,1959.5 369,1960.9 367.3,1962.3 365.6,1963.8 363.9,1965.2 362.2,1966.7 360.4,1967.7 358.7,1968.3 357,1968.8 355.3,1963.3"/><polygon fill="#0072BD" points="248.9,2003.1 284,1986.8 309.8,1968 335.6,1954.6 357.7,1941.3 357.7,1965.3 335.6,1976.6 309.8,1994 284,2018.8 248.9,2043.1"/><circle cx="101.1" cy="2148.8" r="15" fill="#0072BD"/>
<g fill="none" stroke="#0072BD" stroke-width="1.9"><circle cx="169" cy="2070.2" r="12.4"/><circle cx="189.2" cy="2042.6" r="12.4"/><circle cx="220.1" cy="2060.7" r="12.4"/><circle cx="222.6" cy="2031.6" r="12.4"/><circle cx="245.8" cy="2032.2" r="12.4"/><circle cx="180.4" cy="2090.6" r="12.4"/><circle cx="105.6" cy="2138.3" r="12.4"/><circle cx="179" cy="2058.4" r="12.4"/><circle cx="169.7" cy="2058.7" r="12.4"/><circle cx="207.3" cy="2066.8" r="12.4"/><circle cx="111.6" cy="2132.6" r="12.4"/><circle cx="159.1" cy="2088" r="12.4"/><circle cx="237.7" cy="2040.5" r="12.4"/><circle cx="195.5" cy="2066" r="12.4"/><circle cx="151" cy="2097.9" r="12.4"/><circle cx="116.3" cy="2129.7" r="12.4"/><circle cx="168.2" cy="2077.7" r="12.4"/><circle cx="118.6" cy="2139.7" r="12.4"/><circle cx="246.8" cy="2022.9" r="12.4"/><circle cx="132.7" cy="2124" r="12.4"/><circle cx="249.5" cy="2013.6" r="12.4"/><circle cx="150.5" cy="2114.1" r="12.4"/><circle cx="188.5" cy="2070.7" r="12.4"/><circle cx="245" cy="2043.5" r="12.4"/><circle cx="124.2" cy="2125.8" r="12.4"/><circle cx="212" cy="2042.8" r="12.4"/><circle cx="233.5" cy="2047.4" r="12.4"/><circle cx="106.9" cy="2141.2" r="12.4"/><circle cx="139.7" cy="2111.8" r="12.4"/><circle cx="209.2" cy="2028.7" r="12.4"/><circle cx="229" cy="2027.4" r="12.4"/><circle cx="131.7" cy="2130.8" r="12.4"/><circle cx="110.2" cy="2129.9" r="12.4"/><circle cx="120.8" cy="2112.9" r="12.4"/><circle cx="204.8" cy="2063.9" r="12.4"/><circle cx="103.8" cy="2151.6" r="12.4"/><circle cx="196.5" cy="2049.2" r="12.4"/><circle cx="112.4" cy="2127.1" r="12.4"/><circle cx="206.7" cy="2042.3" r="12.4"/><circle cx="236.2" cy="2029.8" r="12.4"/><circle cx="230.6" cy="2031.4" r="12.4"/><circle cx="192.4" cy="2039.1" r="12.4"/><circle cx="210.4" cy="2058.7" r="12.4"/><circle cx="226.9" cy="2039.1" r="12.4"/><circle cx="173.3" cy="2066" r="12.4"/><circle cx="239.2" cy="2048.2" r="12.4"/><circle cx="202.8" cy="2031.6" r="12.4"/><circle cx="200.1" cy="2045.8" r="12.4"/><circle cx="130.9" cy="2100.3" r="12.4"/><circle cx="158.8" cy="2102.5" r="12.4"/><circle cx="175.6" cy="2059.6" r="12.4"/><circle cx="142.6" cy="2121.5" r="12.4"/><circle cx="133.2" cy="2121.1" r="12.4"/><circle cx="227" cy="2041.8" r="12.4"/><circle cx="105.8" cy="2141.5" r="12.4"/><circle cx="186.7" cy="2065.1" r="12.4"/><circle cx="169.3" cy="2084.3" r="12.4"/><circle cx="108.1" cy="2135.9" r="12.4"/><circle cx="199.4" cy="2067.2" r="12.4"/><circle cx="172.4" cy="2096.8" r="12.4"/><circle cx="208.2" cy="2067.4" r="12.4"/><circle cx="205.7" cy="2064.7" r="12.4"/><circle cx="219.9" cy="2038.2" r="12.4"/><circle cx="209.5" cy="2028.8" r="12.4"/><circle cx="237.6" cy="2020.1" r="12.4"/><circle cx="242.8" cy="2028.2" r="12.4"/><circle cx="223.9" cy="2037.3" r="12.4"/><circle cx="248.2" cy="2026.4" r="12.4"/><circle cx="149.2" cy="2104.1" r="12.4"/><circle cx="167.2" cy="2091.2" r="12.4"/><circle cx="222.5" cy="2044.7" r="12.4"/><circle cx="219.3" cy="2025.4" r="12.4"/><circle cx="209.7" cy="2066.1" r="12.4"/><circle cx="243.5" cy="2015.7" r="12.4"/><circle cx="144.6" cy="2092.1" r="12.4"/><circle cx="185.1" cy="2047.5" r="12.4"/><circle cx="236.2" cy="2019.3" r="12.4"/><circle cx="187.1" cy="2044.6" r="12.4"/><circle cx="191.9" cy="2070.6" r="12.4"/><circle cx="221.3" cy="2029.4" r="12.4"/><circle cx="111" cy="2130.9" r="12.4"/><circle cx="239.6" cy="2047.9" r="12.4"/><circle cx="166.2" cy="2091.9" r="12.4"/><circle cx="129.8" cy="2114.1" r="12.4"/><circle cx="104.5" cy="2139" r="12.4"/><circle cx="149.4" cy="2095.1" r="12.4"/><circle cx="119.5" cy="2137.8" r="12.4"/><circle cx="180.7" cy="2086.9" r="12.4"/><circle cx="180.5" cy="2050" r="12.4"/><circle cx="196.9" cy="2042.9" r="12.4"/><circle cx="136" cy="2125.6" r="12.4"/><circle cx="148.4" cy="2093.7" r="12.4"/><circle cx="234.3" cy="2019.9" r="12.4"/><circle cx="140" cy="2098.7" r="12.4"/><circle cx="120" cy="2127.5" r="12.4"/><circle cx="203.5" cy="2048.4" r="12.4"/><circle cx="214.8" cy="2048.9" r="12.4"/><circle cx="117" cy="2124.6" r="12.4"/><circle cx="123.1" cy="2109.5" r="12.4"/><circle cx="249.7" cy="2031.1" r="12.4"/><circle cx="243.8" cy="2035.9" r="12.4"/><circle cx="178.4" cy="2071.6" r="12.4"/><circle cx="227.8" cy="2022.6" r="12.4"/><circle cx="161.9" cy="2065.9" r="12.4"/><circle cx="103.4" cy="2142.3" r="12.4"/><circle cx="195.5" cy="2046.4" r="12.4"/><circle cx="221.8" cy="2028.7" r="12.4"/><circle cx="223.3" cy="2025.7" r="12.4"/><circle cx="216.2" cy="2035.9" r="12.4"/><circle cx="111.7" cy="2146.3" r="12.4"/><circle cx="154.5" cy="2087.5" r="12.4"/><circle cx="201" cy="2040.3" r="12.4"/><circle cx="159.5" cy="2073.3" r="12.4"/><circle cx="248.1" cy="2039.6" r="12.4"/><circle cx="161.3" cy="2106.6" r="12.4"/><circle cx="115.9" cy="2125.8" r="12.4"/><circle cx="246.2" cy="2019.9" r="12.4"/><circle cx="112.5" cy="2135.9" r="12.4"/><circle cx="125.1" cy="2133.1" r="12.4"/><circle cx="192.8" cy="2050.6" r="12.4"/><circle cx="190.8" cy="2043" r="12.4"/><circle cx="185.2" cy="2072.2" r="12.4"/><circle cx="137.9" cy="2090.9" r="12.4"/><circle cx="159.6" cy="2086.6" r="12.4"/><circle cx="242.8" cy="2038.1" r="12.4"/><circle cx="247.1" cy="2014.8" r="12.4"/><circle cx="209.5" cy="2032" r="12.4"/><circle cx="118.4" cy="2137.5" r="12.4"/><circle cx="108.9" cy="2146.8" r="12.4"/><circle cx="201.3" cy="2035.2" r="12.4"/><circle cx="164" cy="2074.6" r="12.4"/><circle cx="244" cy="2038.7" r="12.4"/><circle cx="235" cy="2041.4" r="12.4"/><circle cx="203.9" cy="2037.9" r="12.4"/><circle cx="129.6" cy="2101.7" r="12.4"/><circle cx="107" cy="2150" r="12.4"/><circle cx="194.6" cy="2077.8" r="12.4"/><circle cx="114.1" cy="2141.5" r="12.4"/><circle cx="172.9" cy="2056.8" r="12.4"/><circle cx="226.9" cy="2022.4" r="12.4"/><circle cx="194.7" cy="2067.1" r="12.4"/><circle cx="139.8" cy="2099.2" r="12.4"/><circle cx="249.5" cy="2014.4" r="12.4"/><circle cx="239.2" cy="2046.5" r="12.4"/><circle cx="232.4" cy="2020.5" r="12.4"/><circle cx="173.8" cy="2063.8" r="12.4"/><circle cx="112.5" cy="2137.2" r="12.4"/><circle cx="209.9" cy="2058.7" r="12.4"/><circle cx="154.8" cy="2102.5" r="12.4"/><circle cx="207.5" cy="2030.4" r="12.4"/><circle cx="166.8" cy="2090.2" r="12.4"/><circle cx="161" cy="2091.5" r="12.4"/><circle cx="155.9" cy="2108.7" r="12.4"/><circle cx="130.3" cy="2106.9" r="12.4"/><circle cx="185.5" cy="2083.9" r="12.4"/><circle cx="104.4" cy="2140.4" r="12.4"/><circle cx="246.1" cy="2028.7" r="12.4"/><circle cx="219.3" cy="2025.1" r="12.4"/><circle cx="236" cy="2032.7" r="12.4"/><circle cx="198.5" cy="2034.6" r="12.4"/><circle cx="179.3" cy="2080.8" r="12.4"/><circle cx="246.4" cy="2020.5" r="12.4"/><circle cx="209.3" cy="2040" r="12.4"/><circle cx="201.1" cy="2034.9" r="12.4"/><circle cx="244.8" cy="2020.7" r="12.4"/><circle cx="221.5" cy="2057.2" r="12.4"/><circle cx="212.3" cy="2048.7" r="12.4"/><circle cx="131.8" cy="2100.5" r="12.4"/><circle cx="110" cy="2130.7" r="12.4"/><circle cx="217.5" cy="2061.9" r="12.4"/><circle cx="188.7" cy="2068.1" r="12.4"/><circle cx="128.8" cy="2101.9" r="12.4"/><circle cx="190.3" cy="2081" r="12.4"/><circle cx="127" cy="2111.4" r="12.4"/><circle cx="223.7" cy="2027.1" r="12.4"/><circle cx="238.3" cy="2019.5" r="12.4"/><circle cx="173.5" cy="2056.3" r="12.4"/><circle cx="221.3" cy="2026.7" r="12.4"/><circle cx="142.3" cy="2108.4" r="12.4"/><circle cx="172" cy="2062.6" r="12.4"/><circle cx="124.7" cy="2136.2" r="12.4"/><circle cx="231.5" cy="2053.9" r="12.4"/><circle cx="181.3" cy="2069.4" r="12.4"/><circle cx="228" cy="2045.7" r="12.4"/><circle cx="208.6" cy="2067.6" r="12.4"/><circle cx="244.4" cy="2025.8" r="12.4"/><circle cx="163.7" cy="2079.2" r="12.4"/><circle cx="132.4" cy="2125.8" r="12.4"/><circle cx="225.9" cy="2055.8" r="12.4"/><circle cx="147" cy="2092.7" r="12.4"/><circle cx="117" cy="2120.5" r="12.4"/><circle cx="225.6" cy="2050.9" r="12.4"/><circle cx="207.6" cy="2057.8" r="12.4"/><circle cx="249.9" cy="2021.3" r="12.4"/><circle cx="144.7" cy="2117.9" r="12.4"/><circle cx="151.7" cy="2099.9" r="12.4"/><circle cx="210.8" cy="2036.4" r="12.4"/><circle cx="150.9" cy="2103.2" r="12.4"/><circle cx="115.3" cy="2135.1" r="12.4"/><circle cx="226.7" cy="2051.5" r="12.4"/><circle cx="124.7" cy="2136.3" r="12.4"/><circle cx="239.2" cy="2020" r="12.4"/><circle cx="216.1" cy="2052" r="12.4"/><circle cx="162.9" cy="2064.3" r="12.4"/><circle cx="248.4" cy="2037.5" r="12.4"/><circle cx="150.8" cy="2097.9" r="12.4"/><circle cx="177.5" cy="2085.1" r="12.4"/><circle cx="216.1" cy="2049.7" r="12.4"/><circle cx="176.2" cy="2053.5" r="12.4"/><circle cx="208.4" cy="2041.1" r="12.4"/><circle cx="195.2" cy="2076.8" r="12.4"/><circle cx="187.6" cy="2052.4" r="12.4"/><circle cx="155.3" cy="2075" r="12.4"/><circle cx="121.4" cy="2121.8" r="12.4"/><circle cx="185.2" cy="2045.8" r="12.4"/><circle cx="191.3" cy="2054.6" r="12.4"/><circle cx="137.2" cy="2105.7" r="12.4"/><circle cx="112.5" cy="2125.8" r="12.4"/><circle cx="242" cy="2022.3" r="12.4"/><circle cx="211.8" cy="2062.1" r="12.4"/><circle cx="131" cy="2128.1" r="12.4"/><circle cx="186.5" cy="2084.8" r="12.4"/><circle cx="186.3" cy="2064.3" r="12.4"/><circle cx="122.8" cy="2130.5" r="12.4"/><circle cx="194.7" cy="2072.9" r="12.4"/><circle cx="250.3" cy="2033.4" r="12.4"/><circle cx="186" cy="2060" r="12.4"/><circle cx="165.9" cy="2087.7" r="12.4"/><circle cx="210" cy="2036.1" r="12.4"/><circle cx="146.8" cy="2112.5" r="12.4"/><circle cx="168.2" cy="2096.3" r="12.4"/><circle cx="205.4" cy="2064.8" r="12.4"/><circle cx="160.4" cy="2067.4" r="12.4"/><circle cx="246.1" cy="2023.2" r="12.4"/><circle cx="134.4" cy="2127" r="12.4"/><circle cx="220" cy="2025.1" r="12.4"/><circle cx="101.2" cy="2153" r="12.4"/><circle cx="110.5" cy="2142.3" r="12.4"/><circle cx="188.9" cy="2042.2" r="12.4"/><circle cx="147.3" cy="2117.7" r="12.4"/><circle cx="132.1" cy="2128.8" r="12.4"/><circle cx="226.8" cy="2054.9" r="12.4"/><circle cx="233.1" cy="2034.8" r="12.4"/><circle cx="129.8" cy="2121" r="12.4"/><circle cx="210" cy="2030.9" r="12.4"/><circle cx="121.3" cy="2131.7" r="12.4"/><circle cx="134.6" cy="2114.8" r="12.4"/><circle cx="136.4" cy="2103.3" r="12.4"/><circle cx="233.8" cy="2047.4" r="12.4"/><circle cx="240.1" cy="2023.4" r="12.4"/><circle cx="114.6" cy="2132.4" r="12.4"/><circle cx="180.7" cy="2075.7" r="12.4"/><circle cx="221.6" cy="2024.3" r="12.4"/><circle cx="138" cy="2124.5" r="12.4"/><circle cx="235.7" cy="2037.2" r="12.4"/><circle cx="213.7" cy="2055.3" r="12.4"/><circle cx="184.5" cy="2053.9" r="12.4"/><circle cx="218.6" cy="2029.7" r="12.4"/><circle cx="203.8" cy="2047.1" r="12.4"/><circle cx="125.9" cy="2130.4" r="12.4"/><circle cx="217.1" cy="2048.6" r="12.4"/><circle cx="134.3" cy="2123.6" r="12.4"/><circle cx="190.6" cy="2079" r="12.4"/><circle cx="123.9" cy="2137.2" r="12.4"/><circle cx="167.4" cy="2079.6" r="12.4"/><circle cx="186.4" cy="2069.8" r="12.4"/><circle cx="147.8" cy="2079.7" r="12.4"/><circle cx="179.9" cy="2068.7" r="12.4"/><circle cx="126.8" cy="2104.4" r="12.4"/><circle cx="225.8" cy="2047.8" r="12.4"/><circle cx="155.8" cy="2091.8" r="12.4"/><circle cx="215.3" cy="2047.4" r="12.4"/><circle cx="212.9" cy="2027.3" r="12.4"/><circle cx="122.3" cy="2136.6" r="12.4"/><circle cx="112.6" cy="2128.3" r="12.4"/><circle cx="135.6" cy="2114.7" r="12.4"/><circle cx="241" cy="2018.5" r="12.4"/><circle cx="192.8" cy="2038.7" r="12.4"/><circle cx="109.9" cy="2131.4" r="12.4"/><circle cx="234.1" cy="2022.8" r="12.4"/><circle cx="158.3" cy="2098" r="12.4"/><circle cx="128.6" cy="2128.9" r="12.4"/><circle cx="133.3" cy="2126.2" r="12.4"/><circle cx="250.1" cy="2030.5" r="12.4"/><circle cx="112" cy="2142.8" r="12.4"/><circle cx="103.9" cy="2151.6" r="12.4"/><circle cx="239.7" cy="2041.6" r="12.4"/><circle cx="124.1" cy="2119.1" r="12.4"/><circle cx="209.6" cy="2052.8" r="12.4"/><circle cx="158.8" cy="2081.6" r="12.4"/><circle cx="179" cy="2091.8" r="12.4"/><circle cx="107.2" cy="2142.4" r="12.4"/><circle cx="164.7" cy="2068.3" r="12.4"/><circle cx="140.2" cy="2108.7" r="12.4"/><circle cx="143.2" cy="2113.1" r="12.4"/><circle cx="231" cy="2053.5" r="12.4"/><circle cx="133.5" cy="2095.9" r="12.4"/><circle cx="186" cy="2059.3" r="12.4"/><circle cx="239" cy="2022.8" r="12.4"/><circle cx="231.4" cy="2038.9" r="12.4"/><circle cx="284.9" cy="1989.3" r="12.4"/><circle cx="284.1" cy="2001.2" r="12.4"/><circle cx="294.5" cy="1990.5" r="12.4"/><circle cx="263.4" cy="2016.1" r="12.4"/><circle cx="292.5" cy="1987.7" r="12.4"/><circle cx="310" cy="1976.3" r="12.4"/><circle cx="257.4" cy="2016.9" r="12.4"/><circle cx="287.7" cy="1990.9" r="12.4"/><circle cx="302.4" cy="1998.9" r="12.4"/><circle cx="299.7" cy="2001.5" r="12.4"/><circle cx="251" cy="2022.3" r="12.4"/><circle cx="282.3" cy="1991.1" r="12.4"/><circle cx="286" cy="1988.3" r="12.4"/><circle cx="294.4" cy="2002.3" r="12.4"/><circle cx="292" cy="1994.4" r="12.4"/><circle cx="272.1" cy="1995.2" r="12.4"/><circle cx="280.8" cy="2026.8" r="12.4"/><circle cx="300.9" cy="1984.6" r="12.4"/><circle cx="310.3" cy="1974.4" r="12.4"/><circle cx="292" cy="2005.8" r="12.4"/><circle cx="336.6" cy="1962.2" r="12.4"/><circle cx="301.8" cy="2008.1" r="12.4"/><circle cx="319.8" cy="1979" r="12.4"/><circle cx="305.9" cy="1985.5" r="12.4"/><circle cx="287.1" cy="1996.6" r="12.4"/><circle cx="325.1" cy="1979.4" r="12.4"/><circle cx="284" cy="2025.7" r="12.4"/><circle cx="252.4" cy="2010.6" r="12.4"/><circle cx="295.5" cy="1990.8" r="12.4"/><circle cx="282" cy="2029.7" r="12.4"/><circle cx="262.6" cy="2007.7" r="12.4"/><circle cx="269.9" cy="2024.1" r="12.4"/><circle cx="270.4" cy="1995.3" r="12.4"/><circle cx="298.8" cy="1991.1" r="12.4"/><circle cx="270.9" cy="2015.7" r="12.4"/><circle cx="308.6" cy="1987.7" r="12.4"/><circle cx="306.2" cy="1990.4" r="12.4"/><circle cx="325.2" cy="1981.3" r="12.4"/><circle cx="279.5" cy="2004.6" r="12.4"/><circle cx="330.3" cy="1963.5" r="12.4"/><circle cx="314.7" cy="1986.3" r="12.4"/><circle cx="312" cy="1997.7" r="12.4"/><circle cx="324.6" cy="1963.1" r="12.4"/><circle cx="306" cy="1988.2" r="12.4"/><circle cx="300.7" cy="1988.6" r="12.4"/><circle cx="275.1" cy="2024" r="12.4"/><circle cx="297.9" cy="1986.1" r="12.4"/><circle cx="271.8" cy="2008.1" r="12.4"/><circle cx="265.2" cy="2019.8" r="12.4"/><circle cx="260.4" cy="2003.6" r="12.4"/><circle cx="255.2" cy="2007.8" r="12.4"/><circle cx="313.6" cy="1969.6" r="12.4"/><circle cx="290.4" cy="2013.5" r="12.4"/><circle cx="293" cy="1987.2" r="12.4"/><circle cx="328.5" cy="1976.4" r="12.4"/><circle cx="253.8" cy="2015" r="12.4"/><circle cx="295.5" cy="2009.3" r="12.4"/><circle cx="284.9" cy="2016.7" r="12.4"/><circle cx="272" cy="2024.4" r="12.4"/><circle cx="278.9" cy="2004.4" r="12.4"/><circle cx="318.6" cy="1986.1" r="12.4"/><circle cx="325" cy="1972.3" r="12.4"/><circle cx="342.3" cy="1966" r="12.4"/><circle cx="347.7" cy="1965.5" r="12.4"/><circle cx="352.4" cy="1950.2" r="12.4"/><circle cx="341.1" cy="1965.9" r="12.4"/><circle cx="337.2" cy="1960.6" r="12.4"/><circle cx="331.4" cy="1968.4" r="12.4"/><circle cx="356.1" cy="1965" r="12.4"/><circle cx="334.6" cy="1968.6" r="12.4"/><circle cx="342.3" cy="1964.9" r="12.4"/><circle cx="341.6" cy="1969.4" r="12.4"/><circle cx="357.4" cy="1944.3" r="12.4"/><circle cx="350.1" cy="1952" r="12.4"/><circle cx="332.2" cy="1963.9" r="12.4"/><circle cx="350.6" cy="1967.2" r="12.4"/><circle cx="334.3" cy="1963.7" r="12.4"/><circle cx="331.8" cy="1967.6" r="12.4"/><circle cx="343.9" cy="1960.7" r="12.4"/><circle cx="339.3" cy="1968.4" r="12.4"/><circle cx="353.4" cy="1952.4" r="12.4"/><circle cx="341.5" cy="1965" r="12.4"/><circle cx="351.5" cy="1966.7" r="12.4"/><circle cx="341.5" cy="1966.1" r="12.4"/><circle cx="345.6" cy="1965.9" r="12.4"/><circle cx="335" cy="1961.3" r="12.4"/><circle cx="333.9" cy="1972.3" r="12.4"/><circle cx="337.8" cy="1964.6" r="12.4"/><circle cx="334.3" cy="1963.6" r="12.4"/><circle cx="331.6" cy="1968" r="12.4"/><circle cx="334.9" cy="1967.6" r="12.4"/><circle cx="338.4" cy="1960.7" r="12.4"/><circle cx="375.1" cy="1948.1" r="12.4"/><circle cx="357.9" cy="1956.2" r="12.4"/><circle cx="362.8" cy="1948.7" r="12.4"/><circle cx="375.2" cy="1943.7" r="12.4"/><circle cx="378" cy="1935.2" r="12.4"/><circle cx="390.9" cy="1931.7" r="12.4"/><circle cx="385.1" cy="1944.4" r="12.4"/><circle cx="360.2" cy="1943.8" r="12.4"/><circle cx="368.1" cy="1953" r="12.4"/><circle cx="394.8" cy="1922.8" r="12.4"/><circle cx="387.9" cy="1928.7" r="12.4"/><circle cx="389.4" cy="1932.3" r="12.4"/><circle cx="371.8" cy="1937.9" r="12.4"/><circle cx="356.3" cy="1960.3" r="12.4"/><circle cx="370.5" cy="1940.7" r="12.4"/><circle cx="369.9" cy="1947.5" r="12.4"/><circle cx="369.1" cy="1940.7" r="12.4"/><circle cx="377.8" cy="1943.2" r="12.4"/><circle cx="361.2" cy="1960" r="12.4"/><circle cx="376" cy="1931.7" r="12.4"/><circle cx="394.5" cy="1928.7" r="12.4"/><circle cx="359.8" cy="1951.7" r="12.4"/><circle cx="364.3" cy="1950.9" r="12.4"/><circle cx="383.2" cy="1937.5" r="12.4"/><circle cx="370" cy="1943.4" r="12.4"/><circle cx="370.9" cy="1938" r="12.4"/><circle cx="391.8" cy="1927.2" r="12.4"/><circle cx="360" cy="1948.7" r="12.4"/><circle cx="372.6" cy="1934.4" r="12.4"/><circle cx="378.9" cy="1930.2" r="12.4"/><circle cx="373.7" cy="1949.8" r="12.4"/><circle cx="374.6" cy="1937.8" r="12.4"/><circle cx="396" cy="1929.9" r="12.4"/><circle cx="375.5" cy="1933.9" r="12.4"/><circle cx="389.4" cy="1928.9" r="12.4"/><circle cx="358" cy="1951.8" r="12.4"/><circle cx="374" cy="1942.9" r="12.4"/><circle cx="381.8" cy="1943.6" r="12.4"/><circle cx="365.2" cy="1941.5" r="12.4"/><circle cx="392.6" cy="1936.4" r="12.4"/><circle cx="359.4" cy="1944.4" r="12.4"/><circle cx="389.6" cy="1943.4" r="12.4"/><circle cx="390.2" cy="1932.3" r="12.4"/><circle cx="363.8" cy="1956.3" r="12.4"/><circle cx="382.8" cy="1943.7" r="12.4"/><circle cx="368.3" cy="1940.1" r="12.4"/><circle cx="383.9" cy="1926" r="12.4"/><circle cx="374.5" cy="1931.7" r="12.4"/><circle cx="380.4" cy="1928.4" r="12.4"/><circle cx="383.8" cy="1940.4" r="12.4"/><circle cx="372.1" cy="1938.8" r="12.4"/><circle cx="372.1" cy="1935.3" r="12.4"/><circle cx="369.5" cy="1939.8" r="12.4"/><circle cx="367" cy="1944.1" r="12.4"/><circle cx="383.1" cy="1931.9" r="12.4"/><circle cx="380" cy="1944.4" r="12.4"/><circle cx="366.9" cy="1944.4" r="12.4"/><circle cx="383" cy="1944.8" r="12.4"/><circle cx="392.1" cy="1941.9" r="12.4"/><circle cx="389.1" cy="1939.1" r="12.4"/><circle cx="392.2" cy="1942.4" r="12.4"/><circle cx="385.1" cy="1929.1" r="12.4"/><circle cx="394.4" cy="1935.6" r="12.4"/><circle cx="374.4" cy="1935.2" r="12.4"/><circle cx="395.5" cy="1930.2" r="12.4"/><circle cx="382" cy="1936.7" r="12.4"/><circle cx="371.8" cy="1937.4" r="12.4"/><circle cx="363.9" cy="1957.6" r="12.4"/><circle cx="385.8" cy="1924.8" r="12.4"/><circle cx="380.9" cy="1931.7" r="12.4"/><circle cx="385.4" cy="1939.3" r="12.4"/><circle cx="355.9" cy="1961.9" r="12.4"/><circle cx="369.7" cy="1951.4" r="12.4"/><circle cx="387.8" cy="1943.2" r="12.4"/><circle cx="378.7" cy="1928.3" r="12.4"/><circle cx="367.4" cy="1950.8" r="12.4"/><circle cx="357.5" cy="1946.5" r="12.4"/><circle cx="374.2" cy="1937.8" r="12.4"/><circle cx="361.7" cy="1952.9" r="12.4"/><circle cx="380.5" cy="1940.5" r="12.4"/><circle cx="361.6" cy="1958" r="12.4"/><circle cx="377.1" cy="1947.5" r="12.4"/><circle cx="395.1" cy="1931.6" r="12.4"/><circle cx="358.5" cy="1945.7" r="12.4"/><circle cx="368.8" cy="1937.4" r="12.4"/><circle cx="378.7" cy="1940.9" r="12.4"/><circle cx="385.7" cy="1944" r="12.4"/><circle cx="374.9" cy="1948.4" r="12.4"/><circle cx="357.3" cy="1951.3" r="12.4"/><circle cx="377.8" cy="1945.7" r="12.4"/><circle cx="370.6" cy="1952.3" r="12.4"/><circle cx="386.1" cy="1942.3" r="12.4"/><circle cx="395.1" cy="1939.3" r="12.4"/><circle cx="379.9" cy="1928.7" r="12.4"/><circle cx="379.6" cy="1928.6" r="12.4"/><circle cx="386.3" cy="1944.4" r="12.4"/><circle cx="366.4" cy="1943.6" r="12.4"/><circle cx="371.8" cy="1942.1" r="12.4"/><circle cx="389.5" cy="1924" r="12.4"/><circle cx="387.7" cy="1927.6" r="12.4"/><circle cx="357.3" cy="1946.9" r="12.4"/><circle cx="356.2" cy="1959.4" r="12.4"/><circle cx="385.6" cy="1925" r="12.4"/><circle cx="358.4" cy="1949.9" r="12.4"/><circle cx="370.8" cy="1951.2" r="12.4"/><circle cx="368.5" cy="1950.4" r="12.4"/><circle cx="389.6" cy="1939.4" r="12.4"/><circle cx="360.2" cy="1947.6" r="12.4"/><circle cx="364" cy="1941.9" r="12.4"/><circle cx="360.4" cy="1955.2" r="12.4"/><circle cx="388.6" cy="1934.6" r="12.4"/><circle cx="387.8" cy="1917.5" r="12.4"/><circle cx="385.4" cy="1932.2" r="12.4"/><circle cx="386.4" cy="1939.6" r="12.4"/><circle cx="399.5" cy="1938.9" r="12.4"/><circle cx="396.4" cy="1939.8" r="12.4"/><circle cx="394.4" cy="1937.9" r="12.4"/><circle cx="395.4" cy="1937.3" r="12.4"/><circle cx="388" cy="1927.2" r="12.4"/><circle cx="388" cy="1937.7" r="12.4"/><circle cx="395.6" cy="1926.3" r="12.4"/><circle cx="388.1" cy="1927.8" r="12.4"/><circle cx="397.5" cy="1931" r="12.4"/><circle cx="391.9" cy="1927" r="12.4"/><circle cx="392.5" cy="1943.1" r="12.4"/><circle cx="389.6" cy="1929.3" r="12.4"/><circle cx="401.6" cy="1936.9" r="12.4"/><circle cx="387.3" cy="1939.5" r="12.4"/><circle cx="386.7" cy="1935.8" r="12.4"/><circle cx="380.3" cy="1924.8" r="12.4"/><circle cx="397.7" cy="1927.6" r="12.4"/><circle cx="389.4" cy="1932.2" r="12.4"/><circle cx="393.1" cy="1928.5" r="12.4"/><circle cx="389.7" cy="1944.5" r="12.4"/><circle cx="400.6" cy="1934.2" r="12.4"/><circle cx="267.2" cy="1974.5" r="12.4"/><circle cx="243.1" cy="2010.9" r="12.4"/><circle cx="306.3" cy="1925.1" r="12.4"/><circle cx="291.5" cy="1965.3" r="12.4"/><circle cx="289.3" cy="1963.2" r="12.4"/><circle cx="229.5" cy="2018.9" r="12.4"/><circle cx="271.5" cy="1983.9" r="12.4"/><circle cx="287.3" cy="1952.3" r="12.4"/><circle cx="301.1" cy="1924.8" r="12.4"/><circle cx="279.6" cy="1967.8" r="12.4"/><circle cx="306.4" cy="1926.9" r="12.4"/><circle cx="238.8" cy="2000.2" r="12.4"/><circle cx="283.4" cy="1967.3" r="12.4"/><circle cx="234.6" cy="2022.3" r="12.4"/><circle cx="264" cy="1987" r="12.4"/><circle cx="239" cy="2012.9" r="12.4"/><circle cx="222.5" cy="2028" r="12.4"/><circle cx="237" cy="2014.6" r="12.4"/><circle cx="237.5" cy="2009.4" r="12.4"/><circle cx="298.5" cy="1956.3" r="12.4"/><circle cx="297" cy="1932" r="12.4"/><circle cx="271.4" cy="1970.3" r="12.4"/><circle cx="284.1" cy="1957.3" r="12.4"/><circle cx="276.6" cy="1952.4" r="12.4"/><circle cx="288.4" cy="1962.6" r="12.4"/><circle cx="214.6" cy="2033.5" r="12.4"/><circle cx="246.2" cy="1991.1" r="12.4"/><circle cx="233" cy="2016" r="12.4"/><circle cx="247" cy="1991.5" r="12.4"/><circle cx="305.6" cy="1935.9" r="12.4"/><circle cx="267" cy="1981.1" r="12.4"/><circle cx="232.8" cy="2007.3" r="12.4"/><circle cx="220.4" cy="2025.5" r="12.4"/><circle cx="276.3" cy="1980.8" r="12.4"/><circle cx="301.3" cy="1955.7" r="12.4"/><circle cx="266.9" cy="1988.3" r="12.4"/><circle cx="310.2" cy="1938.9" r="12.4"/><circle cx="298.3" cy="1960.1" r="12.4"/><circle cx="277.2" cy="1980" r="12.4"/><circle cx="212.1" cy="2039.6" r="12.4"/><circle cx="309.6" cy="1924.7" r="12.4"/><circle cx="296.6" cy="1935" r="12.4"/><circle cx="262.4" cy="1994" r="12.4"/><circle cx="263" cy="1990.1" r="12.4"/><circle cx="263" cy="1985" r="12.4"/><circle cx="260.1" cy="1992.6" r="12.4"/><circle cx="281.2" cy="1964.4" r="12.4"/><circle cx="258.8" cy="1997.4" r="12.4"/><circle cx="258.9" cy="1983" r="12.4"/><circle cx="308.6" cy="1930.7" r="12.4"/><circle cx="222.9" cy="2029.9" r="12.4"/><circle cx="243.4" cy="1997.2" r="12.4"/><circle cx="305.1" cy="1918.3" r="12.4"/><circle cx="306.2" cy="1919" r="12.4"/><circle cx="296.9" cy="1929.1" r="12.4"/><circle cx="211.1" cy="2041.4" r="12.4"/><circle cx="269.5" cy="1967.8" r="12.4"/><circle cx="271.8" cy="1967.7" r="12.4"/><circle cx="304.5" cy="1953.2" r="12.4"/><circle cx="262.2" cy="1967.3" r="12.4"/><circle cx="284.3" cy="2026.2" r="12.4"/><circle cx="326.8" cy="1988.9" r="12.4"/><circle cx="283.9" cy="2025.5" r="12.4"/><circle cx="324.8" cy="1987.7" r="12.4"/><circle cx="309.1" cy="2005.9" r="12.4"/><circle cx="321.2" cy="1994" r="12.4"/><circle cx="282.7" cy="2026.7" r="12.4"/><circle cx="323" cy="1994" r="12.4"/><circle cx="328.4" cy="1897.7" r="12.4"/><circle cx="262" cy="1961.7" r="12.4"/><circle cx="216.8" cy="2014.7" r="12.4"/><circle cx="294.6" cy="1935.2" r="12.4"/><circle cx="286.5" cy="1944.1" r="12.4"/><circle cx="276.8" cy="1939.4" r="12.4"/><circle cx="246.7" cy="1978.9" r="12.4"/><circle cx="235.2" cy="1998.3" r="12.4"/><circle cx="249.3" cy="1992.5" r="12.4"/><circle cx="260.2" cy="1965.8" r="12.4"/><circle cx="247.3" cy="1985.1" r="12.4"/><circle cx="286.1" cy="1943.7" r="12.4"/><circle cx="662.8" cy="1648.1" r="12.4"/><circle cx="627.5" cy="1690.3" r="12.4"/><circle cx="571.3" cy="1738.8" r="12.4"/><circle cx="586.2" cy="1785.3" r="12.4"/><circle cx="453.8" cy="1857.9" r="12.4"/><circle cx="455.8" cy="1876" r="12.4"/><circle cx="429.8" cy="1879.6" r="12.4"/><circle cx="424.1" cy="1813.8" r="12.4"/><circle cx="428.1" cy="1823.8" r="12.4"/><circle cx="405.7" cy="1825.8" r="12.4"/><circle cx="388.8" cy="1841.9" r="12.4"/><circle cx="385.6" cy="1851.9" r="12.4"/><circle cx="386.8" cy="1864.7" r="12.4"/><circle cx="404.1" cy="1882" r="12.4"/><circle cx="388.8" cy="1890.8" r="12.4"/><circle cx="384.8" cy="1898.8" r="12.4"/><circle cx="364.8" cy="1872.8" r="12.4"/><circle cx="348.7" cy="1874.8" r="12.4"/><circle cx="352.7" cy="1882.8" r="12.4"/><circle cx="346.7" cy="1886.8" r="12.4"/><circle cx="356.7" cy="1880.8" r="12.4"/><circle cx="350.7" cy="1876.8" r="12.4"/><circle cx="360.8" cy="1908" r="12.4"/><circle cx="324.7" cy="1912.9" r="12.4"/><circle cx="342.7" cy="1916.9" r="12.4"/><circle cx="330.7" cy="1924.9" r="12.4"/><circle cx="309.8" cy="1933.7" r="12.4"/><circle cx="318.6" cy="1930.9" r="12.4"/><circle cx="272.5" cy="1945.8" r="12.4"/><circle cx="286.5" cy="1949" r="12.4"/><circle cx="205.1" cy="2003.9" r="12.4"/><circle cx="219.6" cy="2003.9" r="12.4"/></g>
<line x1="101.1" y1="2148.8" x2="663.7" y2="1617" stroke="#D95319" stroke-width="1.7"/>
<text x="381.4" y="2251.8" text-anchor="middle" class="lb">Simulated LC value</text>
<text transform="translate(50.1 1882) rotate(-90)" text-anchor="middle" class="lb">Predicted LC value</text>
<text x="101.7" y="1615.7" class="xx">×</text>
<text x="131.2" y="1609.2" class="tk">10</text>
<text x="173.1" y="1590" class="sp">-5</text>
<text x="563.6" y="2266.1" class="xx">×</text>
<text x="593.4" y="2258.8" class="tk">10</text>
<text x="635.3" y="2240.8" class="sp">-5</text></g>
<g><path d="M911.7 1617V2148.8H1474.3" fill="none" stroke="#262626" stroke-width="2"/>
<text x="911.7" y="2198.9" text-anchor="middle" class="tk">0</text>
<text x="1076.2" y="2198.9" text-anchor="middle" class="tk">2</text>
<text x="1240.7" y="2198.9" text-anchor="middle" class="tk">4</text>
<text x="1405.2" y="2198.9" text-anchor="middle" class="tk">6</text>
<text x="899" y="2163" text-anchor="end" class="tk">0</text>
<text x="899" y="2085.3" text-anchor="end" class="tk">1</text>
<text x="899" y="2007.5" text-anchor="end" class="tk">2</text>
<text x="899" y="1929.8" text-anchor="end" class="tk">3</text>
<text x="899" y="1852" text-anchor="end" class="tk">4</text>
<text x="899" y="1774.3" text-anchor="end" class="tk">5</text>
<text x="899" y="1696.5" text-anchor="end" class="tk">6</text>
<path d="M911.7 2148.8v-7M1076.2 2148.8v-7M1240.7 2148.8v-7M1405.2 2148.8v-7M911.7 2148.8h7M911.7 2071.1h7M911.7 1993.3h7M911.7 1915.6h7M911.7 1837.8h7M911.7 1760.1h7M911.7 1682.3h7" stroke="#262626" stroke-width="2" fill="none"/>
<polygon fill="#0072BD" points="911.7,2130.3 920.5,2120.3 929.3,2110.2 938.1,2100.5 946.9,2090.9 955.7,2081.7 964.5,2073.4 973.3,2065.1 982.1,2056.7 990.9,2048.4 999.7,2039.8 1008.5,2031.1 1017.3,2022.3 1026.1,2013.6 1034.9,2004.8 1043.7,1995.3 1052.5,1985.7 1061.3,1976 1070.1,1966.4 1078.9,1957 1087.7,1948 1096.5,1938.9 1105.3,1930.4 1114.1,1922.4 1122.9,1914.3 1131.7,1906.3 1140.5,1898.6 1149.3,1891.1 1158.1,1883.5 1166.9,1876 1175.7,1868.4 1184.5,1860.9 1193.3,1852.7 1202.1,1843 1210.9,1833.3 1219.7,1823.9 1228.5,1815 1237.3,1806.2 1246.1,1797.3 1254.9,1788.5 1263.7,1779.6 1272.5,1770.7 1281.3,1761.9 1290.1,1753.6 1298.9,1745.3 1307.7,1737.1 1316.5,1729 1325.3,1720.9 1334.1,1712.9 1342.9,1704.8 1351.7,1696.8 1360.5,1688.7 1369.3,1680.7 1378.1,1673.4 1386.9,1666.4 1395.7,1659.3 1404.6,1652.2 1413.4,1645.1 1422.2,1641 1431,1637.3 1439.8,1636.2 1439.8,1663.2 1431,1678.6 1422.2,1690.6 1413.4,1702.1 1404.6,1710.8 1395.7,1719.6 1386.9,1728.3 1378.1,1737 1369.3,1745.7 1360.5,1753.7 1351.7,1761.8 1342.9,1769.8 1334.1,1777.9 1325.3,1785.9 1316.5,1794 1307.7,1802.1 1298.9,1811.1 1290.1,1821 1281.3,1830.8 1272.5,1839 1263.7,1847 1254.9,1855.1 1246.1,1863.1 1237.3,1871.1 1228.5,1879.2 1219.7,1887.2 1210.9,1895.5 1202.1,1903.8 1193.3,1912.1 1184.5,1920.7 1175.7,1929.5 1166.9,1938.3 1158.1,1947.1 1149.3,1955.9 1140.5,1964.6 1131.7,1973.4 1122.9,1982 1114.1,1990.5 1105.3,1999.1 1096.5,2007.6 1087.7,2015.9 1078.9,2024.2 1070.1,2031.7 1061.3,2038.7 1052.5,2045.7 1043.7,2052.8 1034.9,2059.8 1026.1,2067.7 1017.3,2075.6 1008.5,2083.5 999.7,2091.4 990.9,2099.4 982.1,2107.7 973.3,2116.1 964.5,2124.4 955.7,2132.7 946.9,2140.2 938.1,2147.2 929.3,2154.1 920.5,2160.7 911.7,2167.3"/><circle cx="925.7" cy="2146.5" r="14" fill="#0072BD"/><circle cx="911.7" cy="2148.8" r="15" fill="#0072BD"/>
<g fill="none" stroke="#0072BD" stroke-width="1.9"><circle cx="1400.1" cy="1683.9" r="12.4"/><circle cx="1135.5" cy="1953.8" r="12.4"/><circle cx="1146.5" cy="1947.7" r="12.4"/><circle cx="957" cy="2097.5" r="12.4"/><circle cx="1299.4" cy="1757.5" r="12.4"/><circle cx="1222.8" cy="1873.8" r="12.4"/><circle cx="1312.9" cy="1779.7" r="12.4"/><circle cx="957" cy="2115.2" r="12.4"/><circle cx="1250.9" cy="1848" r="12.4"/><circle cx="1342.5" cy="1759.4" r="12.4"/><circle cx="932.3" cy="2139.6" r="12.4"/><circle cx="1106.9" cy="1940.8" r="12.4"/><circle cx="1201.6" cy="1854.8" r="12.4"/><circle cx="1285.1" cy="1783.3" r="12.4"/><circle cx="1396.8" cy="1685.1" r="12.4"/><circle cx="941.2" cy="2109.2" r="12.4"/><circle cx="1274.6" cy="1779.9" r="12.4"/><circle cx="1433.5" cy="1651.3" r="12.4"/><circle cx="1110.8" cy="1983" r="12.4"/><circle cx="1015.5" cy="2054.2" r="12.4"/><circle cx="1191" cy="1865.7" r="12.4"/><circle cx="1045.3" cy="2030.9" r="12.4"/><circle cx="1382.9" cy="1715.7" r="12.4"/><circle cx="1277.7" cy="1805.7" r="12.4"/><circle cx="1128" cy="1930.3" r="12.4"/><circle cx="969" cy="2084.7" r="12.4"/><circle cx="1352.8" cy="1726.5" r="12.4"/><circle cx="1197.8" cy="1887.2" r="12.4"/><circle cx="1291" cy="1762.7" r="12.4"/><circle cx="986.6" cy="2073" r="12.4"/><circle cx="1003.1" cy="2075.4" r="12.4"/><circle cx="1281.1" cy="1783.4" r="12.4"/><circle cx="1189.5" cy="1884.5" r="12.4"/><circle cx="1367.7" cy="1699.6" r="12.4"/><circle cx="1065.7" cy="2023.2" r="12.4"/><circle cx="1418.5" cy="1683.7" r="12.4"/><circle cx="1342.9" cy="1743.2" r="12.4"/><circle cx="958.7" cy="2089.5" r="12.4"/><circle cx="1177" cy="1918" r="12.4"/><circle cx="1210.6" cy="1859.2" r="12.4"/><circle cx="1042.4" cy="2024.4" r="12.4"/><circle cx="1057.3" cy="1992.9" r="12.4"/><circle cx="959.4" cy="2095.8" r="12.4"/><circle cx="1066.5" cy="2017" r="12.4"/><circle cx="1427.2" cy="1664.6" r="12.4"/><circle cx="1234.3" cy="1831.1" r="12.4"/><circle cx="1212.6" cy="1849.9" r="12.4"/><circle cx="1084.3" cy="1961.9" r="12.4"/><circle cx="1020.5" cy="2031.9" r="12.4"/><circle cx="1193.3" cy="1889" r="12.4"/><circle cx="1255.6" cy="1813.9" r="12.4"/><circle cx="1430" cy="1660.4" r="12.4"/><circle cx="1320.4" cy="1766.5" r="12.4"/><circle cx="1294.1" cy="1794.5" r="12.4"/><circle cx="1126.5" cy="1968.4" r="12.4"/><circle cx="1346.3" cy="1749.8" r="12.4"/><circle cx="1078.2" cy="2005.4" r="12.4"/><circle cx="1345.6" cy="1722.8" r="12.4"/><circle cx="1137.5" cy="1911.6" r="12.4"/><circle cx="1138.9" cy="1942.2" r="12.4"/><circle cx="941.9" cy="2106.4" r="12.4"/><circle cx="1302.8" cy="1780.4" r="12.4"/><circle cx="1229.8" cy="1834.5" r="12.4"/><circle cx="975.8" cy="2103.7" r="12.4"/><circle cx="1250.4" cy="1808.8" r="12.4"/><circle cx="1192.4" cy="1864.4" r="12.4"/><circle cx="1053.5" cy="1996" r="12.4"/><circle cx="1329.3" cy="1749.4" r="12.4"/><circle cx="1212.5" cy="1857" r="12.4"/><circle cx="1411.9" cy="1663.8" r="12.4"/><circle cx="1423.7" cy="1665.6" r="12.4"/><circle cx="1331.7" cy="1733.4" r="12.4"/><circle cx="1055.4" cy="1999.8" r="12.4"/><circle cx="1016" cy="2049.1" r="12.4"/><circle cx="1004.7" cy="2045.6" r="12.4"/><circle cx="986.8" cy="2075.6" r="12.4"/><circle cx="1312.6" cy="1747.2" r="12.4"/><circle cx="985.3" cy="2072.6" r="12.4"/><circle cx="1182.3" cy="1887.6" r="12.4"/><circle cx="954.9" cy="2098.5" r="12.4"/><circle cx="1021.5" cy="2047.4" r="12.4"/><circle cx="1219.7" cy="1846.3" r="12.4"/><circle cx="1339.2" cy="1723.8" r="12.4"/><circle cx="1403.9" cy="1676.9" r="12.4"/><circle cx="1346.3" cy="1754.8" r="12.4"/><circle cx="1180.1" cy="1877" r="12.4"/><circle cx="1431.1" cy="1662.8" r="12.4"/><circle cx="1106.9" cy="1970.5" r="12.4"/><circle cx="1202.2" cy="1854" r="12.4"/><circle cx="1434.9" cy="1653.1" r="12.4"/><circle cx="1248" cy="1839.4" r="12.4"/><circle cx="1401.6" cy="1675.1" r="12.4"/><circle cx="1090" cy="2003.5" r="12.4"/><circle cx="1330.2" cy="1740.5" r="12.4"/><circle cx="1003.7" cy="2061.5" r="12.4"/><circle cx="1322.6" cy="1743.2" r="12.4"/><circle cx="1319.2" cy="1737.8" r="12.4"/><circle cx="1400.2" cy="1666.1" r="12.4"/><circle cx="1187.7" cy="1875.6" r="12.4"/><circle cx="1411" cy="1686.9" r="12.4"/><circle cx="1090.7" cy="2002.6" r="12.4"/><circle cx="1070.2" cy="2021.4" r="12.4"/><circle cx="1400.7" cy="1701.7" r="12.4"/><circle cx="973.1" cy="2080.4" r="12.4"/><circle cx="1136.1" cy="1942.5" r="12.4"/><circle cx="1242.8" cy="1820.5" r="12.4"/><circle cx="1425.6" cy="1675.9" r="12.4"/><circle cx="1297.4" cy="1772" r="12.4"/><circle cx="1222.2" cy="1860.8" r="12.4"/><circle cx="1078" cy="2001.8" r="12.4"/><circle cx="972.7" cy="2075.9" r="12.4"/><circle cx="1099.2" cy="1962.4" r="12.4"/><circle cx="1306.5" cy="1756.8" r="12.4"/><circle cx="1314.3" cy="1757.2" r="12.4"/><circle cx="1319.5" cy="1739.8" r="12.4"/><circle cx="1197.4" cy="1890.8" r="12.4"/><circle cx="1295.5" cy="1792" r="12.4"/><circle cx="1379.3" cy="1717.4" r="12.4"/><circle cx="1375.4" cy="1692.3" r="12.4"/><circle cx="1221.8" cy="1848" r="12.4"/><circle cx="1002.6" cy="2052.3" r="12.4"/><circle cx="972.8" cy="2105.9" r="12.4"/><circle cx="1126.4" cy="1940.6" r="12.4"/><circle cx="1030.6" cy="2041.5" r="12.4"/><circle cx="956.9" cy="2091" r="12.4"/><circle cx="933.9" cy="2118.5" r="12.4"/><circle cx="913.3" cy="2147.5" r="12.4"/><circle cx="1083.8" cy="1983.9" r="12.4"/><circle cx="1054.3" cy="2023.4" r="12.4"/><circle cx="1014" cy="2068.5" r="12.4"/><circle cx="957.4" cy="2111" r="12.4"/><circle cx="1180.1" cy="1903.2" r="12.4"/><circle cx="1263.5" cy="1789.9" r="12.4"/><circle cx="1360.3" cy="1744" r="12.4"/><circle cx="1218.1" cy="1836.5" r="12.4"/><circle cx="1263.5" cy="1832.9" r="12.4"/><circle cx="958" cy="2115.9" r="12.4"/><circle cx="1426.5" cy="1653.5" r="12.4"/><circle cx="1030.1" cy="2036" r="12.4"/><circle cx="1121.2" cy="1971.3" r="12.4"/><circle cx="960.8" cy="2114.3" r="12.4"/><circle cx="969.9" cy="2094.6" r="12.4"/><circle cx="1116.7" cy="1975.7" r="12.4"/><circle cx="1337.8" cy="1740.7" r="12.4"/><circle cx="1404.1" cy="1700.1" r="12.4"/><circle cx="1365.7" cy="1706.3" r="12.4"/><circle cx="1302" cy="1771.4" r="12.4"/><circle cx="924.6" cy="2147.2" r="12.4"/><circle cx="1027" cy="2024.7" r="12.4"/><circle cx="1218.6" cy="1852.6" r="12.4"/><circle cx="1314.5" cy="1754.3" r="12.4"/><circle cx="951.2" cy="2097" r="12.4"/><circle cx="1090.8" cy="1955.7" r="12.4"/><circle cx="1085.7" cy="1976.4" r="12.4"/><circle cx="1153.6" cy="1923.9" r="12.4"/><circle cx="930.7" cy="2135.4" r="12.4"/><circle cx="1206.1" cy="1889.3" r="12.4"/><circle cx="1080.2" cy="2002.8" r="12.4"/><circle cx="1209.5" cy="1870.1" r="12.4"/><circle cx="1055.7" cy="1994" r="12.4"/><circle cx="1007.4" cy="2049.7" r="12.4"/><circle cx="1177.1" cy="1883.9" r="12.4"/><circle cx="1124" cy="1937.4" r="12.4"/><circle cx="1006.2" cy="2043.3" r="12.4"/><circle cx="960.2" cy="2110.9" r="12.4"/><circle cx="1240.3" cy="1813.2" r="12.4"/><circle cx="1296.1" cy="1768" r="12.4"/><circle cx="1093.3" cy="1958" r="12.4"/><circle cx="991.1" cy="2086.8" r="12.4"/><circle cx="973.1" cy="2098.5" r="12.4"/><circle cx="921.6" cy="2138.6" r="12.4"/><circle cx="1437.1" cy="1656.1" r="12.4"/><circle cx="1055.9" cy="1993" r="12.4"/><circle cx="1223.9" cy="1856.7" r="12.4"/><circle cx="972.5" cy="2083.8" r="12.4"/><circle cx="1370" cy="1699.1" r="12.4"/><circle cx="954" cy="2119.4" r="12.4"/><circle cx="1348.5" cy="1726.3" r="12.4"/><circle cx="1258" cy="1810.2" r="12.4"/><circle cx="1292" cy="1780.8" r="12.4"/><circle cx="1083.7" cy="1983.5" r="12.4"/><circle cx="1353.1" cy="1733.3" r="12.4"/><circle cx="1143.6" cy="1941.2" r="12.4"/><circle cx="1254.4" cy="1840" r="12.4"/><circle cx="1369.4" cy="1724.4" r="12.4"/><circle cx="1137.2" cy="1948.3" r="12.4"/><circle cx="1028.3" cy="2055.7" r="12.4"/><circle cx="1111.2" cy="1978.9" r="12.4"/><circle cx="1147.8" cy="1945.7" r="12.4"/><circle cx="1314.9" cy="1785.4" r="12.4"/><circle cx="1383.9" cy="1686.5" r="12.4"/><circle cx="1270.1" cy="1808.1" r="12.4"/><circle cx="1329.3" cy="1748.2" r="12.4"/><circle cx="1239.4" cy="1848.8" r="12.4"/><circle cx="1009" cy="2064.1" r="12.4"/><circle cx="958.2" cy="2120.3" r="12.4"/><circle cx="1159.5" cy="1933.4" r="12.4"/><circle cx="1062.9" cy="2026.4" r="12.4"/><circle cx="940.5" cy="2118.4" r="12.4"/><circle cx="1220.6" cy="1875.2" r="12.4"/><circle cx="1057" cy="2028.3" r="12.4"/><circle cx="1431.2" cy="1652.9" r="12.4"/><circle cx="1085.4" cy="1976" r="12.4"/><circle cx="1150.4" cy="1929.5" r="12.4"/><circle cx="1093.7" cy="1979.3" r="12.4"/><circle cx="1002.8" cy="2078.5" r="12.4"/><circle cx="1071" cy="1983.3" r="12.4"/><circle cx="1086.3" cy="2005.1" r="12.4"/><circle cx="922.2" cy="2138.3" r="12.4"/><circle cx="1034.2" cy="2024.7" r="12.4"/><circle cx="1294.5" cy="1763.9" r="12.4"/><circle cx="921.8" cy="2130" r="12.4"/><circle cx="1106.9" cy="1947.5" r="12.4"/><circle cx="1112.3" cy="1949.9" r="12.4"/><circle cx="947.7" cy="2120" r="12.4"/><circle cx="1432.2" cy="1651.7" r="12.4"/><circle cx="1166.8" cy="1921.5" r="12.4"/><circle cx="1410.5" cy="1663.1" r="12.4"/><circle cx="1006.2" cy="2066.7" r="12.4"/><circle cx="1078.8" cy="1969.4" r="12.4"/><circle cx="1247.7" cy="1841" r="12.4"/><circle cx="1427.8" cy="1651.2" r="12.4"/><circle cx="962.3" cy="2115.3" r="12.4"/><circle cx="1149" cy="1905.3" r="12.4"/><circle cx="1273.7" cy="1827.9" r="12.4"/><circle cx="1087.5" cy="1981.8" r="12.4"/><circle cx="994" cy="2055.8" r="12.4"/><circle cx="940.9" cy="2108.4" r="12.4"/><circle cx="1423.2" cy="1669.3" r="12.4"/><circle cx="1255.8" cy="1809.1" r="12.4"/><circle cx="1096.1" cy="1979.9" r="12.4"/><circle cx="997.1" cy="2053.6" r="12.4"/><circle cx="922.5" cy="2147.6" r="12.4"/><circle cx="1299.7" cy="1763.3" r="12.4"/><circle cx="1080.5" cy="2010.4" r="12.4"/><circle cx="1182.8" cy="1907.3" r="12.4"/><circle cx="924.7" cy="2125.9" r="12.4"/><circle cx="1340.3" cy="1749.2" r="12.4"/><circle cx="1306.3" cy="1781.5" r="12.4"/><circle cx="1272.1" cy="1818.5" r="12.4"/><circle cx="1115.3" cy="1958.9" r="12.4"/><circle cx="1398.9" cy="1667.3" r="12.4"/><circle cx="1241.1" cy="1853" r="12.4"/><circle cx="1250.2" cy="1804.7" r="12.4"/><circle cx="1173.6" cy="1918.8" r="12.4"/><circle cx="1238" cy="1850.1" r="12.4"/><circle cx="1120.3" cy="1946.8" r="12.4"/><circle cx="1162.3" cy="1914.6" r="12.4"/><circle cx="1089.9" cy="1994.4" r="12.4"/><circle cx="1287.3" cy="1772.3" r="12.4"/><circle cx="978.7" cy="2099.8" r="12.4"/><circle cx="1316.1" cy="1766" r="12.4"/><circle cx="1280.7" cy="1808.2" r="12.4"/><circle cx="1017.7" cy="2036.9" r="12.4"/><circle cx="921.3" cy="2135.7" r="12.4"/><circle cx="1004.3" cy="2047.6" r="12.4"/><circle cx="1327.2" cy="1759.1" r="12.4"/><circle cx="1002.1" cy="2071.2" r="12.4"/><circle cx="1161.6" cy="1899.8" r="12.4"/><circle cx="1172.7" cy="1895.6" r="12.4"/><circle cx="1333.4" cy="1760.2" r="12.4"/><circle cx="990.1" cy="2086.5" r="12.4"/><circle cx="1347.1" cy="1750.6" r="12.4"/><circle cx="1394.4" cy="1709.9" r="12.4"/><circle cx="1269.6" cy="1783.9" r="12.4"/><circle cx="919" cy="2136.9" r="12.4"/><circle cx="1365.4" cy="1698.7" r="12.4"/><circle cx="1049.7" cy="2007.7" r="12.4"/><circle cx="1195.9" cy="1899.6" r="12.4"/><circle cx="1421.5" cy="1672.5" r="12.4"/><circle cx="1423" cy="1654" r="12.4"/><circle cx="1000.8" cy="2053.4" r="12.4"/><circle cx="970.3" cy="2101.2" r="12.4"/><circle cx="1122.3" cy="1955.7" r="12.4"/><circle cx="1165.3" cy="1898.6" r="12.4"/><circle cx="1098" cy="1977.1" r="12.4"/><circle cx="1169.1" cy="1919" r="12.4"/><circle cx="1333.8" cy="1751.4" r="12.4"/><circle cx="1027.1" cy="2022.9" r="12.4"/><circle cx="1278.6" cy="1779.4" r="12.4"/><circle cx="1347.3" cy="1744.5" r="12.4"/><circle cx="1067.2" cy="2018" r="12.4"/><circle cx="1090.2" cy="2003" r="12.4"/><circle cx="1280.7" cy="1784.7" r="12.4"/><circle cx="1219.6" cy="1864.1" r="12.4"/><circle cx="1239.4" cy="1844.8" r="12.4"/><circle cx="1180.9" cy="1911.8" r="12.4"/><circle cx="946.8" cy="2129.9" r="12.4"/><circle cx="1423.4" cy="1654.9" r="12.4"/><circle cx="1255.8" cy="1822.8" r="12.4"/><circle cx="1419.3" cy="1653.1" r="12.4"/><circle cx="1188.9" cy="1900.4" r="12.4"/><circle cx="1335.9" cy="1721.2" r="12.4"/><circle cx="1380.2" cy="1713.3" r="12.4"/><circle cx="1164.4" cy="1925.7" r="12.4"/><circle cx="1164.7" cy="1907.8" r="12.4"/><circle cx="943" cy="2105.6" r="12.4"/><circle cx="1433.6" cy="1651.7" r="12.4"/><circle cx="1200.4" cy="1874.9" r="12.4"/><circle cx="1291.6" cy="1795.1" r="12.4"/><circle cx="1036" cy="2018.2" r="12.4"/><circle cx="1082.4" cy="1998.5" r="12.4"/><circle cx="1076.7" cy="1992.8" r="12.4"/><circle cx="1264.6" cy="1809.8" r="12.4"/><circle cx="1203" cy="1867.1" r="12.4"/><circle cx="1004.5" cy="2060.7" r="12.4"/><circle cx="1031.4" cy="2031.3" r="12.4"/><circle cx="1090.5" cy="1992.9" r="12.4"/><circle cx="1052.6" cy="2007.9" r="12.4"/><circle cx="1405.4" cy="1684.9" r="12.4"/><circle cx="1072.6" cy="2001.7" r="12.4"/><circle cx="986.1" cy="2074" r="12.4"/><circle cx="970.2" cy="2078" r="12.4"/><circle cx="1075.6" cy="2009.3" r="12.4"/><circle cx="1376.1" cy="1699.2" r="12.4"/><circle cx="1217.1" cy="1874.9" r="12.4"/><circle cx="1049.5" cy="2026.5" r="12.4"/><circle cx="1016.7" cy="2053.1" r="12.4"/><circle cx="950" cy="2100.9" r="12.4"/><circle cx="1430.9" cy="1665.2" r="12.4"/><circle cx="1318.6" cy="1737.1" r="12.4"/><circle cx="1185" cy="1907.1" r="12.4"/><circle cx="1005.2" cy="2052.4" r="12.4"/><circle cx="1319.4" cy="1741.2" r="12.4"/><circle cx="1189.4" cy="1902" r="12.4"/><circle cx="1214.7" cy="1867.8" r="12.4"/><circle cx="1108.8" cy="1979.1" r="12.4"/><circle cx="1184.5" cy="1908.6" r="12.4"/><circle cx="1229.8" cy="1843.3" r="12.4"/><circle cx="1145.9" cy="1912.3" r="12.4"/><circle cx="1189.3" cy="1867.9" r="12.4"/><circle cx="918.5" cy="2149.2" r="12.4"/><circle cx="1421.9" cy="1680.6" r="12.4"/><circle cx="1104.8" cy="1941" r="12.4"/><circle cx="1410.5" cy="1694.2" r="12.4"/><circle cx="993.4" cy="2059.6" r="12.4"/><circle cx="1352.1" cy="1722.2" r="12.4"/><circle cx="1177.8" cy="1880.3" r="12.4"/><circle cx="992.1" cy="2081.8" r="12.4"/><circle cx="1363.2" cy="1698.6" r="12.4"/><circle cx="1164.6" cy="1930.2" r="12.4"/><circle cx="1062.9" cy="1994.5" r="12.4"/><circle cx="1234.5" cy="1820.4" r="12.4"/><circle cx="1242.3" cy="1830.9" r="12.4"/><circle cx="1224.8" cy="1872.1" r="12.4"/><circle cx="1199" cy="1887.8" r="12.4"/><circle cx="1020.9" cy="2060.5" r="12.4"/><circle cx="1091.6" cy="2000.4" r="12.4"/><circle cx="1148" cy="1905.4" r="12.4"/><circle cx="1348.4" cy="1746.1" r="12.4"/><circle cx="1273" cy="1780.7" r="12.4"/><circle cx="1009.2" cy="2040.6" r="12.4"/><circle cx="1019.2" cy="2050.3" r="12.4"/><circle cx="1369.5" cy="1727.1" r="12.4"/><circle cx="1036.4" cy="2046.6" r="12.4"/><circle cx="1235.6" cy="1828.8" r="12.4"/><circle cx="1039.4" cy="2044.8" r="12.4"/><circle cx="1370.6" cy="1723" r="12.4"/><circle cx="1237.1" cy="1861.3" r="12.4"/><circle cx="1166.9" cy="1920.9" r="12.4"/><circle cx="1188" cy="1904.2" r="12.4"/><circle cx="1338.9" cy="1762.9" r="12.4"/><circle cx="1393.9" cy="1707.2" r="12.4"/><circle cx="1073.9" cy="2004.5" r="12.4"/><circle cx="1293.3" cy="1803.7" r="12.4"/><circle cx="1279.3" cy="1774.7" r="12.4"/><circle cx="1293.9" cy="1773.9" r="12.4"/><circle cx="1130.7" cy="1932.9" r="12.4"/><circle cx="1432.7" cy="1661" r="12.4"/><circle cx="953.8" cy="2106.2" r="12.4"/><circle cx="1312.6" cy="1769.2" r="12.4"/><circle cx="1134.2" cy="1957.6" r="12.4"/><circle cx="1140.9" cy="1919.3" r="12.4"/><circle cx="1430.4" cy="1657.9" r="12.4"/><circle cx="1414.7" cy="1664.2" r="12.4"/><circle cx="913.3" cy="2153.6" r="12.4"/><circle cx="1054.4" cy="1997.5" r="12.4"/><circle cx="998.2" cy="2055" r="12.4"/><circle cx="1267" cy="1814.9" r="12.4"/><circle cx="1010.1" cy="2061.5" r="12.4"/><circle cx="1345.3" cy="1725.9" r="12.4"/><circle cx="912" cy="2140.6" r="12.4"/><circle cx="1259.7" cy="1797.7" r="12.4"/><circle cx="1324.4" cy="1760.1" r="12.4"/><circle cx="1144.3" cy="1906" r="12.4"/><circle cx="1230.4" cy="1867.2" r="12.4"/><circle cx="1239.1" cy="1821.2" r="12.4"/><circle cx="1276.2" cy="1815.2" r="12.4"/><circle cx="1204.1" cy="1852.8" r="12.4"/><circle cx="1228.9" cy="1841.2" r="12.4"/><circle cx="1113.7" cy="1932.8" r="12.4"/><circle cx="1370.9" cy="1692.4" r="12.4"/><circle cx="937.4" cy="2114.5" r="12.4"/><circle cx="1312.9" cy="1754.6" r="12.4"/><circle cx="1183.3" cy="1887.6" r="12.4"/><circle cx="1343.6" cy="1746.9" r="12.4"/><circle cx="1161.4" cy="1926.9" r="12.4"/><circle cx="1316.6" cy="1752.6" r="12.4"/><circle cx="1108" cy="1955.2" r="12.4"/><circle cx="1281.9" cy="1813.6" r="12.4"/><circle cx="1349" cy="1725.7" r="12.4"/><circle cx="1419.7" cy="1652.5" r="12.4"/><circle cx="1256.7" cy="1828.7" r="12.4"/><circle cx="1076.8" cy="2014.1" r="12.4"/><circle cx="1356" cy="1710.6" r="12.4"/><circle cx="1147.7" cy="1946.1" r="12.4"/><circle cx="1422" cy="1675" r="12.4"/><circle cx="1187.4" cy="1896.6" r="12.4"/><circle cx="1409.3" cy="1691.6" r="12.4"/><circle cx="1081" cy="2007" r="12.4"/><circle cx="1260.6" cy="1802.1" r="12.4"/><circle cx="988.8" cy="2091.4" r="12.4"/><circle cx="1346" cy="1718.1" r="12.4"/><circle cx="1423.4" cy="1653.2" r="12.4"/><circle cx="1137.5" cy="1921" r="12.4"/><circle cx="945" cy="2103.8" r="12.4"/><circle cx="1124.2" cy="1965.3" r="12.4"/><circle cx="1352.3" cy="1750.7" r="12.4"/><circle cx="1278.1" cy="1778.8" r="12.4"/><circle cx="1077" cy="1981.8" r="12.4"/><circle cx="926.7" cy="2133.1" r="12.4"/><circle cx="1003.6" cy="2053.7" r="12.4"/><circle cx="971.9" cy="2086.8" r="12.4"/><circle cx="1057.1" cy="1999.9" r="12.4"/><circle cx="1243.9" cy="1840.3" r="12.4"/><circle cx="1059.6" cy="2019.7" r="12.4"/><circle cx="1257" cy="1829.2" r="12.4"/><circle cx="1372.8" cy="1687.8" r="12.4"/><circle cx="1260.1" cy="1797.4" r="12.4"/><circle cx="1386.2" cy="1717.7" r="12.4"/><circle cx="968.4" cy="2081.4" r="12.4"/><circle cx="985.7" cy="2080.7" r="12.4"/><circle cx="1098.7" cy="1976.1" r="12.4"/><circle cx="1230.2" cy="1865.4" r="12.4"/><circle cx="1088.2" cy="2005.4" r="12.4"/><circle cx="1142.1" cy="1927.5" r="12.4"/><circle cx="1285.5" cy="1795" r="12.4"/><circle cx="1259.3" cy="1807.6" r="12.4"/><circle cx="1078.2" cy="1975.7" r="12.4"/><circle cx="1331.9" cy="1745.3" r="12.4"/><circle cx="1037.7" cy="2032.7" r="12.4"/><circle cx="1382.1" cy="1703.6" r="12.4"/><circle cx="1297.2" cy="1793.7" r="12.4"/><circle cx="1186.9" cy="1877.4" r="12.4"/><circle cx="1313" cy="1747.3" r="12.4"/><circle cx="1079.5" cy="1994.4" r="12.4"/><circle cx="1328.1" cy="1762.6" r="12.4"/><circle cx="1238.7" cy="1848.2" r="12.4"/><circle cx="1315.5" cy="1781.5" r="12.4"/><circle cx="1044" cy="2005.2" r="12.4"/><circle cx="970.5" cy="2090.4" r="12.4"/><circle cx="922.4" cy="2129" r="12.4"/><circle cx="1168.2" cy="1895.5" r="12.4"/><circle cx="942.7" cy="2129.1" r="12.4"/><circle cx="1390.9" cy="1674.2" r="12.4"/><circle cx="918.4" cy="2135.8" r="12.4"/><circle cx="1347.1" cy="1748.8" r="12.4"/><circle cx="1011.6" cy="2068.5" r="12.4"/><circle cx="1371" cy="1696.8" r="12.4"/><circle cx="1060.3" cy="2010.8" r="12.4"/><circle cx="942.4" cy="2116" r="12.4"/><circle cx="1371.2" cy="1729.2" r="12.4"/><circle cx="968.1" cy="2095.3" r="12.4"/><circle cx="1395.1" cy="1705.9" r="12.4"/><circle cx="1010.4" cy="2061.4" r="12.4"/><circle cx="920.4" cy="2138.8" r="12.4"/><circle cx="1097" cy="1949.7" r="12.4"/><circle cx="1314.7" cy="1755.5" r="12.4"/><circle cx="1082.7" cy="1990.9" r="12.4"/><circle cx="1424.7" cy="1677.2" r="12.4"/><circle cx="1004.3" cy="2063.3" r="12.4"/><circle cx="1081.4" cy="1971.4" r="12.4"/><circle cx="1159.2" cy="1917.2" r="12.4"/><circle cx="1082.6" cy="1990.3" r="12.4"/><circle cx="1327.3" cy="1752.5" r="12.4"/><circle cx="979.3" cy="2069.4" r="12.4"/><circle cx="1127.6" cy="1955.5" r="12.4"/><circle cx="1431.4" cy="1658.2" r="12.4"/><circle cx="1145.5" cy="1924.1" r="12.4"/><circle cx="1019" cy="2063.1" r="12.4"/><circle cx="1220.7" cy="1872.5" r="12.4"/><circle cx="1075.3" cy="2012.2" r="12.4"/><circle cx="1255.9" cy="1800.2" r="12.4"/><circle cx="1291.9" cy="1788" r="12.4"/><circle cx="1254.5" cy="1832.8" r="12.4"/><circle cx="1438" cy="1651.8" r="12.4"/><circle cx="1239.2" cy="1844" r="12.4"/><circle cx="1292.6" cy="1776.9" r="12.4"/><circle cx="1086" cy="2005.4" r="12.4"/><circle cx="1330.3" cy="1736.6" r="12.4"/><circle cx="1333.8" cy="1768" r="12.4"/><circle cx="1430.3" cy="1655.2" r="12.4"/><circle cx="1323.1" cy="1733.3" r="12.4"/><circle cx="1091.8" cy="1991.6" r="12.4"/><circle cx="1242.2" cy="1854.7" r="12.4"/><circle cx="1114.9" cy="1936.7" r="12.4"/><circle cx="1253.2" cy="1804.4" r="12.4"/><circle cx="1246.6" cy="1810.5" r="12.4"/><circle cx="1256.1" cy="1841.4" r="12.4"/><circle cx="927" cy="2140.9" r="12.4"/><circle cx="1098.4" cy="1948" r="12.4"/><circle cx="1363.1" cy="1713.2" r="12.4"/><circle cx="1066.1" cy="2002.4" r="12.4"/><circle cx="1079.4" cy="2009.1" r="12.4"/><circle cx="1421" cy="1654.5" r="12.4"/><circle cx="1377.2" cy="1688.1" r="12.4"/><circle cx="1158" cy="1930.9" r="12.4"/><circle cx="1420.5" cy="1682" r="12.4"/><circle cx="969.5" cy="2108.7" r="12.4"/><circle cx="1397.4" cy="1674.8" r="12.4"/><circle cx="1156.2" cy="1939" r="12.4"/><circle cx="979.3" cy="2100.3" r="12.4"/><circle cx="1263.1" cy="1791" r="12.4"/><circle cx="967.5" cy="2104.7" r="12.4"/><circle cx="1321.2" cy="1763.8" r="12.4"/><circle cx="1211.6" cy="1846.8" r="12.4"/><circle cx="1006.1" cy="2073.6" r="12.4"/><circle cx="1165.3" cy="1923" r="12.4"/><circle cx="926.3" cy="2124.2" r="12.4"/><circle cx="1288.4" cy="1811.6" r="12.4"/><circle cx="1374.2" cy="1725.9" r="12.4"/><circle cx="1206.6" cy="1866.6" r="12.4"/><circle cx="1129.8" cy="1920.4" r="12.4"/><circle cx="1237.2" cy="1819.1" r="12.4"/><circle cx="1078.7" cy="2012.7" r="12.4"/><circle cx="1173.5" cy="1885.1" r="12.4"/><circle cx="1175" cy="1881.5" r="12.4"/><circle cx="1118.1" cy="1975.3" r="12.4"/><circle cx="1268.4" cy="1812.1" r="12.4"/><circle cx="937" cy="2130.3" r="12.4"/><circle cx="1277.4" cy="1777.2" r="12.4"/><circle cx="1062.4" cy="2000" r="12.4"/><circle cx="1262.1" cy="1821.9" r="12.4"/><circle cx="1151.4" cy="1929.9" r="12.4"/><circle cx="1384.6" cy="1684.3" r="12.4"/><circle cx="1130.4" cy="1925.5" r="12.4"/><circle cx="1038.2" cy="2025" r="12.4"/><circle cx="1142.3" cy="1923.2" r="12.4"/><circle cx="1012.7" cy="2041.1" r="12.4"/><circle cx="984.7" cy="2067.4" r="12.4"/><circle cx="1224.3" cy="1841.3" r="12.4"/><circle cx="1174.1" cy="1915.8" r="12.4"/><circle cx="976.1" cy="2103.4" r="12.4"/><circle cx="965.3" cy="2100.6" r="12.4"/><circle cx="1296.9" cy="1791.2" r="12.4"/><circle cx="962.7" cy="2108.5" r="12.4"/><circle cx="948.3" cy="2122.1" r="12.4"/><circle cx="1133.2" cy="1919.7" r="12.4"/><circle cx="1055.7" cy="2028.3" r="12.4"/><circle cx="1398.8" cy="1677.3" r="12.4"/><circle cx="1028.6" cy="2021.9" r="12.4"/><circle cx="1178.7" cy="1905" r="12.4"/><circle cx="1107.6" cy="1956.1" r="12.4"/><circle cx="1294.9" cy="1791.1" r="12.4"/><circle cx="1410.3" cy="1677" r="12.4"/><circle cx="1170" cy="1920.8" r="12.4"/><circle cx="1217.4" cy="1837.8" r="12.4"/><circle cx="1343.7" cy="1744.4" r="12.4"/><circle cx="954.1" cy="2113.3" r="12.4"/><circle cx="1433.8" cy="1663.3" r="12.4"/><circle cx="930.2" cy="2143.6" r="12.4"/><circle cx="920.8" cy="2148.7" r="12.4"/><circle cx="923.3" cy="2147.9" r="12.4"/><circle cx="924" cy="2152.7" r="12.4"/><circle cx="925.7" cy="2149.3" r="12.4"/><circle cx="913.3" cy="2147.3" r="12.4"/><circle cx="920.2" cy="2146.8" r="12.4"/><circle cx="918" cy="2144.4" r="12.4"/><circle cx="912.3" cy="2146.8" r="12.4"/><circle cx="916.6" cy="2150.2" r="12.4"/><circle cx="926" cy="2146.1" r="12.4"/><circle cx="920.5" cy="2146.3" r="12.4"/><circle cx="916.3" cy="2148.2" r="12.4"/><circle cx="914.6" cy="2149.8" r="12.4"/><circle cx="915.1" cy="2145" r="12.4"/><circle cx="922.7" cy="2154" r="12.4"/><circle cx="1160.1" cy="1857.5" r="12.4"/><circle cx="1177.7" cy="1867.1" r="12.4"/><circle cx="1140.4" cy="1865.9" r="12.4"/><circle cx="1164.1" cy="1851.1" r="12.4"/><circle cx="1165.3" cy="1827.2" r="12.4"/><circle cx="1185.6" cy="1855.6" r="12.4"/><circle cx="1146.8" cy="1838" r="12.4"/><circle cx="1167.4" cy="1844.7" r="12.4"/><circle cx="1130.1" cy="1889" r="12.4"/><circle cx="1138.2" cy="1892.3" r="12.4"/><circle cx="1134.6" cy="1890" r="12.4"/><circle cx="1123.9" cy="1889.6" r="12.4"/><circle cx="1136.1" cy="1886.3" r="12.4"/><circle cx="1078" cy="1916.3" r="12.4"/><circle cx="1069.2" cy="1943.2" r="12.4"/><circle cx="1093.8" cy="1940.9" r="12.4"/><circle cx="1079.6" cy="1958.2" r="12.4"/><circle cx="1068.5" cy="1961.1" r="12.4"/><circle cx="1058.3" cy="1971.1" r="12.4"/><circle cx="1057.5" cy="1964.1" r="12.4"/><circle cx="1250.1" cy="1811.4" r="12.4"/><circle cx="1221.6" cy="1794.5" r="12.4"/><circle cx="1244.8" cy="1801.3" r="12.4"/><circle cx="1210.5" cy="1817.9" r="12.4"/><circle cx="1217" cy="1790.7" r="12.4"/><circle cx="1227.7" cy="1791.9" r="12.4"/><circle cx="1245.9" cy="1784.4" r="12.4"/><circle cx="1215.1" cy="1792" r="12.4"/><circle cx="1228.3" cy="1798.3" r="12.4"/><circle cx="1227" cy="1814" r="12.4"/><circle cx="1223.7" cy="1807" r="12.4"/><circle cx="1241.1" cy="1807.2" r="12.4"/><circle cx="1115.9" cy="1918.8" r="12.4"/><circle cx="1115.6" cy="1910.3" r="12.4"/><circle cx="1108.1" cy="1917.9" r="12.4"/><circle cx="1229.1" cy="1902.6" r="12.4"/><circle cx="1234.1" cy="1891.9" r="12.4"/><circle cx="1232.5" cy="1926.4" r="12.4"/><circle cx="1213" cy="1923.7" r="12.4"/><circle cx="1197.6" cy="1923" r="12.4"/><circle cx="1203.1" cy="1952.6" r="12.4"/><circle cx="1193.2" cy="1968.4" r="12.4"/><circle cx="1172.1" cy="1972.1" r="12.4"/><circle cx="1160.4" cy="1964.5" r="12.4"/><circle cx="1167.2" cy="1944.8" r="12.4"/><circle cx="1173.3" cy="1939.7" r="12.4"/><circle cx="1190.4" cy="1939.8" r="12.4"/><circle cx="1181.3" cy="1943.9" r="12.4"/><circle cx="1147" cy="2005.7" r="12.4"/><circle cx="1131.1" cy="1994.7" r="12.4"/><circle cx="1130.2" cy="1984.1" r="12.4"/><circle cx="1126" cy="1989" r="12.4"/><circle cx="1226.1" cy="1803.8" r="12.4"/><circle cx="1220.7" cy="1789.5" r="12.4"/><circle cx="1215.9" cy="1772.9" r="12.4"/><circle cx="1217.4" cy="1774.3" r="12.4"/><circle cx="1224.8" cy="1815.1" r="12.4"/><circle cx="1208.3" cy="1785.5" r="12.4"/><circle cx="1221.7" cy="1784.4" r="12.4"/><circle cx="1227.1" cy="1794.7" r="12.4"/><circle cx="1225.7" cy="1784.7" r="12.4"/><circle cx="1269.2" cy="1758.7" r="12.4"/><circle cx="1241.7" cy="1770.6" r="12.4"/><circle cx="1268.8" cy="1750.9" r="12.4"/><circle cx="1276.1" cy="1765.1" r="12.4"/><circle cx="1244.3" cy="1778.1" r="12.4"/><circle cx="1236.5" cy="1763.5" r="12.4"/><circle cx="1289.3" cy="1753.4" r="12.4"/><circle cx="1284.8" cy="1744.6" r="12.4"/><circle cx="1283.7" cy="1746.5" r="12.4"/><circle cx="1302.7" cy="1709.8" r="12.4"/><circle cx="1303.7" cy="1704.8" r="12.4"/><circle cx="1302.8" cy="1707.6" r="12.4"/><circle cx="1321.3" cy="1700.4" r="12.4"/><circle cx="1337.6" cy="1701.7" r="12.4"/><circle cx="1327.7" cy="1683.1" r="12.4"/><circle cx="1330.3" cy="1693.1" r="12.4"/><circle cx="1332.9" cy="1683.3" r="12.4"/><circle cx="1331.1" cy="1693.2" r="12.4"/><circle cx="1335.3" cy="1693.2" r="12.4"/><circle cx="1322.7" cy="1692.7" r="12.4"/><circle cx="1374.6" cy="1663.1" r="12.4"/><circle cx="1375" cy="1668.6" r="12.4"/><circle cx="1395" cy="1653.9" r="12.4"/><circle cx="1395.4" cy="1648.3" r="12.4"/><circle cx="1416.2" cy="1633.3" r="12.4"/><circle cx="1413.2" cy="1638.3" r="12.4"/><circle cx="1400" cy="1747.4" r="12.4"/><circle cx="1385.7" cy="1740.5" r="12.4"/><circle cx="1402.1" cy="1745.4" r="12.4"/><circle cx="1393.8" cy="1755.6" r="12.4"/><circle cx="1384.4" cy="1741.6" r="12.4"/><circle cx="1405.5" cy="1729.5" r="12.4"/><circle cx="1391.5" cy="1734.7" r="12.4"/><circle cx="1401.8" cy="1741.4" r="12.4"/><circle cx="1390.7" cy="1747.4" r="12.4"/><circle cx="1364.9" cy="1759.4" r="12.4"/><circle cx="1423.6" cy="1711.6" r="12.4"/><circle cx="1407.9" cy="1714.6" r="12.4"/><circle cx="1397.9" cy="1715.6" r="12.4"/><circle cx="1409" cy="1743.6" r="12.4"/><circle cx="1431.7" cy="1712" r="12.4"/><circle cx="1417.5" cy="1715.6" r="12.4"/><circle cx="1441" cy="1707.6" r="12.4"/><circle cx="1409.5" cy="1707.2" r="12.4"/><circle cx="1436.2" cy="1694.9" r="12.4"/><circle cx="1441.4" cy="1687.3" r="12.4"/><circle cx="1439" cy="1683.7" r="12.4"/><circle cx="1449" cy="1667.8" r="12.4"/><circle cx="1430.4" cy="1674.4" r="12.4"/><circle cx="1437.4" cy="1682.4" r="12.4"/><circle cx="1343.7" cy="1798.3" r="12.4"/><circle cx="1344.2" cy="1797.5" r="12.4"/><circle cx="1336.2" cy="1817.2" r="12.4"/><circle cx="1347.9" cy="1822.9" r="12.4"/><circle cx="1356.4" cy="1812.3" r="12.4"/><circle cx="1356.3" cy="1801.9" r="12.4"/><circle cx="1367.3" cy="1803.6" r="12.4"/><circle cx="1360.7" cy="1783.9" r="12.4"/><circle cx="1360" cy="1777.1" r="12.4"/><circle cx="1272.4" cy="1882.4" r="12.4"/><circle cx="1283.1" cy="1852.9" r="12.4"/><circle cx="1283" cy="1850.6" r="12.4"/><circle cx="1258.1" cy="1866.6" r="12.4"/><circle cx="1263.5" cy="1858.5" r="12.4"/><circle cx="1018.2" cy="2021.4" r="12.4"/><circle cx="1018.8" cy="2017.1" r="12.4"/><circle cx="1008" cy="2034.3" r="12.4"/><circle cx="985.8" cy="2059.9" r="12.4"/><circle cx="992.4" cy="2056.2" r="12.4"/><circle cx="1034.5" cy="2069.1" r="12.4"/><circle cx="1041.6" cy="2054.3" r="12.4"/><circle cx="1034.5" cy="2064.1" r="12.4"/><circle cx="998" cy="2087.7" r="12.4"/><circle cx="1006.1" cy="2088.1" r="12.4"/><circle cx="1331.7" cy="1777.8" r="12.4"/><circle cx="1426.7" cy="1638.6" r="12.4"/><circle cx="1088.5" cy="1952.4" r="12.4"/><circle cx="1252.8" cy="1857.8" r="12.4"/><circle cx="1388.9" cy="1719.2" r="12.4"/><circle cx="1395.4" cy="1717.3" r="12.4"/><circle cx="1344.3" cy="1760.8" r="12.4"/><circle cx="1257.4" cy="1765.3" r="12.4"/><circle cx="1340.3" cy="1697" r="12.4"/><circle cx="1171.2" cy="1881.3" r="12.4"/><circle cx="1026.9" cy="2016.7" r="12.4"/><circle cx="1214.3" cy="1834.8" r="12.4"/><circle cx="1011.6" cy="2073.1" r="12.4"/><circle cx="1195.7" cy="1843.2" r="12.4"/><circle cx="1104.9" cy="1934.7" r="12.4"/><circle cx="1105.9" cy="1932.6" r="12.4"/><circle cx="1261.1" cy="1752.4" r="12.4"/><circle cx="1421.1" cy="1728.5" r="12.4"/><circle cx="1404" cy="1745.5" r="12.4"/><circle cx="1133.5" cy="1894.3" r="12.4"/><circle cx="1429.6" cy="1644.3" r="12.4"/><circle cx="1196.9" cy="1905.7" r="12.4"/><circle cx="1348.4" cy="1760.1" r="12.4"/><circle cx="1358.6" cy="1695.8" r="12.4"/><circle cx="1198.1" cy="1904.6" r="12.4"/><circle cx="1286.9" cy="1746.6" r="12.4"/><circle cx="1309.5" cy="1791.6" r="12.4"/><circle cx="1006" cy="2042.7" r="12.4"/><circle cx="1298.4" cy="1747.7" r="12.4"/><circle cx="1012.5" cy="2032" r="12.4"/><circle cx="1410" cy="1621.7" r="12.4"/><circle cx="1385.2" cy="1722" r="12.4"/><circle cx="1103.9" cy="1938.9" r="12.4"/><circle cx="1002.1" cy="2100.7" r="12.4"/><circle cx="1241.4" cy="1909.8" r="12.4"/><circle cx="1263.7" cy="1767.2" r="12.4"/><circle cx="1370" cy="1759.4" r="12.4"/><circle cx="1079.7" cy="1960.2" r="12.4"/><circle cx="1394.8" cy="1718.5" r="12.4"/><circle cx="1389.5" cy="1636.7" r="12.4"/><circle cx="1349.8" cy="1766" r="12.4"/><circle cx="1306.2" cy="1743.3" r="12.4"/><circle cx="1133.2" cy="1980.2" r="12.4"/><circle cx="1415.5" cy="1635.2" r="12.4"/><circle cx="1231.4" cy="1772.6" r="12.4"/><circle cx="1364.2" cy="1691.4" r="12.4"/><circle cx="1385.8" cy="1650.2" r="12.4"/><circle cx="1330.2" cy="1793.3" r="12.4"/><circle cx="1190.5" cy="1925" r="12.4"/><circle cx="1249.4" cy="1799.3" r="12.4"/><circle cx="1133.5" cy="1904.1" r="12.4"/><circle cx="1026" cy="2016.9" r="12.4"/><circle cx="1281.9" cy="1849.3" r="12.4"/><circle cx="1003" cy="2045.1" r="12.4"/><circle cx="1264.1" cy="1852" r="12.4"/><circle cx="1033.2" cy="2053.5" r="12.4"/><circle cx="1029.9" cy="1998.5" r="12.4"/><circle cx="1015.5" cy="2018.9" r="12.4"/><circle cx="1292.6" cy="1818.7" r="12.4"/><circle cx="1366.3" cy="1744" r="12.4"/><circle cx="1099" cy="1945.2" r="12.4"/><circle cx="1012.1" cy="2023" r="12.4"/><circle cx="1203.4" cy="1849.5" r="12.4"/><circle cx="1299.8" cy="1745.3" r="12.4"/><circle cx="1213.4" cy="1929.1" r="12.4"/><circle cx="1157" cy="1963.9" r="12.4"/><circle cx="1053.2" cy="2040.1" r="12.4"/><circle cx="1167.6" cy="1935.5" r="12.4"/><circle cx="1353.5" cy="1688.2" r="12.4"/><circle cx="1275.1" cy="1736" r="12.4"/><circle cx="997.3" cy="2084.7" r="12.4"/><circle cx="1365.4" cy="1748.8" r="12.4"/><circle cx="1045" cy="2000" r="12.4"/><circle cx="1406.7" cy="1650.2" r="12.4"/><circle cx="1127.5" cy="2009.7" r="12.4"/><circle cx="1040.2" cy="2056.1" r="12.4"/><circle cx="1406.7" cy="1699.9" r="12.4"/><circle cx="1022.1" cy="2062.2" r="12.4"/><circle cx="1377" cy="1682" r="12.4"/><circle cx="1325.4" cy="1789.3" r="12.4"/><circle cx="1145.1" cy="1994.5" r="12.4"/><circle cx="1171.5" cy="1858.5" r="12.4"/><circle cx="981.6" cy="2066.6" r="12.4"/><circle cx="1159.2" cy="1871" r="12.4"/><circle cx="1426.9" cy="1674.8" r="12.4"/><circle cx="1339" cy="1786.8" r="12.4"/><circle cx="1325.4" cy="1787.7" r="12.4"/><circle cx="1170.2" cy="1945.5" r="12.4"/><circle cx="1110.5" cy="1910.8" r="12.4"/><circle cx="1440.3" cy="1700.3" r="12.4"/><circle cx="1034.9" cy="2058" r="12.4"/><circle cx="1175.5" cy="1844.6" r="12.4"/><circle cx="1074.1" cy="1946.6" r="12.4"/><circle cx="1329.5" cy="1784.7" r="12.4"/><circle cx="1257.8" cy="1784.6" r="12.4"/><circle cx="1192.7" cy="1849.4" r="12.4"/><circle cx="1189" cy="1866.6" r="12.4"/><circle cx="1374.4" cy="1732.3" r="12.4"/><circle cx="1310.3" cy="1804.6" r="12.4"/><circle cx="1025.4" cy="2017.9" r="12.4"/><circle cx="1188.9" cy="1860.2" r="12.4"/><circle cx="1286.8" cy="1753.1" r="12.4"/><circle cx="1300.9" cy="1817.8" r="12.4"/><circle cx="1071.3" cy="2027.1" r="12.4"/><circle cx="989.1" cy="2094.5" r="12.4"/><circle cx="1362" cy="1771.5" r="12.4"/><circle cx="1335.9" cy="1779.2" r="12.4"/><circle cx="1315.9" cy="1803.7" r="12.4"/><circle cx="1415.5" cy="1710.3" r="12.4"/><circle cx="1417.5" cy="1650.1" r="12.4"/><circle cx="1314.3" cy="1788.3" r="12.4"/><circle cx="1400.4" cy="1714.1" r="12.4"/><circle cx="1153.4" cy="1954.6" r="12.4"/><circle cx="1395.5" cy="1712.6" r="12.4"/><circle cx="1248.8" cy="1799.6" r="12.4"/><circle cx="1251.1" cy="1776" r="12.4"/><circle cx="1328.1" cy="1834.4" r="12.4"/><circle cx="1262" cy="1763.5" r="12.4"/><circle cx="1378.5" cy="1648.6" r="12.4"/><circle cx="1095.6" cy="2027.1" r="12.4"/><circle cx="1016.8" cy="2069.5" r="12.4"/><circle cx="1427" cy="1704.3" r="12.4"/><circle cx="1276.4" cy="1766.7" r="12.4"/><circle cx="1302.2" cy="1801.3" r="12.4"/><circle cx="1043.6" cy="2002.7" r="12.4"/><circle cx="1400.8" cy="1765.5" r="12.4"/><circle cx="1106.9" cy="2005" r="12.4"/><circle cx="1010.5" cy="2076.8" r="12.4"/><circle cx="1320.1" cy="1793.4" r="12.4"/><circle cx="1022" cy="2062.5" r="12.4"/><circle cx="1133.3" cy="1910.2" r="12.4"/><circle cx="1257.8" cy="1855.8" r="12.4"/><circle cx="1348.9" cy="1685.8" r="12.4"/><circle cx="1365" cy="1740.1" r="12.4"/><circle cx="1167.1" cy="1884.9" r="12.4"/><circle cx="1213.3" cy="1815.8" r="12.4"/><circle cx="1398.7" cy="1659.1" r="12.4"/><circle cx="1402.1" cy="1733.4" r="12.4"/><circle cx="1454.6" cy="1640" r="12.4"/><circle cx="1439.6" cy="1648.4" r="12.4"/><circle cx="1447.3" cy="1638.1" r="12.4"/><circle cx="1447.5" cy="1635.9" r="12.4"/><circle cx="1447" cy="1641.9" r="12.4"/><circle cx="1444.3" cy="1651.1" r="12.4"/><circle cx="1432.1" cy="1634.3" r="12.4"/><circle cx="1459" cy="1622.3" r="12.4"/><circle cx="1453.6" cy="1639.1" r="12.4"/><circle cx="1426.6" cy="1661.8" r="12.4"/><circle cx="1455.7" cy="1645.2" r="12.4"/><circle cx="1448.7" cy="1652" r="12.4"/><circle cx="1446.9" cy="1649" r="12.4"/><circle cx="1433.8" cy="1668" r="12.4"/><circle cx="1429.2" cy="1670.8" r="12.4"/><circle cx="1426.9" cy="1658.5" r="12.4"/><circle cx="1455" cy="1629.2" r="12.4"/><circle cx="1429.2" cy="1665.4" r="12.4"/><circle cx="1445.3" cy="1628.9" r="12.4"/><circle cx="1444.3" cy="1642.3" r="12.4"/><circle cx="1089.5" cy="1857.9" r="12.4"/><circle cx="1098" cy="1849.7" r="12.4"/><circle cx="1128.3" cy="1833.8" r="12.4"/><circle cx="1143" cy="1820.6" r="12.4"/><circle cx="1174.1" cy="1813.9" r="12.4"/><circle cx="1206" cy="1769.8" r="12.4"/><circle cx="1202.8" cy="1803.9" r="12.4"/><circle cx="1093.4" cy="1918.6" r="12.4"/><circle cx="1074.1" cy="1941.3" r="12.4"/><circle cx="1125.1" cy="1887.6" r="12.4"/><circle cx="1007.6" cy="2018" r="12.4"/><circle cx="1303.6" cy="1708.3" r="12.4"/><circle cx="1339.4" cy="1676.4" r="12.4"/><circle cx="1242.6" cy="1768" r="12.4"/><circle cx="1257.6" cy="1760.1" r="12.4"/><circle cx="1218.7" cy="1794.9" r="12.4"/><circle cx="1224.7" cy="1786" r="12.4"/><circle cx="1151" cy="1857.7" r="12.4"/><circle cx="1170.9" cy="1849.7" r="12.4"/><circle cx="1161" cy="1857.7" r="12.4"/><circle cx="1463" cy="1615.6" r="12.4"/><circle cx="1464.8" cy="1626.6" r="12.4"/><circle cx="1449.8" cy="1622.6" r="12.4"/><circle cx="1461.8" cy="1726.2" r="12.4"/><circle cx="1432.7" cy="1750.9" r="12.4"/><circle cx="1431.9" cy="1786.2" r="12.4"/><circle cx="1419.1" cy="1788" r="12.4"/><circle cx="1423.9" cy="1813.9" r="12.4"/><circle cx="1407" cy="1814.7" r="12.4"/><circle cx="1382.9" cy="1844.5" r="12.4"/><circle cx="1382.9" cy="1849.5" r="12.4"/><circle cx="1309.6" cy="1872.8" r="12.4"/><circle cx="1280.5" cy="1881.6" r="12.4"/><circle cx="1258.6" cy="1937.4" r="12.4"/><circle cx="1255.8" cy="1917.4" r="12.4"/><circle cx="1237.7" cy="1922.4" r="12.4"/><circle cx="1216.7" cy="1923.4" r="12.4"/><circle cx="1204.8" cy="1955.3" r="12.4"/><circle cx="1196.8" cy="1967.2" r="12.4"/><circle cx="1176.9" cy="1971.2" r="12.4"/><circle cx="1161" cy="1970.2" r="12.4"/><circle cx="1141" cy="2007.1" r="12.4"/><circle cx="1132.1" cy="2001.1" r="12.4"/><circle cx="1117.1" cy="2001.1" r="12.4"/><circle cx="1086.5" cy="2070" r="12.4"/><circle cx="1065.3" cy="2061.9" r="12.4"/><circle cx="1087.3" cy="2040.9" r="12.4"/><circle cx="1073.3" cy="2046.9" r="12.4"/><circle cx="1350.2" cy="1825.8" r="12.4"/><circle cx="1361.2" cy="1825.8" r="12.4"/><circle cx="1338.2" cy="1814.8" r="12.4"/><circle cx="1370.1" cy="1805.9" r="12.4"/><circle cx="1374.1" cy="1793.9" r="12.4"/><circle cx="1394" cy="1754.1" r="12.4"/><circle cx="1398" cy="1746.1" r="12.4"/></g>
<text x="1192" y="2251.8" text-anchor="middle" class="lb">Simulated EG value</text>
<text transform="translate(860.7 1882) rotate(-90)" text-anchor="middle" class="lb">Predicted EG value</text>
<text x="912.3" y="1615.7" class="xx">×</text>
<text x="941.8" y="1609.2" class="tk">10</text>
<text x="984.2" y="1590" class="sp">5</text>
<text x="1384.6" y="2267.3" class="xx">×</text>
<text x="1413.6" y="2260" class="tk">10</text>
<text x="1457.6" y="2242" class="sp">5</text></g>
<rect x="134.8" y="168.4" width="496.3" height="97.4" fill="#fff" stroke="#262626" stroke-width="2"/>
<circle cx="210.6" cy="195.3" r="12.4" fill="none" stroke="#0072BD" stroke-width="1.9"/>
<line x1="147.5" y1="239.3" x2="273.9" y2="239.3" stroke="#D95319" stroke-width="2"/>
<text x="284" y="208.3" class="lg">Data</text>
<text x="284" y="252.3" class="lg">Simulated = Predicted</text>
<text x="784.7" y="56.3" text-anchor="middle" class="tt">Unchanged algorithm</text>
<text x="798.5" y="826.7" text-anchor="middle" class="tt">ATC algorithm 1</text>
<text x="788.5" y="1571" text-anchor="middle" class="tt">ATC algorithm 2</text>
<text x="382.4" y="123.5" text-anchor="middle" class="tt">LC predictions</text>
<text x="1192.8" y="120.1" text-anchor="middle" class="tt">EG predictions</text>
<text x="390.2" y="820.4" text-anchor="middle" class="pl">(a)</text>
<text x="1210.9" y="819.5" text-anchor="middle" class="pl">(b)</text>
<text x="386.9" y="1561.9" text-anchor="middle" class="pl">(c)</text>
<text x="1194" y="1572.7" text-anchor="middle" class="pl">(d)</text>
<text x="381.9" y="2301" text-anchor="middle" class="pl">(e)</text>
<text x="1200.6" y="2300" text-anchor="middle" class="pl">(f)</text>
</svg></body></html>
